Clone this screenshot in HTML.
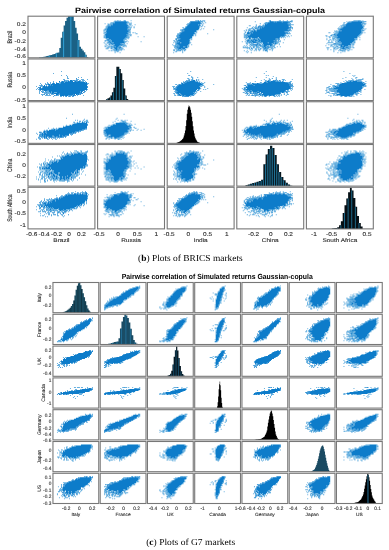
<!DOCTYPE html>
<html><head><meta charset="utf-8"><style>
html,body{margin:0;padding:0;background:#fff;}
svg{display:block;}
text{font-family:"Liberation Sans",Arial,sans-serif;text-rendering:geometricPrecision;}
text.t{stroke:#333;stroke-width:0.1px;}
text.serif{font-family:"Liberation Serif","Times New Roman",serif;}
</style></head><body>
<svg width="389" height="550" viewBox="0 0 389 550">
<defs><filter id="sb" x="-5%" y="-5%" width="110%" height="110%"><feGaussianBlur stdDeviation="0.35"/></filter></defs>
<rect width="389" height="550" fill="#fff"/>
<path d="M39.04 57.8V57.32H40.48V57.16H41.93V57H43.38V56.73H44.82V56.43H46.27V56.11H47.72V55.73H49.16V55.34H50.61V54.93H52.05V54.47H53.5V54.01H54.95V53.38H56.39V52.78H57.84V52.56H59.29V47.99H60.73V37.86H62.18V31.73H63.62V25.46H65.07V21.11H66.52V17.83H67.96V16.24H69.41V16.2H70.86V16.2H72.3V16.2H73.75V20.9H75.19V27.74H76.64V33.41H78.09V40.04H79.53V46.79H80.98V48.64H82.43V50.4H83.87V52.25H85.32V54.66H86.76V57.03H88.21V57.8Z" fill="#1b6185"/>
<path d="M41.93 57.8V57.16M49.16 57.8V55.73M56.39 57.8V53.38M63.62 57.8V31.73M70.86 57.8V16.2M78.09 57.8V40.04M85.32 57.8V54.66" stroke="#33a8e0" stroke-width="0.9" fill="none"/>
<rect x="28" y="16.2" width="66.9" height="41.6" fill="none" stroke="#777777" stroke-width="1.1"/>
<g transform="translate(97.6,16.2)" fill="#0a7cca" filter="url(#sb)"><path d="M17 4h1v1h-1zM19 4h1v1h-1zM33 4h1v1h-1zM16 5h1v1h-1zM29 5h2v1h-2zM14 6h1v1h-1zM16 6h1v1h-1zM30 6h2v1h-2zM33 6h1v1h-1zM7 7h1v1h-1zM10 7h1v1h-1zM12 7h3v1h-3zM31 7h2v1h-2zM12 8h1v1h-1zM31 8h3v1h-3zM37 8h1v1h-1zM9 9h1v1h-1zM12 9h1v1h-1zM32 9h1v1h-1zM34 9h1v1h-1zM8 10h1v1h-1zM33 10h1v1h-1zM36 10h1v1h-1zM8 11h1v1h-1zM31 11h2v1h-2zM7 12h1v1h-1zM6 13h1v1h-1zM32 14h1v1h-1zM6 15h1v1h-1zM31 15h1v1h-1zM6 16h1v1h-1zM31 16h1v1h-1zM37 16h1v1h-1zM32 17h1v1h-1zM38 17h2v1h-2zM31 18h2v1h-2zM6 19h1v1h-1zM32 19h2v1h-2zM6 20h2v1h-2zM30 20h2v1h-2zM40 20h1v1h-1zM46 20h1v1h-1zM6 21h2v1h-2zM30 21h2v1h-2zM10 22h1v1h-1zM28 22h1v1h-1zM12 23h1v1h-1zM27 23h1v1h-1zM9 24h1v1h-1zM13 24h1v1h-1zM29 24h1v1h-1zM7 25h1v1h-1zM10 25h1v1h-1zM30 25h1v1h-1zM43 25h1v1h-1zM6 26h1v1h-1zM9 26h1v1h-1zM27 26h1v1h-1zM7 27h1v1h-1zM9 27h1v1h-1zM12 27h1v1h-1zM29 27h1v1h-1zM16 28h1v1h-1zM26 28h2v1h-2zM7 29h1v1h-1zM11 29h1v1h-1zM15 29h1v1h-1zM22 29h1v1h-1zM24 29h1v1h-1zM26 29h3v1h-3zM7 30h2v1h-2zM10 30h1v1h-1zM12 30h1v1h-1zM25 30h2v1h-2zM28 30h1v1h-1zM9 31h3v1h-3zM14 31h2v1h-2zM24 31h1v1h-1zM8 32h1v1h-1zM10 32h1v1h-1zM16 32h1v1h-1zM20 32h1v1h-1zM22 32h4v1h-4zM15 33h3v1h-3zM22 33h1v1h-1zM24 33h1v1h-1zM26 33h1v1h-1zM11 34h1v1h-1zM13 34h2v1h-2zM17 34h1v1h-1zM19 34h1v1h-1zM21 34h1v1h-1zM23 34h1v1h-1zM17 35h1v1h-1zM19 35h2v1h-2zM17 36h1v1h-1zM22 36h1v1h-1z" fill-opacity="0.6"/><path d="M20 4h1v1h-1zM22 4h1v1h-1zM26 4h1v1h-1zM13 6h1v1h-1zM29 7h1v1h-1zM33 7h1v1h-1zM10 8h2v1h-2zM14 8h1v1h-1zM10 9h1v1h-1zM9 10h1v1h-1zM30 10h1v1h-1zM9 11h1v1h-1zM33 11h1v1h-1zM36 11h1v1h-1zM8 12h1v1h-1zM30 12h1v1h-1zM7 13h2v1h-2zM30 13h2v1h-2zM8 14h1v1h-1zM32 15h1v1h-1zM8 16h1v1h-1zM30 16h1v1h-1zM32 16h1v1h-1zM35 16h1v1h-1zM6 17h1v1h-1zM29 18h2v1h-2zM33 18h1v1h-1zM7 19h1v1h-1zM30 19h1v1h-1zM29 20h1v1h-1zM28 21h2v1h-2zM8 22h2v1h-2zM27 22h1v1h-1zM30 22h1v1h-1zM26 23h1v1h-1zM28 23h1v1h-1zM7 24h2v1h-2zM11 24h1v1h-1zM26 24h1v1h-1zM13 25h1v1h-1zM27 25h1v1h-1zM11 26h1v1h-1zM14 26h2v1h-2zM11 27h1v1h-1zM23 27h2v1h-2zM8 28h1v1h-1zM11 28h2v1h-2zM15 28h1v1h-1zM9 29h1v1h-1zM13 29h1v1h-1zM25 29h1v1h-1zM11 30h1v1h-1zM13 30h3v1h-3zM17 30h1v1h-1zM21 30h1v1h-1zM13 31h1v1h-1zM20 31h1v1h-1zM9 32h1v1h-1zM13 32h2v1h-2zM20 33h2v1h-2zM16 34h1v1h-1z" fill-opacity="0.8"/><path d="M27 4h1v1h-1zM17 5h12v1h-12zM15 6h1v1h-1zM17 6h13v1h-13zM15 7h14v1h-14zM13 8h1v1h-1zM15 8h15v1h-15zM11 9h1v1h-1zM13 9h18v1h-18zM10 10h20v1h-20zM31 10h1v1h-1zM10 11h21v1h-21zM9 12h21v1h-21zM32 12h1v1h-1zM9 13h21v1h-21zM32 13h1v1h-1zM6 14h1v1h-1zM9 14h23v1h-23zM8 15h23v1h-23zM7 16h1v1h-1zM9 16h21v1h-21zM8 17h23v1h-23zM7 18h22v1h-22zM8 19h22v1h-22zM8 20h21v1h-21zM8 21h20v1h-20zM11 22h16v1h-16zM9 23h3v1h-3zM13 23h13v1h-13zM10 24h1v1h-1zM12 24h1v1h-1zM14 24h12v1h-12zM11 25h2v1h-2zM14 25h13v1h-13zM28 25h1v1h-1zM10 26h1v1h-1zM12 26h2v1h-2zM16 26h11v1h-11zM13 27h10v1h-10zM26 27h1v1h-1zM14 28h1v1h-1zM17 28h9v1h-9zM16 29h6v1h-6zM23 29h1v1h-1zM16 30h1v1h-1zM18 30h3v1h-3zM22 30h1v1h-1zM16 31h4v1h-4zM21 31h3v1h-3zM17 32h3v1h-3zM21 32h1v1h-1zM18 33h2v1h-2zM23 33h1v1h-1zM18 34h1v1h-1zM20 34h1v1h-1z"/></g>
<rect x="97.6" y="16.2" width="66.9" height="41.6" fill="none" stroke="#777777" stroke-width="1.1"/>
<g transform="translate(167.2,16.2)" fill="#0a7cca" filter="url(#sb)"><path d="M28 4h3v1h-3zM35 4h3v1h-3zM37 5h1v1h-1zM35 6h1v1h-1zM38 6h1v1h-1zM20 7h1v1h-1zM36 7h1v1h-1zM19 8h2v1h-2zM35 8h1v1h-1zM18 10h1v1h-1zM37 10h1v1h-1zM15 11h2v1h-2zM32 11h1v1h-1zM16 12h1v1h-1zM34 12h1v1h-1zM36 12h1v1h-1zM13 13h2v1h-2zM31 13h1v1h-1zM33 13h1v1h-1zM46 13h1v1h-1zM13 14h2v1h-2zM29 14h1v1h-1zM14 15h1v1h-1zM29 15h1v1h-1zM12 16h1v1h-1zM29 16h1v1h-1zM10 17h2v1h-2zM28 17h1v1h-1zM40 17h1v1h-1zM28 18h1v1h-1zM9 19h1v1h-1zM26 19h1v1h-1zM28 19h1v1h-1zM9 20h1v1h-1zM8 22h1v1h-1zM24 22h1v1h-1zM8 23h1v1h-1zM24 23h1v1h-1zM6 24h1v1h-1zM7 25h3v1h-3zM6 26h1v1h-1zM8 26h1v1h-1zM13 26h1v1h-1zM23 26h1v1h-1zM8 27h1v1h-1zM22 27h1v1h-1zM5 28h1v1h-1zM21 28h1v1h-1zM24 28h1v1h-1zM6 29h2v1h-2zM9 29h1v1h-1zM21 29h1v1h-1zM7 30h1v1h-1zM20 30h2v1h-2zM8 31h1v1h-1zM20 31h1v1h-1zM8 32h2v1h-2zM6 33h2v1h-2zM9 33h2v1h-2zM12 33h1v1h-1zM15 33h3v1h-3zM6 34h2v1h-2zM9 34h2v1h-2zM15 34h1v1h-1zM8 35h2v1h-2zM15 35h1v1h-1zM6 36h1v1h-1zM15 36h1v1h-1z" fill-opacity="0.6"/><path d="M33 5h1v1h-1zM35 5h1v1h-1zM22 6h1v1h-1zM33 6h1v1h-1zM21 7h1v1h-1zM34 7h1v1h-1zM31 8h1v1h-1zM33 9h1v1h-1zM35 9h1v1h-1zM32 10h1v1h-1zM34 10h1v1h-1zM16 14h1v1h-1zM27 16h1v1h-1zM12 17h1v1h-1zM10 18h2v1h-2zM26 18h1v1h-1zM10 19h1v1h-1zM11 20h1v1h-1zM10 22h3v1h-3zM23 22h1v1h-1zM22 23h1v1h-1zM7 24h1v1h-1zM9 24h1v1h-1zM11 25h1v1h-1zM22 25h1v1h-1zM9 26h1v1h-1zM22 26h1v1h-1zM8 28h3v1h-3zM8 29h1v1h-1zM10 29h2v1h-2zM20 29h1v1h-1zM8 30h1v1h-1zM11 30h1v1h-1zM16 30h2v1h-2zM7 31h1v1h-1zM9 31h1v1h-1zM10 32h1v1h-1zM14 32h1v1h-1zM13 33h1v1h-1zM11 34h3v1h-3z" fill-opacity="0.8"/><path d="M31 4h1v1h-1zM33 4h1v1h-1zM23 5h10v1h-10zM34 5h1v1h-1zM23 6h10v1h-10zM22 7h12v1h-12zM21 8h10v1h-10zM32 8h1v1h-1zM20 9h13v1h-13zM19 10h13v1h-13zM18 11h14v1h-14zM17 12h15v1h-15zM15 13h16v1h-16zM15 14h1v1h-1zM17 14h12v1h-12zM15 15h14v1h-14zM13 16h14v1h-14zM13 17h15v1h-15zM12 18h14v1h-14zM11 19h15v1h-15zM10 20h1v1h-1zM12 20h13v1h-13zM10 21h15v1h-15zM9 22h1v1h-1zM13 22h10v1h-10zM9 23h1v1h-1zM11 23h11v1h-11zM10 24h13v1h-13zM10 25h1v1h-1zM12 25h10v1h-10zM10 26h3v1h-3zM14 26h8v1h-8zM9 27h13v1h-13zM11 28h10v1h-10zM12 29h8v1h-8zM9 30h2v1h-2zM12 30h4v1h-4zM18 30h2v1h-2zM10 31h10v1h-10zM11 32h3v1h-3zM15 32h3v1h-3zM11 33h1v1h-1zM14 33h1v1h-1zM18 33h1v1h-1zM17 34h1v1h-1z"/></g>
<rect x="167.2" y="16.2" width="66.9" height="41.6" fill="none" stroke="#777777" stroke-width="1.1"/>
<g transform="translate(236.8,16.2)" fill="#0a7cca" filter="url(#sb)"><path d="M32 4h1v1h-1zM42 4h1v1h-1zM46 4h1v1h-1zM54 4h2v1h-2zM18 5h1v1h-1zM32 5h1v1h-1zM55 5h1v1h-1zM28 6h1v1h-1zM27 7h1v1h-1zM52 7h1v1h-1zM19 8h1v1h-1zM26 8h1v1h-1zM54 8h3v1h-3zM12 9h2v1h-2zM22 9h2v1h-2zM25 9h1v1h-1zM16 10h1v1h-1zM18 10h2v1h-2zM54 10h1v1h-1zM10 11h1v1h-1zM17 11h2v1h-2zM20 11h1v1h-1zM22 11h1v1h-1zM54 11h1v1h-1zM12 12h2v1h-2zM15 12h1v1h-1zM22 12h1v1h-1zM9 13h1v1h-1zM11 13h1v1h-1zM13 13h1v1h-1zM51 13h1v1h-1zM7 14h1v1h-1zM11 14h1v1h-1zM13 14h1v1h-1zM16 14h1v1h-1zM53 14h2v1h-2zM8 15h1v1h-1zM13 15h1v1h-1zM49 15h2v1h-2zM52 17h2v1h-2zM7 18h2v1h-2zM12 18h1v1h-1zM7 19h1v1h-1zM49 19h1v1h-1zM54 19h1v1h-1zM7 20h2v1h-2zM10 20h1v1h-1zM50 20h1v1h-1zM52 20h1v1h-1zM7 21h2v1h-2zM46 21h1v1h-1zM48 21h1v1h-1zM15 22h2v1h-2zM18 22h1v1h-1zM22 22h1v1h-1zM8 23h1v1h-1zM10 23h1v1h-1zM13 23h1v1h-1zM15 23h1v1h-1zM20 23h1v1h-1zM40 23h1v1h-1zM47 23h1v1h-1zM9 24h1v1h-1zM43 24h1v1h-1zM5 25h1v1h-1zM8 25h1v1h-1zM20 25h1v1h-1zM40 25h4v1h-4zM9 26h3v1h-3zM15 26h1v1h-1zM21 26h2v1h-2zM25 26h1v1h-1zM37 26h1v1h-1zM40 26h2v1h-2zM46 26h1v1h-1zM9 27h1v1h-1zM12 27h1v1h-1zM15 27h2v1h-2zM24 27h1v1h-1zM35 27h1v1h-1zM40 27h1v1h-1zM42 27h1v1h-1zM10 28h1v1h-1zM14 28h1v1h-1zM21 28h1v1h-1zM37 28h2v1h-2zM42 28h1v1h-1zM7 29h1v1h-1zM9 29h1v1h-1zM12 29h1v1h-1zM15 29h3v1h-3zM20 29h2v1h-2zM25 29h1v1h-1zM30 29h1v1h-1zM36 29h1v1h-1zM6 30h1v1h-1zM8 30h1v1h-1zM10 30h1v1h-1zM21 30h1v1h-1zM23 30h2v1h-2zM29 30h1v1h-1zM32 30h1v1h-1zM34 30h4v1h-4zM40 30h1v1h-1zM43 30h1v1h-1zM6 31h3v1h-3zM10 31h2v1h-2zM17 31h1v1h-1zM19 31h3v1h-3zM25 31h1v1h-1zM33 31h2v1h-2zM37 31h2v1h-2zM10 32h1v1h-1zM18 32h2v1h-2zM21 32h1v1h-1zM24 32h1v1h-1zM26 32h1v1h-1zM31 32h1v1h-1zM34 32h3v1h-3zM13 33h1v1h-1zM15 33h1v1h-1zM18 33h1v1h-1zM21 33h3v1h-3zM26 33h1v1h-1zM28 33h1v1h-1zM30 33h1v1h-1zM32 33h2v1h-2zM7 34h1v1h-1zM10 34h1v1h-1zM14 34h1v1h-1zM17 34h1v1h-1zM19 34h1v1h-1zM22 34h1v1h-1zM26 34h1v1h-1zM30 34h1v1h-1zM35 34h1v1h-1zM9 35h1v1h-1zM11 35h1v1h-1zM30 35h1v1h-1zM10 36h1v1h-1zM14 36h1v1h-1z" fill-opacity="0.6"/><path d="M43 4h1v1h-1zM50 4h1v1h-1zM37 5h1v1h-1zM39 5h1v1h-1zM45 5h1v1h-1zM51 5h2v1h-2zM30 6h1v1h-1zM23 7h1v1h-1zM29 7h1v1h-1zM51 7h1v1h-1zM53 8h1v1h-1zM19 9h1v1h-1zM27 9h1v1h-1zM52 9h2v1h-2zM26 10h1v1h-1zM19 11h1v1h-1zM24 11h1v1h-1zM14 12h1v1h-1zM16 12h1v1h-1zM20 12h2v1h-2zM52 12h2v1h-2zM55 12h1v1h-1zM12 13h1v1h-1zM16 13h1v1h-1zM53 13h1v1h-1zM9 14h1v1h-1zM14 14h1v1h-1zM19 14h1v1h-1zM48 15h1v1h-1zM51 15h1v1h-1zM15 16h1v1h-1zM52 16h1v1h-1zM7 17h1v1h-1zM13 17h1v1h-1zM49 17h1v1h-1zM51 17h1v1h-1zM10 18h2v1h-2zM48 18h1v1h-1zM8 19h2v1h-2zM48 19h1v1h-1zM51 19h1v1h-1zM9 20h1v1h-1zM44 20h1v1h-1zM46 20h2v1h-2zM9 21h1v1h-1zM11 21h1v1h-1zM14 21h1v1h-1zM44 21h1v1h-1zM9 22h1v1h-1zM19 22h2v1h-2zM39 22h2v1h-2zM42 22h1v1h-1zM12 23h1v1h-1zM23 23h1v1h-1zM39 23h1v1h-1zM41 23h2v1h-2zM13 24h1v1h-1zM17 24h1v1h-1zM21 24h1v1h-1zM37 24h1v1h-1zM39 24h1v1h-1zM41 24h1v1h-1zM11 25h4v1h-4zM19 25h1v1h-1zM23 25h1v1h-1zM39 25h1v1h-1zM12 26h2v1h-2zM24 26h1v1h-1zM31 26h1v1h-1zM39 26h1v1h-1zM10 27h1v1h-1zM14 27h1v1h-1zM21 27h2v1h-2zM37 27h1v1h-1zM15 28h1v1h-1zM25 28h2v1h-2zM14 29h1v1h-1zM18 29h1v1h-1zM22 29h1v1h-1zM24 29h1v1h-1zM26 29h1v1h-1zM31 29h1v1h-1zM35 29h1v1h-1zM37 29h1v1h-1zM13 30h1v1h-1zM16 30h2v1h-2zM19 30h2v1h-2zM25 30h2v1h-2zM33 30h1v1h-1zM9 31h1v1h-1zM12 31h1v1h-1zM14 31h1v1h-1zM16 31h1v1h-1zM22 31h1v1h-1zM27 31h1v1h-1zM30 31h1v1h-1zM32 31h1v1h-1zM35 31h1v1h-1zM12 32h1v1h-1zM14 32h2v1h-2zM29 32h1v1h-1zM19 33h1v1h-1zM27 33h1v1h-1zM35 33h1v1h-1z" fill-opacity="0.8"/><path d="M33 4h1v1h-1zM33 5h4v1h-4zM38 5h1v1h-1zM40 5h5v1h-5zM46 5h5v1h-5zM53 5h2v1h-2zM29 6h1v1h-1zM31 6h22v1h-22zM28 7h1v1h-1zM30 7h21v1h-21zM53 7h1v1h-1zM28 8h25v1h-25zM26 9h1v1h-1zM28 9h24v1h-24zM21 10h5v1h-5zM27 10h25v1h-25zM53 10h1v1h-1zM15 11h1v1h-1zM21 11h1v1h-1zM23 11h1v1h-1zM25 11h29v1h-29zM55 11h1v1h-1zM18 12h2v1h-2zM23 12h29v1h-29zM17 13h1v1h-1zM20 13h31v1h-31zM52 13h1v1h-1zM12 14h1v1h-1zM15 14h1v1h-1zM17 14h2v1h-2zM20 14h33v1h-33zM11 15h1v1h-1zM14 15h34v1h-34zM8 16h1v1h-1zM10 16h5v1h-5zM16 16h35v1h-35zM10 17h3v1h-3zM14 17h35v1h-35zM50 17h1v1h-1zM9 18h1v1h-1zM13 18h35v1h-35zM10 19h38v1h-38zM11 20h33v1h-33zM45 20h1v1h-1zM10 21h1v1h-1zM12 21h2v1h-2zM15 21h6v1h-6zM22 21h21v1h-21zM12 22h2v1h-2zM17 22h1v1h-1zM21 22h1v1h-1zM23 22h16v1h-16zM41 22h1v1h-1zM11 23h1v1h-1zM14 23h1v1h-1zM16 23h4v1h-4zM21 23h2v1h-2zM24 23h15v1h-15zM10 24h3v1h-3zM14 24h3v1h-3zM18 24h3v1h-3zM22 24h15v1h-15zM38 24h1v1h-1zM10 25h1v1h-1zM15 25h4v1h-4zM21 25h2v1h-2zM24 25h15v1h-15zM14 26h1v1h-1zM16 26h5v1h-5zM23 26h1v1h-1zM26 26h5v1h-5zM32 26h5v1h-5zM38 26h1v1h-1zM20 27h1v1h-1zM26 27h9v1h-9zM36 27h1v1h-1zM38 27h2v1h-2zM13 28h1v1h-1zM16 28h5v1h-5zM22 28h2v1h-2zM27 28h9v1h-9zM19 29h1v1h-1zM23 29h1v1h-1zM27 29h3v1h-3zM33 29h2v1h-2zM27 30h2v1h-2zM30 30h2v1h-2zM26 31h1v1h-1zM28 31h2v1h-2zM31 31h1v1h-1zM23 32h1v1h-1zM27 32h2v1h-2zM30 32h1v1h-1zM29 33h1v1h-1zM28 34h2v1h-2z"/></g>
<rect x="236.8" y="16.2" width="66.9" height="41.6" fill="none" stroke="#777777" stroke-width="1.1"/>
<g transform="translate(306.4,16.2)" fill="#0a7cca" filter="url(#sb)"><path d="M47 4h5v1h-5zM54 4h1v1h-1zM56 4h1v1h-1zM40 5h1v1h-1zM42 5h3v1h-3zM37 6h2v1h-2zM56 6h2v1h-2zM37 7h1v1h-1zM55 7h1v1h-1zM57 7h1v1h-1zM59 7h1v1h-1zM36 8h2v1h-2zM56 8h1v1h-1zM34 9h3v1h-3zM56 9h2v1h-2zM33 10h1v1h-1zM32 11h1v1h-1zM34 11h1v1h-1zM31 12h1v1h-1zM33 12h1v1h-1zM56 12h1v1h-1zM59 12h1v1h-1zM56 13h1v1h-1zM58 13h1v1h-1zM28 14h1v1h-1zM32 14h1v1h-1zM28 15h2v1h-2zM31 15h1v1h-1zM22 16h2v1h-2zM27 16h1v1h-1zM29 16h2v1h-2zM56 16h1v1h-1zM58 16h1v1h-1zM30 17h1v1h-1zM55 17h1v1h-1zM25 18h2v1h-2zM54 18h1v1h-1zM19 19h2v1h-2zM27 19h1v1h-1zM53 19h1v1h-1zM20 20h1v1h-1zM22 20h2v1h-2zM26 20h1v1h-1zM28 20h1v1h-1zM30 20h1v1h-1zM52 20h1v1h-1zM29 21h1v1h-1zM53 21h1v1h-1zM20 22h1v1h-1zM28 22h1v1h-1zM48 22h3v1h-3zM20 23h1v1h-1zM23 23h2v1h-2zM26 23h2v1h-2zM49 23h2v1h-2zM53 23h1v1h-1zM25 24h1v1h-1zM27 24h1v1h-1zM29 24h2v1h-2zM48 24h1v1h-1zM22 25h1v1h-1zM47 25h2v1h-2zM21 26h6v1h-6zM29 26h1v1h-1zM31 26h2v1h-2zM20 27h1v1h-1zM30 27h1v1h-1zM32 27h1v1h-1zM34 27h1v1h-1zM44 27h4v1h-4zM24 28h6v1h-6zM31 28h1v1h-1zM47 28h1v1h-1zM19 29h1v1h-1zM24 29h2v1h-2zM28 29h1v1h-1zM32 29h1v1h-1zM44 29h1v1h-1zM46 29h1v1h-1zM24 30h1v1h-1zM27 30h1v1h-1zM29 30h1v1h-1zM39 30h1v1h-1zM41 30h1v1h-1zM43 30h2v1h-2zM46 30h1v1h-1zM20 31h3v1h-3zM27 31h3v1h-3zM31 31h2v1h-2zM38 31h1v1h-1zM43 31h1v1h-1zM46 31h2v1h-2zM21 32h1v1h-1zM31 32h1v1h-1zM40 32h1v1h-1zM43 32h1v1h-1zM21 33h1v1h-1zM24 33h1v1h-1zM27 33h1v1h-1zM29 33h1v1h-1zM36 33h3v1h-3zM41 33h1v1h-1zM45 33h1v1h-1zM27 34h1v1h-1zM37 34h1v1h-1zM41 34h2v1h-2zM27 35h1v1h-1zM36 35h1v1h-1zM38 35h1v1h-1zM31 36h1v1h-1zM34 36h1v1h-1z" fill-opacity="0.6"/><path d="M53 4h1v1h-1zM56 5h1v1h-1zM58 5h2v1h-2zM38 8h1v1h-1zM58 8h1v1h-1zM38 9h1v1h-1zM57 10h1v1h-1zM35 11h1v1h-1zM32 12h1v1h-1zM57 12h1v1h-1zM32 13h1v1h-1zM55 13h1v1h-1zM30 14h1v1h-1zM34 14h1v1h-1zM55 14h3v1h-3zM30 15h1v1h-1zM55 15h1v1h-1zM31 16h1v1h-1zM55 16h1v1h-1zM29 17h1v1h-1zM54 17h1v1h-1zM29 18h1v1h-1zM53 18h1v1h-1zM28 19h2v1h-2zM52 19h1v1h-1zM27 20h1v1h-1zM51 20h1v1h-1zM26 21h1v1h-1zM26 22h1v1h-1zM30 22h3v1h-3zM31 23h1v1h-1zM31 24h1v1h-1zM25 25h1v1h-1zM33 25h1v1h-1zM30 26h1v1h-1zM34 26h1v1h-1zM47 26h2v1h-2zM33 27h1v1h-1zM22 28h1v1h-1zM30 28h1v1h-1zM30 29h1v1h-1zM33 29h1v1h-1zM36 29h1v1h-1zM43 29h1v1h-1zM26 30h1v1h-1zM30 30h2v1h-2zM33 31h3v1h-3zM42 31h1v1h-1zM44 31h1v1h-1zM27 32h2v1h-2zM30 32h1v1h-1zM34 32h1v1h-1zM39 32h1v1h-1zM41 32h2v1h-2zM34 33h1v1h-1zM43 33h1v1h-1zM32 34h1v1h-1zM35 34h2v1h-2zM38 34h1v1h-1z" fill-opacity="0.8"/><path d="M52 4h1v1h-1zM45 5h11v1h-11zM57 5h1v1h-1zM41 6h15v1h-15zM40 7h15v1h-15zM56 7h1v1h-1zM58 7h1v1h-1zM39 8h17v1h-17zM37 9h1v1h-1zM39 9h17v1h-17zM35 10h1v1h-1zM37 10h20v1h-20zM36 11h21v1h-21zM34 12h22v1h-22zM33 13h22v1h-22zM33 14h1v1h-1zM35 14h20v1h-20zM32 15h23v1h-23zM32 16h23v1h-23zM28 17h1v1h-1zM31 17h23v1h-23zM27 18h2v1h-2zM30 18h23v1h-23zM24 19h2v1h-2zM30 19h22v1h-22zM29 20h1v1h-1zM31 20h20v1h-20zM23 21h1v1h-1zM28 21h1v1h-1zM30 21h21v1h-21zM27 22h1v1h-1zM33 22h15v1h-15zM29 23h1v1h-1zM32 23h17v1h-17zM22 24h1v1h-1zM32 24h16v1h-16zM29 25h1v1h-1zM31 25h2v1h-2zM34 25h13v1h-13zM33 26h1v1h-1zM35 26h11v1h-11zM27 27h3v1h-3zM31 27h1v1h-1zM35 27h9v1h-9zM32 28h13v1h-13zM46 28h1v1h-1zM34 29h2v1h-2zM37 29h5v1h-5zM34 30h5v1h-5zM40 30h1v1h-1zM42 30h1v1h-1zM36 31h2v1h-2zM39 31h3v1h-3zM35 32h4v1h-4zM33 33h1v1h-1zM39 33h1v1h-1zM34 34h1v1h-1z"/></g>
<rect x="306.4" y="16.2" width="66.9" height="41.6" fill="none" stroke="#777777" stroke-width="1.1"/>
<g transform="translate(28,58.97)" fill="#0a7cca" filter="url(#sb)"><path d="M33 12h1v1h-1zM25 14h1v1h-1zM33 16h1v1h-1zM38 16h1v1h-1zM39 17h1v1h-1zM39 18h1v1h-1zM50 18h1v1h-1zM53 18h1v1h-1zM39 19h2v1h-2zM35 20h2v1h-2zM48 20h3v1h-3zM53 20h3v1h-3zM59 20h1v1h-1zM37 21h4v1h-4zM44 21h1v1h-1zM47 21h1v1h-1zM49 21h1v1h-1zM51 21h2v1h-2zM54 21h3v1h-3zM25 22h1v1h-1zM33 22h1v1h-1zM37 22h1v1h-1zM39 22h1v1h-1zM46 22h1v1h-1zM53 22h3v1h-3zM57 22h1v1h-1zM19 23h1v1h-1zM22 23h1v1h-1zM25 23h1v1h-1zM28 23h1v1h-1zM31 23h2v1h-2zM36 23h1v1h-1zM57 23h1v1h-1zM12 24h1v1h-1zM17 24h1v1h-1zM19 24h2v1h-2zM22 24h1v1h-1zM31 24h1v1h-1zM59 24h2v1h-2zM13 25h1v1h-1zM17 25h1v1h-1zM19 25h1v1h-1zM22 25h1v1h-1zM59 25h1v1h-1zM11 26h2v1h-2zM14 26h1v1h-1zM18 26h1v1h-1zM20 26h1v1h-1zM8 27h1v1h-1zM12 27h3v1h-3zM19 27h1v1h-1zM14 28h1v1h-1zM9 29h1v1h-1zM8 30h1v1h-1zM10 30h1v1h-1zM59 30h1v1h-1zM11 31h1v1h-1zM14 31h2v1h-2zM58 31h1v1h-1zM11 32h1v1h-1zM14 32h2v1h-2zM18 32h3v1h-3zM52 32h1v1h-1zM57 32h1v1h-1zM11 33h1v1h-1zM15 33h3v1h-3zM19 33h3v1h-3zM23 33h1v1h-1zM26 33h3v1h-3zM56 33h1v1h-1zM11 34h1v1h-1zM16 34h7v1h-7zM13 35h3v1h-3zM19 35h1v1h-1zM21 35h1v1h-1zM23 35h3v1h-3zM31 35h1v1h-1zM51 35h1v1h-1zM14 36h1v1h-1zM17 36h6v1h-6zM27 36h1v1h-1zM29 36h2v1h-2zM40 36h1v1h-1zM44 36h1v1h-1zM49 36h1v1h-1zM55 36h1v1h-1zM25 37h1v1h-1zM32 37h2v1h-2zM35 37h1v1h-1zM37 37h1v1h-1zM40 37h1v1h-1zM42 37h1v1h-1zM45 37h1v1h-1z" fill-opacity="0.6"/><path d="M48 19h1v1h-1zM36 21h1v1h-1zM45 21h2v1h-2zM48 21h1v1h-1zM35 22h2v1h-2zM38 22h1v1h-1zM41 22h1v1h-1zM48 22h2v1h-2zM52 22h1v1h-1zM24 24h1v1h-1zM26 24h1v1h-1zM32 24h1v1h-1zM18 25h1v1h-1zM13 26h1v1h-1zM22 26h1v1h-1zM24 26h1v1h-1zM17 27h1v1h-1zM59 27h1v1h-1zM10 28h2v1h-2zM59 28h1v1h-1zM11 29h1v1h-1zM13 29h1v1h-1zM11 30h1v1h-1zM12 31h1v1h-1zM19 31h2v1h-2zM56 31h1v1h-1zM13 32h1v1h-1zM17 32h1v1h-1zM23 32h1v1h-1zM54 32h1v1h-1zM56 32h1v1h-1zM14 33h1v1h-1zM18 33h1v1h-1zM52 33h1v1h-1zM55 33h1v1h-1zM23 34h1v1h-1zM25 34h1v1h-1zM31 34h1v1h-1zM51 34h4v1h-4zM16 35h1v1h-1zM18 35h1v1h-1zM30 35h1v1h-1zM45 35h1v1h-1zM49 35h1v1h-1zM52 35h1v1h-1zM26 36h1v1h-1zM28 36h1v1h-1zM36 36h1v1h-1zM41 36h3v1h-3zM46 36h2v1h-2zM38 37h1v1h-1zM41 37h1v1h-1zM44 37h1v1h-1z" fill-opacity="0.8"/><path d="M42 21h2v1h-2zM31 22h1v1h-1zM34 22h1v1h-1zM40 22h1v1h-1zM42 22h3v1h-3zM47 22h1v1h-1zM50 22h2v1h-2zM33 23h3v1h-3zM37 23h20v1h-20zM58 23h1v1h-1zM25 24h1v1h-1zM28 24h3v1h-3zM33 24h26v1h-26zM20 25h2v1h-2zM23 25h36v1h-36zM16 26h1v1h-1zM21 26h1v1h-1zM23 26h1v1h-1zM25 26h34v1h-34zM15 27h2v1h-2zM18 27h1v1h-1zM20 27h39v1h-39zM12 28h1v1h-1zM15 28h44v1h-44zM12 29h1v1h-1zM14 29h45v1h-45zM12 30h47v1h-47zM16 31h3v1h-3zM21 31h35v1h-35zM21 32h2v1h-2zM24 32h28v1h-28zM53 32h1v1h-1zM22 33h1v1h-1zM24 33h2v1h-2zM29 33h23v1h-23zM53 33h1v1h-1zM24 34h1v1h-1zM26 34h5v1h-5zM32 34h19v1h-19zM28 35h2v1h-2zM32 35h13v1h-13zM46 35h1v1h-1zM48 35h1v1h-1zM50 35h1v1h-1zM32 36h4v1h-4zM37 36h3v1h-3zM45 36h1v1h-1z"/></g>
<rect x="28" y="58.97" width="66.9" height="41.6" fill="none" stroke="#777777" stroke-width="1.1"/>
<path d="M105.96 100.57V99.21H107.45V98.35H108.93V97.47H110.42V95.38H111.9V92.32H113.38V87.68H114.87V76.11H116.35V66.87H117.84V66.87H119.32V68.91H120.81V73.36H122.29V79.96H123.77V88.44H125.26V95.61H126.74V99.05H128.23V100.07H129.71V100.57Z" fill="#071820"/>
<path d="M107.45 100.57V99.21M110.42 100.57V97.47M113.38 100.57V92.32M116.35 100.57V76.11M119.32 100.57V68.91M122.29 100.57V79.96M125.26 100.57V95.61M128.23 100.57V100.07" stroke="#2585b0" stroke-width="0.8" fill="none"/>
<rect x="97.6" y="58.97" width="66.9" height="41.6" fill="none" stroke="#777777" stroke-width="1.1"/>
<g transform="translate(167.2,58.97)" fill="#0a7cca" filter="url(#sb)"><path d="M23 12h1v1h-1zM20 14h1v1h-1zM21 16h2v1h-2zM24 17h1v1h-1zM24 18h2v1h-2zM30 18h1v1h-1zM20 19h2v1h-2zM21 20h2v1h-2zM24 20h1v1h-1zM31 20h1v1h-1zM35 20h1v1h-1zM20 21h1v1h-1zM31 21h1v1h-1zM16 22h1v1h-1zM29 22h1v1h-1zM32 22h1v1h-1zM14 23h1v1h-1zM34 23h1v1h-1zM37 23h1v1h-1zM16 24h1v1h-1zM34 24h1v1h-1zM36 24h1v1h-1zM8 25h2v1h-2zM11 25h1v1h-1zM46 25h1v1h-1zM34 26h1v1h-1zM36 26h1v1h-1zM5 27h3v1h-3zM33 27h2v1h-2zM37 27h1v1h-1zM8 28h1v1h-1zM37 28h1v1h-1zM6 29h1v1h-1zM33 29h1v1h-1zM40 29h1v1h-1zM6 30h2v1h-2zM32 30h1v1h-1zM36 30h1v1h-1zM38 30h1v1h-1zM7 32h2v1h-2zM29 32h1v1h-1zM33 32h1v1h-1zM29 33h1v1h-1zM6 34h2v1h-2zM12 34h1v1h-1zM27 34h1v1h-1zM7 35h1v1h-1zM10 35h1v1h-1zM13 35h1v1h-1zM26 35h2v1h-2zM7 36h2v1h-2zM10 36h1v1h-1zM14 36h1v1h-1zM23 36h2v1h-2zM16 37h1v1h-1zM23 37h1v1h-1z" fill-opacity="0.6"/><path d="M25 19h1v1h-1zM25 20h1v1h-1zM29 20h1v1h-1zM19 21h1v1h-1zM21 21h2v1h-2zM24 21h1v1h-1zM19 22h1v1h-1zM21 22h1v1h-1zM28 22h1v1h-1zM30 22h1v1h-1zM16 23h1v1h-1zM18 23h1v1h-1zM31 23h2v1h-2zM35 24h1v1h-1zM13 25h1v1h-1zM35 25h1v1h-1zM10 26h1v1h-1zM33 26h1v1h-1zM35 26h1v1h-1zM9 27h1v1h-1zM32 27h1v1h-1zM6 28h1v1h-1zM8 29h1v1h-1zM8 31h1v1h-1zM31 31h1v1h-1zM9 32h1v1h-1zM28 32h1v1h-1zM8 33h1v1h-1zM26 33h2v1h-2zM9 34h1v1h-1zM28 34h1v1h-1zM11 36h1v1h-1zM17 36h1v1h-1zM25 36h2v1h-2zM15 37h1v1h-1zM17 37h5v1h-5z" fill-opacity="0.8"/><path d="M25 21h3v1h-3zM29 21h1v1h-1zM18 22h1v1h-1zM20 22h1v1h-1zM22 22h6v1h-6zM17 23h1v1h-1zM19 23h12v1h-12zM14 24h2v1h-2zM17 24h17v1h-17zM12 25h1v1h-1zM14 25h21v1h-21zM11 26h22v1h-22zM10 27h22v1h-22zM9 28h24v1h-24zM7 29h1v1h-1zM9 29h24v1h-24zM8 30h22v1h-22zM31 30h1v1h-1zM9 31h20v1h-20zM30 31h1v1h-1zM10 32h18v1h-18zM9 33h17v1h-17zM10 34h2v1h-2zM13 34h14v1h-14zM11 35h2v1h-2zM14 35h12v1h-12zM12 36h2v1h-2zM15 36h2v1h-2zM18 36h5v1h-5z"/></g>
<rect x="167.2" y="58.97" width="66.9" height="41.6" fill="none" stroke="#777777" stroke-width="1.1"/>
<g transform="translate(236.8,58.97)" fill="#0a7cca" filter="url(#sb)"><path d="M29 12h1v1h-1zM27 14h1v1h-1zM29 16h1v1h-1zM31 16h1v1h-1zM36 17h1v1h-1zM19 18h1v1h-1zM29 18h1v1h-1zM39 18h1v1h-1zM32 19h1v1h-1zM39 19h1v1h-1zM27 20h1v1h-1zM32 20h2v1h-2zM45 20h3v1h-3zM55 20h1v1h-1zM24 21h1v1h-1zM28 21h2v1h-2zM33 21h1v1h-1zM39 21h1v1h-1zM43 21h1v1h-1zM48 21h1v1h-1zM18 22h1v1h-1zM29 22h1v1h-1zM42 22h1v1h-1zM46 22h1v1h-1zM53 22h2v1h-2zM9 23h1v1h-1zM13 23h1v1h-1zM23 23h2v1h-2zM51 23h1v1h-1zM10 24h4v1h-4zM17 24h3v1h-3zM23 24h2v1h-2zM55 24h1v1h-1zM55 25h1v1h-1zM7 26h1v1h-1zM55 27h2v1h-2zM7 28h2v1h-2zM55 28h1v1h-1zM5 29h1v1h-1zM55 29h1v1h-1zM6 30h1v1h-1zM53 30h1v1h-1zM55 30h1v1h-1zM7 31h2v1h-2zM50 31h2v1h-2zM54 31h1v1h-1zM9 32h1v1h-1zM15 32h1v1h-1zM50 32h3v1h-3zM6 33h2v1h-2zM10 33h1v1h-1zM12 33h1v1h-1zM14 33h1v1h-1zM44 33h1v1h-1zM47 33h1v1h-1zM8 34h2v1h-2zM11 34h1v1h-1zM15 34h1v1h-1zM47 34h1v1h-1zM50 34h1v1h-1zM12 35h1v1h-1zM15 35h1v1h-1zM17 35h2v1h-2zM20 35h2v1h-2zM24 35h1v1h-1zM39 35h3v1h-3zM44 35h1v1h-1zM50 35h2v1h-2zM9 36h1v1h-1zM11 36h2v1h-2zM14 36h1v1h-1zM17 36h1v1h-1zM20 36h2v1h-2zM24 36h1v1h-1zM26 36h1v1h-1zM31 36h1v1h-1zM41 36h2v1h-2zM44 36h1v1h-1zM49 36h1v1h-1zM18 37h1v1h-1zM22 37h1v1h-1zM25 37h1v1h-1zM27 37h1v1h-1zM29 37h1v1h-1zM32 37h1v1h-1zM38 37h1v1h-1zM40 37h1v1h-1zM42 37h1v1h-1z" fill-opacity="0.6"/><path d="M35 19h1v1h-1zM39 20h1v1h-1zM31 21h2v1h-2zM37 21h1v1h-1zM40 21h1v1h-1zM46 21h1v1h-1zM28 22h1v1h-1zM33 22h1v1h-1zM39 22h1v1h-1zM41 22h1v1h-1zM30 23h1v1h-1zM49 23h2v1h-2zM52 23h2v1h-2zM22 24h1v1h-1zM25 24h1v1h-1zM52 24h1v1h-1zM10 25h4v1h-4zM15 25h1v1h-1zM53 25h2v1h-2zM10 26h1v1h-1zM17 26h1v1h-1zM53 26h2v1h-2zM10 27h1v1h-1zM54 27h1v1h-1zM8 29h1v1h-1zM54 29h1v1h-1zM7 30h2v1h-2zM9 31h1v1h-1zM11 31h1v1h-1zM14 31h1v1h-1zM8 32h1v1h-1zM10 32h3v1h-3zM21 32h1v1h-1zM48 32h2v1h-2zM17 33h1v1h-1zM19 33h1v1h-1zM49 33h2v1h-2zM14 34h1v1h-1zM16 34h2v1h-2zM19 34h2v1h-2zM22 34h2v1h-2zM10 35h1v1h-1zM19 35h1v1h-1zM42 35h1v1h-1zM47 35h1v1h-1zM15 36h2v1h-2zM18 36h2v1h-2zM35 36h1v1h-1zM39 36h1v1h-1zM37 37h1v1h-1z" fill-opacity="0.8"/><path d="M36 21h1v1h-1zM38 21h1v1h-1zM42 21h1v1h-1zM30 22h3v1h-3zM34 22h5v1h-5zM40 22h1v1h-1zM43 22h1v1h-1zM45 22h1v1h-1zM27 23h3v1h-3zM31 23h18v1h-18zM15 24h2v1h-2zM20 24h2v1h-2zM26 24h26v1h-26zM53 24h1v1h-1zM14 25h1v1h-1zM16 25h37v1h-37zM8 26h1v1h-1zM11 26h6v1h-6zM18 26h35v1h-35zM55 26h1v1h-1zM9 27h1v1h-1zM11 27h43v1h-43zM9 28h45v1h-45zM7 29h1v1h-1zM10 29h44v1h-44zM9 30h43v1h-43zM10 31h1v1h-1zM12 31h2v1h-2zM15 31h34v1h-34zM13 32h2v1h-2zM16 32h5v1h-5zM22 32h26v1h-26zM9 33h1v1h-1zM13 33h1v1h-1zM16 33h1v1h-1zM18 33h1v1h-1zM20 33h3v1h-3zM24 33h20v1h-20zM45 33h2v1h-2zM10 34h1v1h-1zM13 34h1v1h-1zM18 34h1v1h-1zM24 34h1v1h-1zM26 34h18v1h-18zM22 35h2v1h-2zM25 35h14v1h-14zM23 36h1v1h-1zM25 36h1v1h-1zM27 36h4v1h-4zM32 36h3v1h-3zM36 36h2v1h-2zM28 37h1v1h-1z"/></g>
<rect x="236.8" y="58.97" width="66.9" height="41.6" fill="none" stroke="#777777" stroke-width="1.1"/>
<g transform="translate(306.4,58.97)" fill="#0a7cca" filter="url(#sb)"><path d="M37 12h1v1h-1zM43 14h1v1h-1zM46 16h1v1h-1zM48 16h1v1h-1zM47 17h1v1h-1zM39 18h1v1h-1zM49 18h2v1h-2zM36 19h1v1h-1zM45 19h1v1h-1zM49 19h1v1h-1zM56 19h1v1h-1zM50 20h1v1h-1zM53 20h4v1h-4zM39 21h1v1h-1zM43 21h2v1h-2zM46 21h2v1h-2zM53 21h1v1h-1zM37 22h1v1h-1zM41 22h1v1h-1zM55 22h1v1h-1zM59 22h1v1h-1zM34 23h1v1h-1zM38 23h2v1h-2zM29 24h4v1h-4zM57 24h1v1h-1zM59 24h1v1h-1zM24 25h1v1h-1zM32 25h1v1h-1zM26 26h3v1h-3zM30 26h2v1h-2zM58 26h2v1h-2zM22 27h1v1h-1zM26 27h1v1h-1zM56 27h1v1h-1zM58 27h2v1h-2zM20 28h1v1h-1zM22 28h1v1h-1zM25 28h1v1h-1zM28 28h1v1h-1zM20 29h1v1h-1zM22 29h2v1h-2zM26 29h1v1h-1zM20 30h1v1h-1zM22 30h2v1h-2zM25 30h2v1h-2zM58 30h1v1h-1zM19 31h2v1h-2zM24 31h4v1h-4zM29 31h1v1h-1zM53 31h1v1h-1zM20 32h1v1h-1zM22 32h1v1h-1zM24 32h1v1h-1zM54 32h1v1h-1zM20 33h1v1h-1zM28 33h2v1h-2zM50 33h2v1h-2zM54 33h1v1h-1zM19 34h1v1h-1zM23 34h1v1h-1zM25 34h5v1h-5zM32 34h1v1h-1zM48 34h1v1h-1zM50 34h3v1h-3zM28 35h1v1h-1zM47 35h1v1h-1zM54 35h1v1h-1zM22 36h1v1h-1zM24 36h1v1h-1zM30 36h1v1h-1zM46 36h1v1h-1zM50 36h1v1h-1zM24 37h1v1h-1zM34 37h2v1h-2zM42 37h4v1h-4zM47 37h1v1h-1z" fill-opacity="0.6"/><path d="M46 20h1v1h-1zM52 20h1v1h-1zM42 21h1v1h-1zM49 21h1v1h-1zM51 21h1v1h-1zM54 21h1v1h-1zM42 22h1v1h-1zM45 22h1v1h-1zM51 22h1v1h-1zM53 22h1v1h-1zM56 23h2v1h-2zM34 24h1v1h-1zM23 27h1v1h-1zM27 27h1v1h-1zM30 27h2v1h-2zM57 27h1v1h-1zM21 28h1v1h-1zM56 28h1v1h-1zM24 29h1v1h-1zM24 30h1v1h-1zM28 30h1v1h-1zM30 30h1v1h-1zM23 31h1v1h-1zM25 32h1v1h-1zM27 32h1v1h-1zM29 32h1v1h-1zM52 32h2v1h-2zM21 33h1v1h-1zM30 33h2v1h-2zM30 34h1v1h-1zM27 35h1v1h-1zM49 35h1v1h-1zM27 36h1v1h-1zM29 36h1v1h-1zM33 36h1v1h-1zM44 36h2v1h-2zM38 37h3v1h-3z" fill-opacity="0.8"/><path d="M45 21h1v1h-1zM50 21h1v1h-1zM52 21h1v1h-1zM40 22h1v1h-1zM43 22h2v1h-2zM46 22h5v1h-5zM52 22h1v1h-1zM54 22h1v1h-1zM40 23h16v1h-16zM35 24h22v1h-22zM58 24h1v1h-1zM31 25h1v1h-1zM33 25h26v1h-26zM32 26h26v1h-26zM28 27h2v1h-2zM32 27h24v1h-24zM27 28h1v1h-1zM29 28h27v1h-27zM25 29h1v1h-1zM27 29h29v1h-29zM27 30h1v1h-1zM29 30h1v1h-1zM31 30h24v1h-24zM28 31h1v1h-1zM30 31h23v1h-23zM54 31h1v1h-1zM26 32h1v1h-1zM28 32h1v1h-1zM30 32h22v1h-22zM22 33h1v1h-1zM32 33h18v1h-18zM33 34h15v1h-15zM49 34h1v1h-1zM30 35h17v1h-17zM50 35h1v1h-1zM31 36h1v1h-1zM34 36h10v1h-10z"/></g>
<rect x="306.4" y="58.97" width="66.9" height="41.6" fill="none" stroke="#777777" stroke-width="1.1"/>
<g transform="translate(28,101.74)" fill="#0a7cca" filter="url(#sb)"><path d="M44 12h1v1h-1zM38 16h1v1h-1zM56 17h1v1h-1zM47 18h1v1h-1zM49 18h1v1h-1zM55 18h1v1h-1zM58 18h2v1h-2zM51 19h1v1h-1zM54 19h1v1h-1zM56 19h3v1h-3zM45 20h2v1h-2zM51 20h1v1h-1zM55 20h1v1h-1zM59 20h2v1h-2zM46 21h2v1h-2zM44 22h1v1h-1zM38 23h1v1h-1zM41 23h1v1h-1zM43 23h1v1h-1zM35 24h1v1h-1zM37 24h1v1h-1zM20 26h1v1h-1zM25 26h1v1h-1zM28 26h1v1h-1zM30 26h1v1h-1zM23 27h1v1h-1zM27 27h1v1h-1zM57 27h2v1h-2zM16 28h1v1h-1zM55 28h1v1h-1zM15 29h1v1h-1zM51 29h1v1h-1zM13 30h1v1h-1zM48 30h1v1h-1zM50 30h1v1h-1zM8 31h1v1h-1zM12 31h2v1h-2zM15 31h1v1h-1zM46 31h1v1h-1zM9 32h1v1h-1zM11 32h1v1h-1zM43 32h1v1h-1zM31 33h1v1h-1zM43 33h1v1h-1zM25 34h1v1h-1zM38 34h1v1h-1zM11 35h1v1h-1zM14 35h2v1h-2zM28 35h1v1h-1zM31 35h1v1h-1zM10 36h3v1h-3zM14 36h1v1h-1zM17 36h1v1h-1zM25 36h3v1h-3zM29 36h1v1h-1zM31 36h1v1h-1zM8 37h1v1h-1zM11 37h2v1h-2zM19 37h2v1h-2zM24 37h1v1h-1zM27 37h2v1h-2z" fill-opacity="0.6"/><path d="M52 19h1v1h-1zM59 19h1v1h-1zM49 20h1v1h-1zM56 20h1v1h-1zM48 21h1v1h-1zM59 22h1v1h-1zM59 23h1v1h-1zM24 27h2v1h-2zM28 27h2v1h-2zM18 28h2v1h-2zM27 28h1v1h-1zM54 28h1v1h-1zM52 29h1v1h-1zM17 30h2v1h-2zM47 30h1v1h-1zM18 31h1v1h-1zM44 31h1v1h-1zM47 31h1v1h-1zM12 32h1v1h-1zM42 32h1v1h-1zM11 33h3v1h-3zM15 33h1v1h-1zM11 34h1v1h-1zM17 34h1v1h-1zM24 34h1v1h-1zM34 34h1v1h-1zM37 34h1v1h-1zM10 35h1v1h-1zM13 35h1v1h-1zM17 35h1v1h-1zM20 35h1v1h-1zM26 35h1v1h-1zM29 35h1v1h-1zM34 35h2v1h-2zM37 35h1v1h-1zM19 36h1v1h-1zM21 36h1v1h-1zM23 36h1v1h-1z" fill-opacity="0.8"/><path d="M54 20h1v1h-1zM58 20h1v1h-1zM49 21h10v1h-10zM45 22h14v1h-14zM42 23h1v1h-1zM44 23h15v1h-15zM38 24h21v1h-21zM35 25h24v1h-24zM31 26h28v1h-28zM26 27h1v1h-1zM30 27h27v1h-27zM21 28h6v1h-6zM28 28h26v1h-26zM16 29h35v1h-35zM11 30h2v1h-2zM15 30h2v1h-2zM19 30h28v1h-28zM14 31h1v1h-1zM16 31h2v1h-2zM19 31h25v1h-25zM45 31h1v1h-1zM13 32h28v1h-28zM44 32h1v1h-1zM14 33h1v1h-1zM16 33h15v1h-15zM32 33h9v1h-9zM12 34h5v1h-5zM18 34h6v1h-6zM26 34h8v1h-8zM35 34h2v1h-2zM16 35h1v1h-1zM18 35h1v1h-1zM21 35h5v1h-5zM27 35h1v1h-1zM30 35h1v1h-1zM32 35h2v1h-2zM16 36h1v1h-1zM18 36h1v1h-1z"/></g>
<rect x="28" y="101.74" width="66.9" height="41.6" fill="none" stroke="#777777" stroke-width="1.1"/>
<g transform="translate(97.6,101.74)" fill="#0a7cca" filter="url(#sb)"><path d="M26 12h1v1h-1zM19 16h1v1h-1zM18 17h1v1h-1zM20 18h1v1h-1zM23 18h2v1h-2zM27 18h1v1h-1zM29 18h1v1h-1zM17 19h1v1h-1zM24 19h1v1h-1zM26 19h1v1h-1zM33 19h1v1h-1zM15 20h1v1h-1zM23 20h2v1h-2zM28 20h1v1h-1zM30 21h1v1h-1zM32 21h1v1h-1zM15 22h1v1h-1zM33 22h1v1h-1zM37 22h1v1h-1zM13 23h2v1h-2zM34 23h1v1h-1zM10 24h1v1h-1zM12 24h1v1h-1zM7 25h2v1h-2zM6 26h1v1h-1zM33 26h1v1h-1zM37 26h2v1h-2zM40 27h1v1h-1zM46 27h1v1h-1zM33 28h1v1h-1zM39 28h1v1h-1zM43 28h1v1h-1zM30 30h1v1h-1zM6 31h1v1h-1zM27 31h2v1h-2zM31 31h1v1h-1zM6 32h2v1h-2zM27 32h2v1h-2zM7 34h1v1h-1zM10 34h1v1h-1zM25 34h1v1h-1zM9 35h2v1h-2zM26 35h1v1h-1zM8 36h2v1h-2zM11 36h1v1h-1zM20 36h3v1h-3zM25 36h1v1h-1zM8 37h1v1h-1zM11 37h1v1h-1zM17 37h1v1h-1zM23 37h1v1h-1z" fill-opacity="0.6"/><path d="M27 19h1v1h-1zM22 20h1v1h-1zM26 20h1v1h-1zM28 21h2v1h-2zM29 22h1v1h-1zM31 22h1v1h-1zM11 23h1v1h-1zM32 23h2v1h-2zM9 25h1v1h-1zM31 25h1v1h-1zM9 26h1v1h-1zM32 26h1v1h-1zM7 27h1v1h-1zM33 27h1v1h-1zM30 28h1v1h-1zM35 28h1v1h-1zM6 29h1v1h-1zM32 29h1v1h-1zM7 30h1v1h-1zM29 31h1v1h-1zM8 32h1v1h-1zM8 33h1v1h-1zM12 33h1v1h-1zM26 33h1v1h-1zM8 34h1v1h-1zM24 34h1v1h-1zM12 35h1v1h-1zM22 35h3v1h-3zM13 36h2v1h-2zM16 36h1v1h-1zM19 36h1v1h-1zM20 37h2v1h-2z" fill-opacity="0.8"/><path d="M25 19h1v1h-1zM25 20h1v1h-1zM27 20h1v1h-1zM18 21h10v1h-10zM16 22h1v1h-1zM18 22h11v1h-11zM15 23h15v1h-15zM31 23h1v1h-1zM13 24h20v1h-20zM10 25h21v1h-21zM32 25h2v1h-2zM36 25h1v1h-1zM8 26h1v1h-1zM10 26h22v1h-22zM8 27h24v1h-24zM6 28h24v1h-24zM32 28h1v1h-1zM7 29h24v1h-24zM6 30h1v1h-1zM8 30h22v1h-22zM7 31h20v1h-20zM9 32h18v1h-18zM7 33h1v1h-1zM9 33h2v1h-2zM13 33h13v1h-13zM9 34h1v1h-1zM11 34h13v1h-13zM11 35h1v1h-1zM13 35h2v1h-2zM16 35h6v1h-6zM17 36h2v1h-2z"/></g>
<rect x="97.6" y="101.74" width="66.9" height="41.6" fill="none" stroke="#777777" stroke-width="1.1"/>
<path d="M176.57 143.34V142.81H177.17V142.53H177.77V142.24H178.37V141.95H178.97V141.67H179.57V141.38H180.17V141.07H180.77V140.55H181.37V139.95H181.97V139.35H182.57V138.74H183.17V137.55H183.77V135.4H184.37V133.22H184.97V130.62H185.57V125.96H186.17V120.33H186.77V113.81H187.37V109.82H187.97V107.28H188.57V105.48H189.17V106.34H189.77V107.55H190.37V109.72H190.98V112.79H191.58V116.77H192.18V121.26H192.78V126.23H193.38V130.41H193.98V133.46H194.58V136.45H195.18V138.32H195.78V139.46H196.38V140.61H196.98V141.5H197.58V141.89H198.18V142.26H198.78V142.62H199.38V142.82H199.98V143.34Z" fill="#000000"/>
<rect x="167.2" y="101.74" width="66.9" height="41.6" fill="none" stroke="#777777" stroke-width="1.1"/>
<g transform="translate(236.8,101.74)" fill="#0a7cca" filter="url(#sb)"><path d="M42 12h1v1h-1zM35 16h1v1h-1zM34 17h1v1h-1zM27 18h1v1h-1zM33 18h1v1h-1zM44 18h1v1h-1zM47 18h1v1h-1zM50 18h1v1h-1zM29 19h1v1h-1zM33 19h2v1h-2zM36 19h1v1h-1zM39 19h1v1h-1zM46 19h1v1h-1zM55 19h1v1h-1zM40 20h2v1h-2zM43 20h2v1h-2zM47 20h2v1h-2zM53 20h1v1h-1zM30 21h1v1h-1zM36 21h1v1h-1zM45 21h2v1h-2zM48 21h1v1h-1zM53 21h1v1h-1zM26 22h2v1h-2zM48 22h1v1h-1zM51 22h1v1h-1zM19 23h1v1h-1zM25 23h1v1h-1zM29 23h1v1h-1zM52 23h1v1h-1zM13 24h2v1h-2zM16 24h1v1h-1zM21 24h1v1h-1zM53 24h1v1h-1zM55 24h1v1h-1zM9 25h2v1h-2zM19 25h1v1h-1zM10 26h1v1h-1zM54 26h2v1h-2zM7 27h1v1h-1zM9 27h1v1h-1zM54 27h1v1h-1zM56 27h1v1h-1zM5 28h1v1h-1zM8 28h1v1h-1zM51 29h1v1h-1zM54 29h1v1h-1zM6 30h2v1h-2zM48 30h1v1h-1zM51 30h2v1h-2zM45 31h1v1h-1zM47 31h2v1h-2zM7 32h3v1h-3zM40 32h1v1h-1zM43 32h1v1h-1zM45 32h3v1h-3zM51 32h1v1h-1zM7 33h1v1h-1zM9 33h1v1h-1zM11 33h2v1h-2zM15 33h1v1h-1zM21 33h1v1h-1zM41 33h1v1h-1zM44 33h1v1h-1zM50 33h1v1h-1zM6 34h1v1h-1zM10 34h2v1h-2zM15 34h1v1h-1zM21 34h1v1h-1zM23 34h1v1h-1zM25 34h1v1h-1zM38 34h2v1h-2zM43 34h2v1h-2zM9 35h1v1h-1zM17 35h2v1h-2zM20 35h1v1h-1zM23 35h1v1h-1zM31 35h1v1h-1zM11 36h2v1h-2zM14 36h1v1h-1zM16 36h1v1h-1zM18 36h3v1h-3zM23 36h1v1h-1zM27 36h1v1h-1zM29 36h2v1h-2zM34 36h3v1h-3zM17 37h1v1h-1zM19 37h1v1h-1zM24 37h1v1h-1zM30 37h1v1h-1zM32 37h2v1h-2z" fill-opacity="0.6"/><path d="M43 19h1v1h-1zM33 20h1v1h-1zM36 20h2v1h-2zM46 20h1v1h-1zM29 21h1v1h-1zM31 21h2v1h-2zM42 21h1v1h-1zM49 21h1v1h-1zM51 21h1v1h-1zM28 22h2v1h-2zM33 22h2v1h-2zM39 22h1v1h-1zM49 22h1v1h-1zM52 22h1v1h-1zM28 23h1v1h-1zM54 23h1v1h-1zM17 24h2v1h-2zM51 24h1v1h-1zM12 25h1v1h-1zM15 25h3v1h-3zM54 25h1v1h-1zM8 26h1v1h-1zM11 26h1v1h-1zM16 26h1v1h-1zM53 27h1v1h-1zM52 28h1v1h-1zM9 29h1v1h-1zM49 29h2v1h-2zM52 29h1v1h-1zM46 30h1v1h-1zM8 31h1v1h-1zM10 32h1v1h-1zM13 32h1v1h-1zM23 32h1v1h-1zM44 32h1v1h-1zM13 33h1v1h-1zM17 33h1v1h-1zM40 33h1v1h-1zM14 34h1v1h-1zM16 34h2v1h-2zM19 34h1v1h-1zM22 34h1v1h-1zM24 34h1v1h-1zM40 34h1v1h-1zM13 35h1v1h-1zM16 35h1v1h-1zM22 35h1v1h-1zM24 35h1v1h-1zM33 35h1v1h-1zM36 35h3v1h-3zM40 35h1v1h-1zM26 36h1v1h-1zM32 36h1v1h-1zM10 37h1v1h-1z" fill-opacity="0.8"/><path d="M42 20h1v1h-1zM35 21h1v1h-1zM37 21h5v1h-5zM43 21h2v1h-2zM50 21h1v1h-1zM30 22h3v1h-3zM35 22h4v1h-4zM40 22h8v1h-8zM50 22h1v1h-1zM54 22h1v1h-1zM30 23h22v1h-22zM53 23h1v1h-1zM19 24h1v1h-1zM23 24h28v1h-28zM52 24h1v1h-1zM13 25h2v1h-2zM18 25h1v1h-1zM20 25h34v1h-34zM55 25h1v1h-1zM12 26h4v1h-4zM17 26h37v1h-37zM10 27h43v1h-43zM55 27h1v1h-1zM7 28h1v1h-1zM9 28h43v1h-43zM53 28h1v1h-1zM7 29h2v1h-2zM10 29h39v1h-39zM8 30h38v1h-38zM47 30h1v1h-1zM49 30h1v1h-1zM9 31h2v1h-2zM12 31h33v1h-33zM46 31h1v1h-1zM11 32h2v1h-2zM14 32h9v1h-9zM24 32h16v1h-16zM41 32h2v1h-2zM14 33h1v1h-1zM16 33h1v1h-1zM18 33h3v1h-3zM22 33h18v1h-18zM20 34h1v1h-1zM26 34h12v1h-12zM15 35h1v1h-1zM26 35h5v1h-5zM32 35h1v1h-1zM34 35h2v1h-2zM28 36h1v1h-1z"/></g>
<rect x="236.8" y="101.74" width="66.9" height="41.6" fill="none" stroke="#777777" stroke-width="1.1"/>
<g transform="translate(306.4,101.74)" fill="#0a7cca" filter="url(#sb)"><path d="M51 12h1v1h-1zM41 16h1v1h-1zM47 17h1v1h-1zM46 18h1v1h-1zM50 18h1v1h-1zM52 18h1v1h-1zM55 18h2v1h-2zM48 19h1v1h-1zM46 20h2v1h-2zM52 20h2v1h-2zM56 20h1v1h-1zM43 21h1v1h-1zM46 21h1v1h-1zM58 21h1v1h-1zM41 22h3v1h-3zM57 22h1v1h-1zM58 23h1v1h-1zM37 24h1v1h-1zM59 24h1v1h-1zM35 25h1v1h-1zM58 25h2v1h-2zM23 27h1v1h-1zM26 27h4v1h-4zM31 27h1v1h-1zM56 27h1v1h-1zM58 27h1v1h-1zM23 28h1v1h-1zM25 28h3v1h-3zM29 28h1v1h-1zM55 28h2v1h-2zM23 29h1v1h-1zM26 29h2v1h-2zM19 30h3v1h-3zM26 30h1v1h-1zM50 30h1v1h-1zM52 30h1v1h-1zM23 31h1v1h-1zM25 31h1v1h-1zM51 31h1v1h-1zM20 32h6v1h-6zM28 32h1v1h-1zM46 33h3v1h-3zM19 34h2v1h-2zM25 34h1v1h-1zM45 34h1v1h-1zM47 34h1v1h-1zM20 35h1v1h-1zM22 35h1v1h-1zM24 35h3v1h-3zM28 35h1v1h-1zM31 35h1v1h-1zM42 35h1v1h-1zM21 36h1v1h-1zM25 36h1v1h-1zM27 36h1v1h-1zM30 36h1v1h-1zM33 36h3v1h-3zM37 36h1v1h-1zM39 36h2v1h-2zM21 37h1v1h-1zM26 37h1v1h-1zM28 37h1v1h-1zM31 37h1v1h-1zM35 37h1v1h-1zM37 37h1v1h-1zM40 37h2v1h-2z" fill-opacity="0.6"/><path d="M53 19h1v1h-1zM56 19h1v1h-1zM48 20h1v1h-1zM51 20h1v1h-1zM58 20h1v1h-1zM44 21h1v1h-1zM49 21h1v1h-1zM54 21h1v1h-1zM40 22h1v1h-1zM44 22h1v1h-1zM39 23h2v1h-2zM59 23h1v1h-1zM38 24h1v1h-1zM32 26h1v1h-1zM34 26h1v1h-1zM56 26h2v1h-2zM55 27h1v1h-1zM28 28h1v1h-1zM31 28h1v1h-1zM22 29h1v1h-1zM24 29h2v1h-2zM53 29h2v1h-2zM30 30h1v1h-1zM51 30h1v1h-1zM22 31h1v1h-1zM26 31h1v1h-1zM29 31h1v1h-1zM49 31h1v1h-1zM48 32h1v1h-1zM20 33h1v1h-1zM22 33h1v1h-1zM27 33h2v1h-2zM22 34h2v1h-2zM28 34h3v1h-3zM43 34h1v1h-1zM30 35h1v1h-1zM32 35h1v1h-1zM41 35h1v1h-1zM44 35h1v1h-1zM24 36h1v1h-1z" fill-opacity="0.8"/><path d="M50 19h1v1h-1zM50 20h1v1h-1zM54 20h1v1h-1zM47 21h2v1h-2zM50 21h4v1h-4zM55 21h1v1h-1zM45 22h11v1h-11zM41 23h17v1h-17zM39 24h20v1h-20zM36 25h22v1h-22zM33 26h1v1h-1zM35 26h21v1h-21zM32 27h23v1h-23zM30 28h1v1h-1zM32 28h23v1h-23zM28 29h25v1h-25zM24 30h2v1h-2zM27 30h3v1h-3zM31 30h19v1h-19zM27 31h2v1h-2zM30 31h17v1h-17zM48 31h1v1h-1zM26 32h2v1h-2zM29 32h19v1h-19zM29 33h17v1h-17zM31 34h12v1h-12zM44 34h1v1h-1zM27 35h1v1h-1zM29 35h1v1h-1zM34 35h7v1h-7zM36 36h1v1h-1zM38 36h1v1h-1z"/></g>
<rect x="306.4" y="101.74" width="66.9" height="41.6" fill="none" stroke="#777777" stroke-width="1.1"/>
<g transform="translate(28,144.51)" fill="#0a7cca" filter="url(#sb)"><path d="M46 6h2v1h-2zM52 6h2v1h-2zM59 6h1v1h-1zM35 7h1v1h-1zM42 7h1v1h-1zM50 7h1v1h-1zM53 7h1v1h-1zM57 7h1v1h-1zM59 7h1v1h-1zM34 8h1v1h-1zM48 8h1v1h-1zM38 9h1v1h-1zM40 9h3v1h-3zM55 9h1v1h-1zM58 9h1v1h-1zM33 10h1v1h-1zM37 10h1v1h-1zM41 10h1v1h-1zM29 11h1v1h-1zM31 11h1v1h-1zM36 11h1v1h-1zM24 12h1v1h-1zM32 12h1v1h-1zM59 12h1v1h-1zM17 14h1v1h-1zM26 14h2v1h-2zM20 15h1v1h-1zM60 15h1v1h-1zM17 16h1v1h-1zM25 16h1v1h-1zM27 16h1v1h-1zM29 16h2v1h-2zM16 17h1v1h-1zM21 17h1v1h-1zM17 18h2v1h-2zM21 18h3v1h-3zM58 18h1v1h-1zM11 19h1v1h-1zM16 19h1v1h-1zM12 20h2v1h-2zM15 20h2v1h-2zM17 21h1v1h-1zM19 21h2v1h-2zM58 21h2v1h-2zM9 22h1v1h-1zM11 22h2v1h-2zM16 22h1v1h-1zM55 22h1v1h-1zM57 22h1v1h-1zM13 23h1v1h-1zM22 23h1v1h-1zM53 24h2v1h-2zM11 25h3v1h-3zM16 25h2v1h-2zM19 25h2v1h-2zM53 25h1v1h-1zM14 26h2v1h-2zM17 26h1v1h-1zM19 26h2v1h-2zM23 26h3v1h-3zM55 26h1v1h-1zM10 27h1v1h-1zM12 27h1v1h-1zM14 27h1v1h-1zM16 27h2v1h-2zM21 27h1v1h-1zM24 27h1v1h-1zM46 27h1v1h-1zM48 27h1v1h-1zM54 27h1v1h-1zM12 28h1v1h-1zM15 28h4v1h-4zM25 28h1v1h-1zM30 28h2v1h-2zM50 28h1v1h-1zM11 29h1v1h-1zM14 29h1v1h-1zM17 29h1v1h-1zM19 29h1v1h-1zM30 29h1v1h-1zM45 29h1v1h-1zM48 29h2v1h-2zM53 29h1v1h-1zM11 30h2v1h-2zM14 30h1v1h-1zM16 30h1v1h-1zM20 30h1v1h-1zM24 30h1v1h-1zM44 30h1v1h-1zM48 30h3v1h-3zM57 30h1v1h-1zM13 31h2v1h-2zM17 31h2v1h-2zM22 31h1v1h-1zM29 31h1v1h-1zM43 31h1v1h-1zM45 31h3v1h-3zM49 31h1v1h-1zM8 32h1v1h-1zM11 32h1v1h-1zM16 32h1v1h-1zM19 32h1v1h-1zM25 32h1v1h-1zM27 32h1v1h-1zM30 32h1v1h-1zM34 32h1v1h-1zM42 32h1v1h-1zM44 32h2v1h-2zM47 32h1v1h-1zM13 33h2v1h-2zM21 33h3v1h-3zM41 33h1v1h-1zM45 33h3v1h-3zM8 34h1v1h-1zM10 34h1v1h-1zM13 34h2v1h-2zM16 34h1v1h-1zM21 34h1v1h-1zM23 34h2v1h-2zM26 34h1v1h-1zM31 34h1v1h-1zM45 34h1v1h-1zM10 35h1v1h-1zM12 35h1v1h-1zM19 35h1v1h-1zM23 35h1v1h-1zM25 35h1v1h-1zM29 35h3v1h-3zM34 35h2v1h-2zM40 35h1v1h-1zM45 35h1v1h-1zM49 35h1v1h-1zM17 36h1v1h-1zM19 36h1v1h-1zM25 36h1v1h-1zM28 36h1v1h-1zM31 36h3v1h-3zM41 36h1v1h-1zM44 36h1v1h-1zM12 37h1v1h-1zM16 37h2v1h-2zM26 37h1v1h-1zM39 37h1v1h-1z" fill-opacity="0.6"/><path d="M48 6h1v1h-1zM39 8h1v1h-1zM45 8h3v1h-3zM49 8h1v1h-1zM52 8h7v1h-7zM36 9h1v1h-1zM39 9h1v1h-1zM43 9h1v1h-1zM54 9h1v1h-1zM38 10h1v1h-1zM42 10h1v1h-1zM34 11h2v1h-2zM33 12h2v1h-2zM32 13h1v1h-1zM34 13h1v1h-1zM59 14h1v1h-1zM23 15h1v1h-1zM28 15h3v1h-3zM22 16h1v1h-1zM24 16h1v1h-1zM26 16h1v1h-1zM25 17h1v1h-1zM29 17h1v1h-1zM15 18h1v1h-1zM13 19h1v1h-1zM15 19h1v1h-1zM17 19h1v1h-1zM19 19h1v1h-1zM22 19h1v1h-1zM58 20h2v1h-2zM13 21h1v1h-1zM18 21h1v1h-1zM57 21h1v1h-1zM14 22h1v1h-1zM17 22h1v1h-1zM19 22h1v1h-1zM15 23h1v1h-1zM17 23h1v1h-1zM12 24h1v1h-1zM17 24h1v1h-1zM18 25h1v1h-1zM21 25h1v1h-1zM48 25h1v1h-1zM18 26h1v1h-1zM21 26h1v1h-1zM47 26h1v1h-1zM13 27h1v1h-1zM18 27h2v1h-2zM22 27h1v1h-1zM51 27h1v1h-1zM19 28h1v1h-1zM24 28h1v1h-1zM43 28h1v1h-1zM12 29h1v1h-1zM16 29h1v1h-1zM18 29h1v1h-1zM22 29h1v1h-1zM24 29h1v1h-1zM26 29h1v1h-1zM44 29h1v1h-1zM51 29h1v1h-1zM18 30h1v1h-1zM23 30h1v1h-1zM28 30h1v1h-1zM45 30h2v1h-2zM16 31h1v1h-1zM24 31h1v1h-1zM39 31h1v1h-1zM14 32h2v1h-2zM21 32h4v1h-4zM37 32h1v1h-1zM46 32h1v1h-1zM16 33h1v1h-1zM18 33h1v1h-1zM20 33h1v1h-1zM24 33h1v1h-1zM26 33h2v1h-2zM29 33h1v1h-1zM34 33h1v1h-1zM44 33h1v1h-1zM51 33h1v1h-1zM17 34h1v1h-1zM34 34h1v1h-1zM37 34h1v1h-1zM39 34h1v1h-1zM41 34h3v1h-3zM16 35h1v1h-1zM27 35h1v1h-1zM33 35h1v1h-1zM38 35h1v1h-1zM43 35h1v1h-1zM16 36h1v1h-1zM34 36h3v1h-3zM39 36h2v1h-2z" fill-opacity="0.8"/><path d="M49 7h1v1h-1zM58 7h1v1h-1zM43 8h1v1h-1zM50 8h2v1h-2zM44 9h1v1h-1zM46 9h8v1h-8zM56 9h2v1h-2zM39 10h2v1h-2zM43 10h16v1h-16zM37 11h22v1h-22zM35 12h24v1h-24zM33 13h1v1h-1zM35 13h24v1h-24zM33 14h26v1h-26zM26 15h1v1h-1zM31 15h28v1h-28zM28 16h1v1h-1zM31 16h28v1h-28zM22 17h3v1h-3zM26 17h3v1h-3zM30 17h29v1h-29zM19 18h1v1h-1zM24 18h34v1h-34zM20 19h2v1h-2zM23 19h36v1h-36zM18 20h40v1h-40zM16 21h1v1h-1zM21 21h36v1h-36zM15 22h1v1h-1zM18 22h1v1h-1zM20 22h35v1h-35zM56 22h1v1h-1zM11 23h2v1h-2zM14 23h1v1h-1zM16 23h1v1h-1zM18 23h4v1h-4zM23 23h34v1h-34zM14 24h3v1h-3zM18 24h34v1h-34zM22 25h1v1h-1zM24 25h24v1h-24zM49 25h3v1h-3zM26 26h21v1h-21zM48 26h2v1h-2zM20 27h1v1h-1zM23 27h1v1h-1zM25 27h21v1h-21zM47 27h1v1h-1zM49 27h2v1h-2zM21 28h3v1h-3zM26 28h4v1h-4zM32 28h11v1h-11zM44 28h2v1h-2zM47 28h3v1h-3zM20 29h2v1h-2zM23 29h1v1h-1zM25 29h1v1h-1zM27 29h3v1h-3zM31 29h13v1h-13zM46 29h2v1h-2zM19 30h1v1h-1zM21 30h1v1h-1zM25 30h2v1h-2zM29 30h15v1h-15zM20 31h1v1h-1zM23 31h1v1h-1zM25 31h4v1h-4zM31 31h8v1h-8zM40 31h3v1h-3zM44 31h1v1h-1zM48 31h1v1h-1zM20 32h1v1h-1zM26 32h1v1h-1zM28 32h2v1h-2zM32 32h2v1h-2zM35 32h2v1h-2zM38 32h4v1h-4zM43 32h1v1h-1zM25 33h1v1h-1zM28 33h1v1h-1zM30 33h4v1h-4zM35 33h6v1h-6zM43 33h1v1h-1zM25 34h1v1h-1zM27 34h3v1h-3zM32 34h2v1h-2zM35 34h2v1h-2zM38 34h1v1h-1zM40 34h1v1h-1zM22 35h1v1h-1zM26 35h1v1h-1zM32 35h1v1h-1zM36 35h2v1h-2zM39 35h1v1h-1z"/></g>
<rect x="28" y="144.51" width="66.9" height="41.6" fill="none" stroke="#777777" stroke-width="1.1"/>
<g transform="translate(97.6,144.51)" fill="#0a7cca" filter="url(#sb)"><path d="M17 6h1v1h-1zM20 6h5v1h-5zM33 6h1v1h-1zM17 7h1v1h-1zM24 7h1v1h-1zM30 7h1v1h-1zM14 8h1v1h-1zM20 8h1v1h-1zM24 8h1v1h-1zM31 8h1v1h-1zM9 9h2v1h-2zM14 9h1v1h-1zM16 9h1v1h-1zM29 9h1v1h-1zM8 10h1v1h-1zM10 10h1v1h-1zM12 10h1v1h-1zM14 10h2v1h-2zM17 10h1v1h-1zM29 10h1v1h-1zM12 11h2v1h-2zM32 11h1v1h-1zM34 11h1v1h-1zM11 12h2v1h-2zM29 12h1v1h-1zM31 12h1v1h-1zM33 12h1v1h-1zM9 13h1v1h-1zM33 13h1v1h-1zM6 14h2v1h-2zM9 14h2v1h-2zM31 14h2v1h-2zM9 15h2v1h-2zM6 16h1v1h-1zM31 16h2v1h-2zM36 16h1v1h-1zM6 17h3v1h-3zM33 17h1v1h-1zM35 17h1v1h-1zM6 18h1v1h-1zM38 18h1v1h-1zM7 19h1v1h-1zM32 19h2v1h-2zM7 20h1v1h-1zM30 20h1v1h-1zM33 20h1v1h-1zM6 21h1v1h-1zM31 21h1v1h-1zM33 21h1v1h-1zM35 21h1v1h-1zM39 21h1v1h-1zM7 22h1v1h-1zM33 22h1v1h-1zM46 22h1v1h-1zM37 23h1v1h-1zM40 23h1v1h-1zM33 24h1v1h-1zM43 24h1v1h-1zM6 25h1v1h-1zM11 25h1v1h-1zM28 25h1v1h-1zM32 26h1v1h-1zM6 27h2v1h-2zM10 27h1v1h-1zM26 27h1v1h-1zM7 28h2v1h-2zM6 29h1v1h-1zM8 29h2v1h-2zM12 29h1v1h-1zM27 29h2v1h-2zM37 29h1v1h-1zM8 30h3v1h-3zM27 30h1v1h-1zM30 30h1v1h-1zM12 31h1v1h-1zM9 32h2v1h-2zM12 32h2v1h-2zM8 33h3v1h-3zM12 33h1v1h-1zM22 33h1v1h-1zM25 33h1v1h-1zM28 33h2v1h-2zM8 34h1v1h-1zM11 34h1v1h-1zM14 34h1v1h-1zM8 35h2v1h-2zM11 35h1v1h-1zM22 35h1v1h-1zM26 35h1v1h-1zM28 35h1v1h-1zM11 36h1v1h-1zM13 36h4v1h-4zM23 36h1v1h-1zM12 37h1v1h-1zM16 37h4v1h-4z" fill-opacity="0.6"/><path d="M19 7h1v1h-1zM22 7h2v1h-2zM25 7h1v1h-1zM22 8h1v1h-1zM27 8h1v1h-1zM27 9h1v1h-1zM13 10h1v1h-1zM15 11h1v1h-1zM9 12h1v1h-1zM32 12h1v1h-1zM12 14h1v1h-1zM30 14h1v1h-1zM8 15h1v1h-1zM31 15h1v1h-1zM9 16h2v1h-2zM33 16h1v1h-1zM9 17h1v1h-1zM32 17h1v1h-1zM31 18h2v1h-2zM31 19h1v1h-1zM36 19h1v1h-1zM32 21h1v1h-1zM7 23h1v1h-1zM29 23h1v1h-1zM32 23h1v1h-1zM7 24h1v1h-1zM27 25h1v1h-1zM8 26h2v1h-2zM11 26h2v1h-2zM27 26h2v1h-2zM8 27h1v1h-1zM12 27h1v1h-1zM27 27h1v1h-1zM9 28h1v1h-1zM26 28h1v1h-1zM7 29h1v1h-1zM13 29h1v1h-1zM11 30h1v1h-1zM26 30h1v1h-1zM7 31h2v1h-2zM10 31h1v1h-1zM13 31h1v1h-1zM7 32h1v1h-1zM11 32h1v1h-1zM24 32h1v1h-1zM10 34h1v1h-1zM15 34h1v1h-1zM22 34h1v1h-1zM27 34h1v1h-1zM10 35h1v1h-1zM14 35h1v1h-1zM21 35h1v1h-1zM19 36h2v1h-2z" fill-opacity="0.8"/><path d="M26 7h1v1h-1zM18 8h2v1h-2zM21 8h1v1h-1zM23 8h1v1h-1zM25 8h2v1h-2zM29 8h1v1h-1zM18 9h9v1h-9zM28 9h1v1h-1zM18 10h11v1h-11zM14 11h1v1h-1zM16 11h14v1h-14zM13 12h16v1h-16zM13 13h18v1h-18zM11 14h1v1h-1zM13 14h17v1h-17zM11 15h19v1h-19zM32 15h1v1h-1zM11 16h20v1h-20zM10 17h22v1h-22zM7 18h24v1h-24zM8 19h23v1h-23zM8 20h22v1h-22zM31 20h1v1h-1zM8 21h23v1h-23zM8 22h24v1h-24zM6 23h1v1h-1zM8 23h21v1h-21zM30 23h1v1h-1zM8 24h22v1h-22zM8 25h3v1h-3zM12 25h15v1h-15zM10 26h1v1h-1zM13 26h14v1h-14zM9 27h1v1h-1zM11 27h1v1h-1zM13 27h13v1h-13zM12 28h14v1h-14zM27 28h1v1h-1zM10 29h2v1h-2zM14 29h13v1h-13zM12 30h14v1h-14zM15 31h13v1h-13zM14 32h1v1h-1zM16 32h8v1h-8zM25 32h2v1h-2zM11 33h1v1h-1zM13 33h9v1h-9zM23 33h2v1h-2zM26 33h1v1h-1zM13 34h1v1h-1zM16 34h6v1h-6zM23 34h3v1h-3zM13 35h1v1h-1zM16 35h5v1h-5zM23 35h1v1h-1zM17 36h2v1h-2zM24 36h1v1h-1z"/></g>
<rect x="97.6" y="144.51" width="66.9" height="41.6" fill="none" stroke="#777777" stroke-width="1.1"/>
<g transform="translate(167.2,144.51)" fill="#0a7cca" filter="url(#sb)"><path d="M26 6h1v1h-1zM35 6h1v1h-1zM19 7h1v1h-1zM22 7h1v1h-1zM24 7h1v1h-1zM27 7h2v1h-2zM30 7h2v1h-2zM17 8h3v1h-3zM22 8h1v1h-1zM27 8h1v1h-1zM30 8h2v1h-2zM33 8h1v1h-1zM14 9h1v1h-1zM18 9h2v1h-2zM13 10h1v1h-1zM17 10h1v1h-1zM19 10h2v1h-2zM37 10h1v1h-1zM16 11h1v1h-1zM18 11h1v1h-1zM32 11h2v1h-2zM14 12h1v1h-1zM17 12h1v1h-1zM32 12h1v1h-1zM35 12h2v1h-2zM10 13h1v1h-1zM13 13h2v1h-2zM31 13h1v1h-1zM33 13h1v1h-1zM36 13h1v1h-1zM11 14h1v1h-1zM13 14h1v1h-1zM30 14h1v1h-1zM34 14h2v1h-2zM46 15h1v1h-1zM11 16h1v1h-1zM34 16h1v1h-1zM9 17h3v1h-3zM34 17h2v1h-2zM8 18h1v1h-1zM34 18h1v1h-1zM7 19h1v1h-1zM32 19h1v1h-1zM34 19h1v1h-1zM40 19h1v1h-1zM6 20h1v1h-1zM8 20h1v1h-1zM30 20h1v1h-1zM33 20h2v1h-2zM36 20h3v1h-3zM8 21h1v1h-1zM10 21h1v1h-1zM32 21h1v1h-1zM5 22h1v1h-1zM8 22h1v1h-1zM32 22h1v1h-1zM32 23h1v1h-1zM35 23h1v1h-1zM29 24h1v1h-1zM37 24h1v1h-1zM30 25h1v1h-1zM6 26h1v1h-1zM27 26h2v1h-2zM7 27h1v1h-1zM9 27h1v1h-1zM12 27h1v1h-1zM27 27h1v1h-1zM7 28h1v1h-1zM11 28h1v1h-1zM13 28h1v1h-1zM26 28h2v1h-2zM6 29h1v1h-1zM8 29h2v1h-2zM12 29h1v1h-1zM25 29h2v1h-2zM28 29h2v1h-2zM6 30h2v1h-2zM11 30h1v1h-1zM26 30h1v1h-1zM8 31h1v1h-1zM13 31h1v1h-1zM26 31h1v1h-1zM7 32h1v1h-1zM26 32h2v1h-2zM12 33h2v1h-2zM27 33h1v1h-1zM12 34h1v1h-1zM16 34h1v1h-1zM25 34h2v1h-2zM9 35h1v1h-1zM12 35h1v1h-1zM23 35h1v1h-1zM25 35h2v1h-2zM14 36h1v1h-1zM16 36h1v1h-1zM21 36h2v1h-2zM10 37h1v1h-1zM13 37h1v1h-1zM17 37h1v1h-1z" fill-opacity="0.6"/><path d="M22 6h1v1h-1zM25 7h1v1h-1zM29 7h1v1h-1zM20 8h1v1h-1zM29 8h1v1h-1zM29 9h2v1h-2zM32 9h1v1h-1zM17 11h1v1h-1zM30 11h1v1h-1zM16 12h1v1h-1zM15 13h2v1h-2zM14 14h2v1h-2zM33 14h1v1h-1zM33 15h2v1h-2zM13 16h1v1h-1zM9 18h1v1h-1zM32 18h2v1h-2zM9 19h1v1h-1zM35 19h1v1h-1zM9 20h1v1h-1zM31 20h1v1h-1zM7 21h1v1h-1zM9 22h1v1h-1zM7 23h2v1h-2zM10 24h1v1h-1zM27 24h1v1h-1zM31 24h1v1h-1zM9 25h1v1h-1zM28 25h1v1h-1zM14 26h1v1h-1zM10 27h1v1h-1zM10 28h1v1h-1zM10 29h1v1h-1zM10 30h1v1h-1zM9 31h3v1h-3zM10 32h2v1h-2zM9 33h1v1h-1zM6 34h1v1h-1zM8 34h1v1h-1zM11 34h1v1h-1zM17 34h1v1h-1zM14 35h1v1h-1zM22 35h1v1h-1zM15 36h1v1h-1zM17 36h1v1h-1zM20 36h1v1h-1zM23 36h1v1h-1zM20 37h1v1h-1z" fill-opacity="0.8"/><path d="M23 6h1v1h-1zM26 7h1v1h-1zM21 8h1v1h-1zM23 8h4v1h-4zM28 8h1v1h-1zM20 9h9v1h-9zM18 10h1v1h-1zM21 10h12v1h-12zM19 11h11v1h-11zM15 12h1v1h-1zM18 12h14v1h-14zM33 12h1v1h-1zM17 13h14v1h-14zM32 13h1v1h-1zM16 14h14v1h-14zM31 14h2v1h-2zM14 15h19v1h-19zM10 16h1v1h-1zM12 16h1v1h-1zM14 16h19v1h-19zM12 17h21v1h-21zM10 18h22v1h-22zM10 19h22v1h-22zM10 20h20v1h-20zM9 21h1v1h-1zM11 21h21v1h-21zM10 22h22v1h-22zM9 23h20v1h-20zM30 23h1v1h-1zM8 24h2v1h-2zM11 24h16v1h-16zM28 24h1v1h-1zM10 25h18v1h-18zM10 26h1v1h-1zM12 26h2v1h-2zM15 26h12v1h-12zM11 27h1v1h-1zM13 27h14v1h-14zM12 28h1v1h-1zM14 28h12v1h-12zM13 29h12v1h-12zM27 29h1v1h-1zM12 30h14v1h-14zM27 30h1v1h-1zM12 31h1v1h-1zM14 31h12v1h-12zM12 32h14v1h-14zM14 33h12v1h-12zM14 34h2v1h-2zM18 34h6v1h-6zM16 35h6v1h-6zM18 36h2v1h-2z"/></g>
<rect x="167.2" y="144.51" width="66.9" height="41.6" fill="none" stroke="#777777" stroke-width="1.1"/>
<path d="M245.5 186.11V185.15H247.73V184.46H249.96V183.77H252.19V183.08H254.42V182.39H256.65V181.71H258.88V181.09H261.11V179.66H263.34V164.18H265.57V154.51H267.8V149.11H270.03V145.76H272.26V147.92H274.49V155.02H276.72V164.21H278.95V172.02H281.18V177.02H283.41V180.18H285.64V182.83H287.87V184.58H290.1V185.64H292.33V186.11Z" fill="#081820"/>
<path d="M247.73 186.11V185.15M249.96 186.11V184.46M252.19 186.11V183.77M254.42 186.11V183.08M256.65 186.11V182.39M258.88 186.11V181.71M261.11 186.11V181.09M263.34 186.11V179.66M265.57 186.11V164.18M267.8 186.11V154.51M270.03 186.11V149.11M272.26 186.11V147.92M274.49 186.11V155.02M276.72 186.11V164.21M278.95 186.11V172.02M281.18 186.11V177.02M283.41 186.11V180.18M285.64 186.11V182.83M287.87 186.11V184.58M290.1 186.11V185.64" stroke="#1f6f93" stroke-width="1.1" fill="none"/>
<rect x="236.8" y="144.51" width="66.9" height="41.6" fill="none" stroke="#777777" stroke-width="1.1"/>
<g transform="translate(306.4,144.51)" fill="#0a7cca" filter="url(#sb)"><path d="M41 6h1v1h-1zM44 6h1v1h-1zM47 6h3v1h-3zM53 6h1v1h-1zM56 6h1v1h-1zM38 7h1v1h-1zM44 7h1v1h-1zM53 7h1v1h-1zM57 7h1v1h-1zM35 8h1v1h-1zM39 8h3v1h-3zM44 8h1v1h-1zM47 8h2v1h-2zM53 8h1v1h-1zM56 8h1v1h-1zM59 8h1v1h-1zM38 9h1v1h-1zM42 9h1v1h-1zM55 9h2v1h-2zM40 10h1v1h-1zM56 10h3v1h-3zM32 11h2v1h-2zM34 12h1v1h-1zM57 12h1v1h-1zM59 12h1v1h-1zM31 13h1v1h-1zM34 13h1v1h-1zM56 13h1v1h-1zM34 14h1v1h-1zM58 14h2v1h-2zM30 15h2v1h-2zM57 16h2v1h-2zM23 17h1v1h-1zM29 17h2v1h-2zM59 17h1v1h-1zM27 18h3v1h-3zM31 18h1v1h-1zM33 18h1v1h-1zM20 19h1v1h-1zM26 19h2v1h-2zM30 19h1v1h-1zM58 19h1v1h-1zM19 20h2v1h-2zM26 20h1v1h-1zM29 20h1v1h-1zM24 21h1v1h-1zM56 21h1v1h-1zM58 21h1v1h-1zM21 22h1v1h-1zM24 22h1v1h-1zM26 22h2v1h-2zM55 22h1v1h-1zM19 23h1v1h-1zM24 23h2v1h-2zM27 23h1v1h-1zM55 23h1v1h-1zM20 24h3v1h-3zM24 24h1v1h-1zM28 24h1v1h-1zM25 25h3v1h-3zM29 25h1v1h-1zM51 25h1v1h-1zM23 26h2v1h-2zM27 26h2v1h-2zM32 26h1v1h-1zM34 26h1v1h-1zM51 26h4v1h-4zM20 27h1v1h-1zM51 27h1v1h-1zM53 27h1v1h-1zM28 28h2v1h-2zM21 29h1v1h-1zM24 29h1v1h-1zM26 29h2v1h-2zM50 29h2v1h-2zM22 30h1v1h-1zM24 30h1v1h-1zM26 30h5v1h-5zM49 30h1v1h-1zM51 30h1v1h-1zM22 31h1v1h-1zM27 31h3v1h-3zM48 31h1v1h-1zM50 31h1v1h-1zM52 31h2v1h-2zM27 32h3v1h-3zM45 32h1v1h-1zM48 32h1v1h-1zM51 32h2v1h-2zM22 33h1v1h-1zM25 33h1v1h-1zM27 33h1v1h-1zM32 33h2v1h-2zM47 33h1v1h-1zM50 33h1v1h-1zM21 34h2v1h-2zM27 34h1v1h-1zM33 34h1v1h-1zM35 34h1v1h-1zM23 35h1v1h-1zM32 35h1v1h-1zM34 35h1v1h-1zM41 35h1v1h-1zM46 35h1v1h-1zM26 36h1v1h-1zM31 36h2v1h-2zM34 36h1v1h-1zM43 36h4v1h-4zM29 37h1v1h-1zM33 37h2v1h-2zM38 37h1v1h-1zM42 37h1v1h-1z" fill-opacity="0.6"/><path d="M40 7h1v1h-1zM50 7h1v1h-1zM55 7h1v1h-1zM46 8h1v1h-1zM39 9h1v1h-1zM43 9h1v1h-1zM57 9h1v1h-1zM37 10h1v1h-1zM39 10h1v1h-1zM54 10h2v1h-2zM39 11h1v1h-1zM56 11h1v1h-1zM36 12h1v1h-1zM33 14h1v1h-1zM57 14h1v1h-1zM32 15h2v1h-2zM55 15h1v1h-1zM58 15h1v1h-1zM27 17h1v1h-1zM56 17h2v1h-2zM30 18h1v1h-1zM58 18h1v1h-1zM22 19h1v1h-1zM28 19h1v1h-1zM56 19h1v1h-1zM28 20h1v1h-1zM30 20h1v1h-1zM56 20h1v1h-1zM26 21h1v1h-1zM28 21h2v1h-2zM30 22h1v1h-1zM23 23h1v1h-1zM28 23h2v1h-2zM54 24h2v1h-2zM33 25h1v1h-1zM31 26h1v1h-1zM26 27h2v1h-2zM29 27h1v1h-1zM31 27h1v1h-1zM20 28h1v1h-1zM24 28h1v1h-1zM32 28h1v1h-1zM34 28h1v1h-1zM49 28h1v1h-1zM51 28h1v1h-1zM28 29h1v1h-1zM25 30h1v1h-1zM31 30h1v1h-1zM47 30h2v1h-2zM50 30h1v1h-1zM23 31h1v1h-1zM30 31h1v1h-1zM33 31h1v1h-1zM49 31h1v1h-1zM47 32h1v1h-1zM31 34h1v1h-1zM43 34h1v1h-1zM49 34h1v1h-1zM31 35h1v1h-1zM35 35h1v1h-1zM47 35h1v1h-1zM33 36h1v1h-1zM36 36h2v1h-2zM41 36h2v1h-2z" fill-opacity="0.8"/><path d="M49 7h1v1h-1zM49 8h4v1h-4zM54 8h1v1h-1zM44 9h11v1h-11zM41 10h13v1h-13zM37 11h2v1h-2zM40 11h16v1h-16zM57 11h1v1h-1zM35 12h1v1h-1zM37 12h20v1h-20zM36 13h20v1h-20zM36 14h21v1h-21zM34 15h21v1h-21zM56 15h1v1h-1zM32 16h24v1h-24zM32 17h24v1h-24zM32 18h1v1h-1zM34 18h22v1h-22zM25 19h1v1h-1zM29 19h1v1h-1zM31 19h25v1h-25zM31 20h25v1h-25zM25 21h1v1h-1zM30 21h26v1h-26zM28 22h2v1h-2zM31 22h24v1h-24zM30 23h25v1h-25zM27 24h1v1h-1zM29 24h24v1h-24zM22 25h1v1h-1zM31 25h2v1h-2zM34 25h17v1h-17zM33 26h1v1h-1zM35 26h16v1h-16zM30 27h1v1h-1zM32 27h19v1h-19zM27 28h1v1h-1zM31 28h1v1h-1zM33 28h1v1h-1zM35 28h14v1h-14zM50 28h1v1h-1zM30 29h1v1h-1zM32 29h18v1h-18zM32 30h15v1h-15zM32 31h1v1h-1zM34 31h14v1h-14zM33 32h12v1h-12zM46 32h1v1h-1zM49 32h1v1h-1zM34 33h13v1h-13zM48 33h1v1h-1zM34 34h1v1h-1zM36 34h7v1h-7zM44 34h3v1h-3zM36 35h5v1h-5zM42 35h1v1h-1zM44 35h1v1h-1zM40 36h1v1h-1z"/></g>
<rect x="306.4" y="144.51" width="66.9" height="41.6" fill="none" stroke="#777777" stroke-width="1.1"/>
<g transform="translate(28,187.28)" fill="#0a7cca" filter="url(#sb)"><path d="M47 4h1v1h-1zM54 4h1v1h-1zM40 5h1v1h-1zM43 5h3v1h-3zM50 5h1v1h-1zM52 5h3v1h-3zM56 5h1v1h-1zM39 6h3v1h-3zM43 6h1v1h-1zM48 6h1v1h-1zM51 6h1v1h-1zM55 6h2v1h-2zM59 6h1v1h-1zM37 7h1v1h-1zM39 7h1v1h-1zM60 7h1v1h-1zM28 8h1v1h-1zM33 8h2v1h-2zM36 8h1v1h-1zM32 9h1v1h-1zM34 9h1v1h-1zM28 10h2v1h-2zM32 10h1v1h-1zM59 10h1v1h-1zM16 11h1v1h-1zM21 11h1v1h-1zM26 11h1v1h-1zM30 11h1v1h-1zM16 12h1v1h-1zM18 12h3v1h-3zM22 12h2v1h-2zM13 13h1v1h-1zM19 13h1v1h-1zM22 13h1v1h-1zM27 13h1v1h-1zM12 14h2v1h-2zM17 14h2v1h-2zM58 14h1v1h-1zM12 15h1v1h-1zM15 15h1v1h-1zM19 15h1v1h-1zM58 15h1v1h-1zM14 16h1v1h-1zM18 16h1v1h-1zM56 16h1v1h-1zM58 16h1v1h-1zM9 17h3v1h-3zM14 17h1v1h-1zM52 17h1v1h-1zM56 17h1v1h-1zM10 18h1v1h-1zM12 18h1v1h-1zM15 18h1v1h-1zM51 18h1v1h-1zM53 18h1v1h-1zM8 19h1v1h-1zM15 19h1v1h-1zM19 19h1v1h-1zM48 19h1v1h-1zM51 19h1v1h-1zM11 20h1v1h-1zM17 20h1v1h-1zM48 20h2v1h-2zM52 20h1v1h-1zM12 21h1v1h-1zM15 21h2v1h-2zM18 21h2v1h-2zM21 21h1v1h-1zM25 21h1v1h-1zM44 21h2v1h-2zM47 21h2v1h-2zM8 22h1v1h-1zM13 22h3v1h-3zM20 22h2v1h-2zM23 22h2v1h-2zM26 22h3v1h-3zM30 22h1v1h-1zM38 22h3v1h-3zM42 22h1v1h-1zM12 23h1v1h-1zM16 23h1v1h-1zM18 23h3v1h-3zM24 23h1v1h-1zM26 23h3v1h-3zM31 23h1v1h-1zM39 23h1v1h-1zM44 23h1v1h-1zM10 24h3v1h-3zM14 24h1v1h-1zM16 24h1v1h-1zM20 24h1v1h-1zM23 24h1v1h-1zM26 24h1v1h-1zM29 24h1v1h-1zM33 24h2v1h-2zM38 24h1v1h-1zM40 24h1v1h-1zM17 25h1v1h-1zM19 25h3v1h-3zM26 25h1v1h-1zM29 25h1v1h-1zM31 25h2v1h-2zM36 25h2v1h-2zM12 26h1v1h-1zM18 26h1v1h-1zM20 26h2v1h-2zM25 26h1v1h-1zM29 26h1v1h-1zM16 27h1v1h-1zM20 27h2v1h-2zM23 27h1v1h-1zM25 27h1v1h-1zM29 27h1v1h-1zM34 27h1v1h-1zM12 28h1v1h-1zM14 28h2v1h-2zM29 28h2v1h-2zM34 28h1v1h-1zM36 28h1v1h-1zM17 29h1v1h-1zM19 29h1v1h-1zM35 29h1v1h-1z" fill-opacity="0.6"/><path d="M57 4h1v1h-1zM49 5h1v1h-1zM55 5h1v1h-1zM57 5h1v1h-1zM44 6h1v1h-1zM50 6h1v1h-1zM57 6h1v1h-1zM59 8h1v1h-1zM33 9h1v1h-1zM59 9h1v1h-1zM23 11h1v1h-1zM27 11h1v1h-1zM59 11h1v1h-1zM21 12h1v1h-1zM24 12h1v1h-1zM16 13h1v1h-1zM20 13h1v1h-1zM23 13h1v1h-1zM57 13h1v1h-1zM15 14h1v1h-1zM23 14h1v1h-1zM11 15h1v1h-1zM18 15h1v1h-1zM21 15h1v1h-1zM56 15h1v1h-1zM12 16h1v1h-1zM54 16h2v1h-2zM12 17h2v1h-2zM15 17h2v1h-2zM11 18h1v1h-1zM49 18h1v1h-1zM52 18h1v1h-1zM55 18h1v1h-1zM11 19h1v1h-1zM14 19h1v1h-1zM16 20h1v1h-1zM18 20h1v1h-1zM20 20h1v1h-1zM22 20h1v1h-1zM24 20h1v1h-1zM46 20h1v1h-1zM11 21h1v1h-1zM23 21h2v1h-2zM30 21h1v1h-1zM42 21h2v1h-2zM46 21h1v1h-1zM19 22h1v1h-1zM25 22h1v1h-1zM35 22h1v1h-1zM41 22h1v1h-1zM43 22h1v1h-1zM14 23h1v1h-1zM21 23h3v1h-3zM25 23h1v1h-1zM29 23h1v1h-1zM33 23h5v1h-5zM41 23h1v1h-1zM15 24h1v1h-1zM17 24h1v1h-1zM22 24h1v1h-1zM30 24h2v1h-2zM37 24h1v1h-1zM24 25h2v1h-2zM30 25h1v1h-1zM34 25h1v1h-1zM32 26h1v1h-1zM26 27h2v1h-2zM33 27h1v1h-1zM40 27h1v1h-1zM23 28h1v1h-1z" fill-opacity="0.8"/><path d="M58 5h1v1h-1zM46 6h2v1h-2zM49 6h1v1h-1zM52 6h1v1h-1zM54 6h1v1h-1zM58 6h1v1h-1zM38 7h1v1h-1zM40 7h19v1h-19zM37 8h22v1h-22zM35 9h24v1h-24zM31 10h1v1h-1zM33 10h26v1h-26zM28 11h2v1h-2zM31 11h28v1h-28zM25 12h34v1h-34zM24 13h3v1h-3zM28 13h29v1h-29zM58 13h1v1h-1zM20 14h3v1h-3zM24 14h33v1h-33zM14 15h1v1h-1zM16 15h2v1h-2zM20 15h1v1h-1zM22 15h34v1h-34zM15 16h3v1h-3zM19 16h35v1h-35zM17 17h35v1h-35zM53 17h1v1h-1zM13 18h2v1h-2zM16 18h33v1h-33zM50 18h1v1h-1zM13 19h1v1h-1zM16 19h1v1h-1zM18 19h1v1h-1zM20 19h28v1h-28zM49 19h1v1h-1zM12 20h1v1h-1zM15 20h1v1h-1zM19 20h1v1h-1zM21 20h1v1h-1zM23 20h1v1h-1zM25 20h21v1h-21zM20 21h1v1h-1zM22 21h1v1h-1zM26 21h4v1h-4zM31 21h11v1h-11zM18 22h1v1h-1zM22 22h1v1h-1zM31 22h4v1h-4zM36 22h2v1h-2zM32 23h1v1h-1zM38 23h1v1h-1zM36 24h1v1h-1zM35 25h1v1h-1zM35 26h1v1h-1z"/></g>
<rect x="28" y="187.28" width="66.9" height="41.6" fill="none" stroke="#777777" stroke-width="1.1"/>
<g transform="translate(97.6,187.28)" fill="#0a7cca" filter="url(#sb)"><path d="M23 4h2v1h-2zM27 4h1v1h-1zM30 4h1v1h-1zM17 5h1v1h-1zM26 5h1v1h-1zM28 5h2v1h-2zM19 6h1v1h-1zM29 6h1v1h-1zM33 6h1v1h-1zM35 6h1v1h-1zM9 7h1v1h-1zM13 7h1v1h-1zM15 7h1v1h-1zM31 7h1v1h-1zM12 8h1v1h-1zM31 8h1v1h-1zM34 8h1v1h-1zM9 9h1v1h-1zM11 9h1v1h-1zM13 9h1v1h-1zM7 10h1v1h-1zM12 10h1v1h-1zM37 10h1v1h-1zM10 11h1v1h-1zM40 11h1v1h-1zM6 12h1v1h-1zM8 12h1v1h-1zM38 12h2v1h-2zM6 13h2v1h-2zM35 13h1v1h-1zM6 14h1v1h-1zM31 14h1v1h-1zM43 14h1v1h-1zM6 15h1v1h-1zM31 15h1v1h-1zM30 16h2v1h-2zM30 17h1v1h-1zM32 17h1v1h-1zM37 17h1v1h-1zM36 18h1v1h-1zM46 18h1v1h-1zM6 19h1v1h-1zM6 20h2v1h-2zM28 20h1v1h-1zM8 21h1v1h-1zM11 21h1v1h-1zM27 21h1v1h-1zM10 22h1v1h-1zM13 22h1v1h-1zM23 22h2v1h-2zM26 22h1v1h-1zM28 22h1v1h-1zM7 23h3v1h-3zM26 23h1v1h-1zM9 24h3v1h-3zM13 24h1v1h-1zM16 24h1v1h-1zM21 24h1v1h-1zM10 25h2v1h-2zM15 25h2v1h-2zM21 25h1v1h-1zM24 25h1v1h-1zM6 26h1v1h-1zM8 26h1v1h-1zM14 26h2v1h-2zM17 26h1v1h-1zM25 26h1v1h-1zM7 27h1v1h-1zM11 27h1v1h-1zM13 27h4v1h-4zM18 27h3v1h-3zM22 27h1v1h-1zM15 28h2v1h-2zM18 28h4v1h-4zM11 29h1v1h-1zM16 29h1v1h-1zM21 29h1v1h-1z" fill-opacity="0.6"/><path d="M23 5h1v1h-1zM21 6h1v1h-1zM28 6h1v1h-1zM20 7h1v1h-1zM32 7h2v1h-2zM33 8h1v1h-1zM14 9h1v1h-1zM31 9h1v1h-1zM33 9h1v1h-1zM9 10h2v1h-2zM31 10h3v1h-3zM36 10h1v1h-1zM12 11h1v1h-1zM9 12h1v1h-1zM33 12h1v1h-1zM8 13h1v1h-1zM30 14h1v1h-1zM32 14h1v1h-1zM30 15h1v1h-1zM32 15h1v1h-1zM6 17h1v1h-1zM8 19h1v1h-1zM28 19h1v1h-1zM26 20h1v1h-1zM25 21h2v1h-2zM11 22h2v1h-2zM22 22h1v1h-1zM10 23h1v1h-1zM12 23h1v1h-1zM15 23h2v1h-2zM20 23h2v1h-2zM23 23h1v1h-1zM8 24h1v1h-1zM20 24h1v1h-1zM24 24h1v1h-1zM17 25h2v1h-2zM20 25h1v1h-1zM18 26h1v1h-1zM23 27h1v1h-1z" fill-opacity="0.8"/><path d="M24 5h2v1h-2zM27 5h1v1h-1zM20 6h1v1h-1zM22 6h6v1h-6zM16 7h4v1h-4zM21 7h10v1h-10zM14 8h1v1h-1zM16 8h15v1h-15zM32 8h1v1h-1zM15 9h16v1h-16zM32 9h1v1h-1zM11 10h1v1h-1zM13 10h18v1h-18zM11 11h1v1h-1zM13 11h19v1h-19zM10 12h22v1h-22zM9 13h24v1h-24zM7 14h23v1h-23zM8 15h22v1h-22zM6 16h24v1h-24zM7 17h22v1h-22zM7 18h21v1h-21zM7 19h1v1h-1zM9 19h19v1h-19zM8 20h18v1h-18zM9 21h2v1h-2zM12 21h13v1h-13zM8 22h2v1h-2zM14 22h8v1h-8zM14 23h1v1h-1zM17 23h3v1h-3zM22 23h1v1h-1zM14 24h1v1h-1zM17 24h2v1h-2zM22 24h1v1h-1zM14 25h1v1h-1zM19 25h1v1h-1zM19 26h1v1h-1zM12 27h1v1h-1zM13 28h1v1h-1z"/></g>
<rect x="97.6" y="187.28" width="66.9" height="41.6" fill="none" stroke="#777777" stroke-width="1.1"/>
<g transform="translate(167.2,187.28)" fill="#0a7cca" filter="url(#sb)"><path d="M26 4h2v1h-2zM22 5h1v1h-1zM24 5h1v1h-1zM26 5h1v1h-1zM30 5h1v1h-1zM32 5h3v1h-3zM21 6h2v1h-2zM35 6h2v1h-2zM34 7h1v1h-1zM37 7h1v1h-1zM34 8h3v1h-3zM16 9h2v1h-2zM34 9h2v1h-2zM37 9h1v1h-1zM46 9h1v1h-1zM15 10h1v1h-1zM34 10h1v1h-1zM37 10h1v1h-1zM11 11h3v1h-3zM35 11h1v1h-1zM12 12h1v1h-1zM31 12h1v1h-1zM34 12h1v1h-1zM36 12h1v1h-1zM38 12h1v1h-1zM11 13h2v1h-2zM10 14h2v1h-2zM31 14h2v1h-2zM6 15h1v1h-1zM29 15h3v1h-3zM40 15h1v1h-1zM6 16h1v1h-1zM8 16h1v1h-1zM30 16h1v1h-1zM6 19h2v1h-2zM7 20h1v1h-1zM9 20h1v1h-1zM8 21h1v1h-1zM24 21h1v1h-1zM6 22h1v1h-1zM8 22h1v1h-1zM6 23h1v1h-1zM11 23h1v1h-1zM21 23h2v1h-2zM8 24h1v1h-1zM15 24h1v1h-1zM19 24h4v1h-4zM5 25h1v1h-1zM7 25h1v1h-1zM9 25h2v1h-2zM12 25h1v1h-1zM15 25h1v1h-1zM22 25h1v1h-1zM7 26h3v1h-3zM11 26h1v1h-1zM14 26h1v1h-1zM17 26h1v1h-1zM9 27h1v1h-1zM13 27h2v1h-2zM16 27h1v1h-1zM18 27h1v1h-1zM23 27h1v1h-1zM6 28h1v1h-1zM8 28h2v1h-2zM11 28h3v1h-3zM15 28h1v1h-1zM17 28h2v1h-2zM10 29h1v1h-1zM12 29h1v1h-1zM17 29h1v1h-1z" fill-opacity="0.6"/><path d="M29 4h1v1h-1zM25 5h1v1h-1zM28 5h2v1h-2zM23 6h1v1h-1zM28 6h1v1h-1zM30 6h1v1h-1zM34 6h1v1h-1zM19 7h1v1h-1zM18 8h2v1h-2zM18 9h1v1h-1zM33 10h1v1h-1zM30 14h1v1h-1zM10 15h1v1h-1zM28 16h2v1h-2zM7 17h1v1h-1zM27 17h2v1h-2zM8 18h1v1h-1zM8 19h2v1h-2zM25 19h1v1h-1zM24 20h1v1h-1zM9 21h1v1h-1zM11 21h1v1h-1zM23 21h1v1h-1zM12 22h1v1h-1zM14 23h1v1h-1zM16 23h1v1h-1zM20 23h1v1h-1zM12 24h1v1h-1zM19 25h1v1h-1zM21 25h1v1h-1zM20 26h1v1h-1zM11 27h2v1h-2zM19 27h1v1h-1z" fill-opacity="0.8"/><path d="M27 5h1v1h-1zM24 6h4v1h-4zM29 6h1v1h-1zM21 7h13v1h-13zM20 8h13v1h-13zM19 9h15v1h-15zM17 10h16v1h-16zM35 10h1v1h-1zM14 11h20v1h-20zM14 12h17v1h-17zM32 12h1v1h-1zM10 13h1v1h-1zM13 13h19v1h-19zM12 14h18v1h-18zM9 15h1v1h-1zM11 15h18v1h-18zM9 16h19v1h-19zM8 17h19v1h-19zM7 18h1v1h-1zM9 18h18v1h-18zM10 19h15v1h-15zM10 20h14v1h-14zM10 21h1v1h-1zM12 21h11v1h-11zM10 22h2v1h-2zM13 22h9v1h-9zM9 23h2v1h-2zM12 23h2v1h-2zM15 23h1v1h-1zM17 23h3v1h-3zM9 24h1v1h-1zM14 24h1v1h-1zM16 24h3v1h-3zM14 25h1v1h-1zM16 25h2v1h-2zM18 26h1v1h-1zM15 27h1v1h-1z"/></g>
<rect x="167.2" y="187.28" width="66.9" height="41.6" fill="none" stroke="#777777" stroke-width="1.1"/>
<g transform="translate(236.8,187.28)" fill="#0a7cca" filter="url(#sb)"><path d="M39 4h1v1h-1zM43 4h1v1h-1zM46 4h1v1h-1zM53 4h1v1h-1zM32 5h1v1h-1zM38 5h2v1h-2zM41 5h1v1h-1zM43 5h1v1h-1zM46 5h2v1h-2zM32 6h1v1h-1zM35 6h2v1h-2zM44 6h2v1h-2zM53 6h1v1h-1zM24 7h1v1h-1zM50 7h1v1h-1zM16 8h1v1h-1zM22 8h1v1h-1zM27 8h1v1h-1zM52 8h4v1h-4zM13 9h1v1h-1zM15 9h2v1h-2zM20 9h3v1h-3zM10 10h2v1h-2zM13 10h1v1h-1zM15 10h1v1h-1zM17 10h2v1h-2zM9 11h1v1h-1zM13 11h1v1h-1zM20 11h1v1h-1zM54 11h1v1h-1zM8 12h2v1h-2zM52 12h1v1h-1zM55 12h1v1h-1zM15 13h1v1h-1zM13 14h1v1h-1zM52 14h2v1h-2zM7 15h1v1h-1zM9 15h1v1h-1zM52 15h1v1h-1zM52 16h2v1h-2zM56 16h1v1h-1zM6 17h1v1h-1zM51 17h2v1h-2zM54 17h1v1h-1zM7 18h1v1h-1zM49 18h2v1h-2zM8 19h2v1h-2zM12 19h1v1h-1zM47 19h1v1h-1zM52 19h1v1h-1zM5 20h1v1h-1zM8 20h2v1h-2zM14 20h1v1h-1zM42 20h1v1h-1zM45 20h3v1h-3zM8 21h5v1h-5zM42 21h1v1h-1zM45 21h1v1h-1zM48 21h1v1h-1zM7 22h1v1h-1zM17 22h2v1h-2zM20 22h1v1h-1zM26 22h1v1h-1zM39 22h1v1h-1zM41 22h1v1h-1zM6 23h1v1h-1zM15 23h2v1h-2zM19 23h1v1h-1zM22 23h4v1h-4zM33 23h1v1h-1zM37 23h2v1h-2zM11 24h2v1h-2zM14 24h1v1h-1zM16 24h2v1h-2zM19 24h1v1h-1zM22 24h2v1h-2zM25 24h2v1h-2zM34 24h2v1h-2zM37 24h1v1h-1zM8 25h1v1h-1zM13 25h1v1h-1zM18 25h2v1h-2zM25 25h2v1h-2zM28 25h1v1h-1zM30 25h1v1h-1zM16 26h1v1h-1zM20 26h2v1h-2zM23 26h2v1h-2zM28 26h3v1h-3zM32 26h1v1h-1zM13 27h1v1h-1zM15 27h3v1h-3zM26 27h4v1h-4zM39 27h1v1h-1zM12 28h1v1h-1zM19 28h1v1h-1zM31 28h1v1h-1zM34 28h2v1h-2zM22 29h1v1h-1zM28 29h1v1h-1zM33 29h1v1h-1z" fill-opacity="0.6"/><path d="M40 5h1v1h-1zM42 5h1v1h-1zM48 5h2v1h-2zM33 6h1v1h-1zM40 6h2v1h-2zM50 6h2v1h-2zM55 6h1v1h-1zM54 7h1v1h-1zM24 8h1v1h-1zM29 8h1v1h-1zM51 8h1v1h-1zM18 9h1v1h-1zM24 9h1v1h-1zM26 9h1v1h-1zM16 10h1v1h-1zM19 10h1v1h-1zM21 10h1v1h-1zM55 10h1v1h-1zM15 11h2v1h-2zM25 11h1v1h-1zM53 11h1v1h-1zM55 11h1v1h-1zM11 12h4v1h-4zM53 12h1v1h-1zM7 13h1v1h-1zM10 13h1v1h-1zM52 13h1v1h-1zM55 13h1v1h-1zM7 14h1v1h-1zM9 14h1v1h-1zM12 14h1v1h-1zM49 16h1v1h-1zM54 16h1v1h-1zM50 17h1v1h-1zM8 18h1v1h-1zM46 18h1v1h-1zM11 19h1v1h-1zM20 19h1v1h-1zM41 19h1v1h-1zM46 19h1v1h-1zM11 20h1v1h-1zM13 20h1v1h-1zM16 20h1v1h-1zM21 20h2v1h-2zM38 20h1v1h-1zM43 20h1v1h-1zM17 21h1v1h-1zM24 21h1v1h-1zM39 21h1v1h-1zM10 22h1v1h-1zM16 22h1v1h-1zM23 22h1v1h-1zM32 22h3v1h-3zM36 22h2v1h-2zM14 23h1v1h-1zM17 23h1v1h-1zM21 23h1v1h-1zM29 23h1v1h-1zM20 24h1v1h-1zM28 24h1v1h-1zM30 24h2v1h-2zM38 24h1v1h-1zM17 25h1v1h-1zM22 25h1v1h-1zM34 25h1v1h-1zM18 26h1v1h-1zM10 27h1v1h-1zM25 27h1v1h-1zM35 27h1v1h-1zM21 28h1v1h-1zM27 28h1v1h-1z" fill-opacity="0.8"/><path d="M36 5h1v1h-1zM34 6h1v1h-1zM38 6h2v1h-2zM42 6h2v1h-2zM46 6h2v1h-2zM27 7h23v1h-23zM51 7h3v1h-3zM28 8h1v1h-1zM30 8h21v1h-21zM27 9h27v1h-27zM20 10h1v1h-1zM22 10h33v1h-33zM12 11h1v1h-1zM14 11h1v1h-1zM17 11h3v1h-3zM21 11h4v1h-4zM26 11h27v1h-27zM10 12h1v1h-1zM15 12h37v1h-37zM11 13h4v1h-4zM16 13h36v1h-36zM10 14h2v1h-2zM14 14h37v1h-37zM8 15h1v1h-1zM10 15h41v1h-41zM8 16h41v1h-41zM50 16h1v1h-1zM9 17h40v1h-40zM9 18h37v1h-37zM47 18h2v1h-2zM10 19h1v1h-1zM13 19h7v1h-7zM21 19h20v1h-20zM42 19h1v1h-1zM7 20h1v1h-1zM12 20h1v1h-1zM15 20h1v1h-1zM17 20h4v1h-4zM23 20h15v1h-15zM39 20h3v1h-3zM15 21h2v1h-2zM18 21h1v1h-1zM20 21h4v1h-4zM25 21h14v1h-14zM40 21h2v1h-2zM19 22h1v1h-1zM22 22h1v1h-1zM27 22h5v1h-5zM35 22h1v1h-1zM27 23h2v1h-2zM30 23h3v1h-3zM35 23h1v1h-1zM21 24h1v1h-1zM27 24h1v1h-1zM32 25h1v1h-1zM35 25h1v1h-1z"/></g>
<rect x="236.8" y="187.28" width="66.9" height="41.6" fill="none" stroke="#777777" stroke-width="1.1"/>
<path d="M331.82 228.88V228.47H333.63V228.27H335.44V227.98H337.25V227.23H339.06V225.33H340.87V221.36H342.68V212.94H344.49V205.23H346.3V198.41H348.11V192.35H349.92V187.7H351.73V190.43H353.54V197.97H355.36V206.84H357.17V215.93H358.98V223H360.79V226.57H362.6V228.88Z" fill="#050f14"/>
<path d="M333.63 228.88V228.47M337.25 228.88V227.98M340.87 228.88V225.33M344.49 228.88V212.94M348.11 228.88V198.41M351.73 228.88V190.43M355.36 228.88V206.84M358.98 228.88V223" stroke="#1f6f93" stroke-width="0.9" fill="none"/>
<rect x="306.4" y="187.28" width="66.9" height="41.6" fill="none" stroke="#777777" stroke-width="1.1"/>
<path d="M62.57 312.7V312.24H63.75V311.75H64.93V311.24H66.12V310.72H67.3V309.86H68.48V308.79H69.67V307.68H70.85V306.02H72.03V304.1H73.22V300.54H74.4V295.5H75.58V289.68H76.77V285.71H77.95V283.19H79.13V282.8H80.32V285.3H81.5V289.06H82.68V293.26H83.86V297.2H85.05V301.28H86.23V305.27H87.41V308.46H88.6V310.43H89.78V311.87H90.96V312.7Z" fill="#1a4a5e"/>
<path d="M63.75 312.7V312.24M67.3 312.7V310.72M70.85 312.7V307.68M74.4 312.7V300.54M77.95 312.7V285.71M81.5 312.7V289.06M85.05 312.7V301.28M88.6 312.7V310.43" stroke="#0d2a36" stroke-width="0.6" fill="none"/>
<rect x="52.95" y="282.5" width="45.8" height="30.2" fill="none" stroke="#777777" stroke-width="1.1"/>
<g transform="translate(100.2,282.5)" fill="#0a7cca" filter="url(#sb)"><path d="M39 3h1v1h-1zM35 4h1v1h-1zM38 4h2v1h-2zM29 6h1v1h-1zM38 7h1v1h-1zM25 8h1v1h-1zM37 8h1v1h-1zM22 10h1v1h-1zM34 10h1v1h-1zM20 12h1v1h-1zM32 12h2v1h-2zM13 14h1v1h-1zM15 14h1v1h-1zM29 14h2v1h-2zM11 15h1v1h-1zM13 15h1v1h-1zM15 15h1v1h-1zM27 15h2v1h-2zM9 16h1v1h-1zM11 16h2v1h-2zM9 17h2v1h-2zM25 17h1v1h-1zM7 18h1v1h-1zM9 18h1v1h-1zM7 19h2v1h-2zM23 19h1v1h-1zM7 20h1v1h-1zM5 21h1v1h-1zM4 22h1v1h-1zM17 22h1v1h-1zM19 22h1v1h-1zM4 23h1v1h-1zM16 23h2v1h-2zM10 24h1v1h-1zM12 24h1v1h-1zM6 25h2v1h-2zM5 26h1v1h-1zM4 27h1v1h-1z" fill-opacity="0.6"/><path d="M32 5h1v1h-1zM38 6h1v1h-1zM37 7h1v1h-1zM36 8h1v1h-1zM23 9h1v1h-1zM35 9h1v1h-1zM31 12h1v1h-1zM30 13h1v1h-1zM16 14h1v1h-1zM14 15h1v1h-1zM11 17h1v1h-1zM24 17h1v1h-1zM6 20h1v1h-1zM6 21h1v1h-1zM16 22h1v1h-1zM12 23h2v1h-2zM4 24h1v1h-1zM8 24h2v1h-2zM4 25h1v1h-1z" fill-opacity="0.8"/><path d="M36 4h2v1h-2zM33 5h7v1h-7zM30 6h8v1h-8zM28 7h9v1h-9zM26 8h10v1h-10zM25 9h10v1h-10zM23 10h11v1h-11zM21 11h13v1h-13zM21 12h10v1h-10zM19 13h11v1h-11zM17 14h12v1h-12zM16 15h11v1h-11zM13 16h14v1h-14zM12 17h12v1h-12zM10 18h13v1h-13zM9 19h14v1h-14zM8 20h14v1h-14zM7 21h14v1h-14zM5 22h11v1h-11zM5 23h7v1h-7zM5 24h3v1h-3zM5 25h1v1h-1zM4 26h1v1h-1z"/></g>
<rect x="100.2" y="282.5" width="45.8" height="30.2" fill="none" stroke="#777777" stroke-width="1.1"/>
<g transform="translate(147.45,282.5)" fill="#0a7cca" filter="url(#sb)"><path d="M39 3h1v1h-1zM34 4h1v1h-1zM38 4h1v1h-1zM28 6h1v1h-1zM38 7h1v1h-1zM27 8h1v1h-1zM26 9h1v1h-1zM33 13h1v1h-1zM20 14h1v1h-1zM22 14h1v1h-1zM32 15h1v1h-1zM19 16h1v1h-1zM32 16h1v1h-1zM19 17h1v1h-1zM19 18h1v1h-1zM16 19h1v1h-1zM18 19h1v1h-1zM16 20h1v1h-1zM18 20h1v1h-1zM28 20h2v1h-2zM15 21h2v1h-2zM27 21h2v1h-2zM16 22h1v1h-1zM16 23h2v1h-2zM28 23h1v1h-1zM17 24h2v1h-2zM23 24h1v1h-1zM12 25h1v1h-1zM14 25h1v1h-1zM16 25h3v1h-3zM20 25h2v1h-2zM13 26h1v1h-1zM18 26h1v1h-1zM19 27h1v1h-1z" fill-opacity="0.6"/><path d="M35 4h1v1h-1zM37 4h1v1h-1zM30 6h1v1h-1zM38 6h1v1h-1zM35 10h1v1h-1zM24 12h1v1h-1zM34 13h1v1h-1zM20 16h1v1h-1zM31 16h1v1h-1zM30 17h1v1h-1zM20 18h1v1h-1zM29 18h1v1h-1zM18 23h1v1h-1zM24 23h2v1h-2zM12 24h1v1h-1zM16 26h1v1h-1z" fill-opacity="0.8"/><path d="M36 4h1v1h-1zM33 5h6v1h-6zM31 6h7v1h-7zM29 7h9v1h-9zM28 8h10v1h-10zM27 9h10v1h-10zM26 10h9v1h-9zM25 11h10v1h-10zM25 12h10v1h-10zM23 13h10v1h-10zM23 14h10v1h-10zM21 15h11v1h-11zM21 16h10v1h-10zM20 17h10v1h-10zM21 18h8v1h-8zM19 19h10v1h-10zM19 20h9v1h-9zM18 21h9v1h-9zM15 22h1v1h-1zM18 22h9v1h-9zM19 23h5v1h-5zM19 24h4v1h-4z"/></g>
<rect x="147.45" y="282.5" width="45.8" height="30.2" fill="none" stroke="#777777" stroke-width="1.1"/>
<g transform="translate(194.7,282.5)" fill="#0a7cca" filter="url(#sb)"><path d="M30 3h1v1h-1zM27 4h1v1h-1zM26 5h1v1h-1zM29 7h2v1h-2zM29 8h1v1h-1zM18 10h1v1h-1zM31 10h1v1h-1zM21 11h2v1h-2zM28 11h1v1h-1zM31 11h1v1h-1zM20 12h3v1h-3zM30 12h1v1h-1zM27 13h1v1h-1zM17 14h1v1h-1zM27 14h1v1h-1zM15 15h1v1h-1zM28 15h1v1h-1zM31 15h1v1h-1zM16 16h1v1h-1zM18 16h1v1h-1zM30 16h1v1h-1zM18 18h1v1h-1zM26 18h1v1h-1zM29 18h1v1h-1zM25 19h1v1h-1zM25 20h2v1h-2zM20 22h1v1h-1zM22 25h2v1h-2zM20 26h1v1h-1zM22 26h1v1h-1zM20 27h1v1h-1z" fill-opacity="0.6"/><path d="M29 4h1v1h-1zM24 8h1v1h-1zM23 9h1v1h-1zM20 11h1v1h-1zM31 13h1v1h-1zM21 16h1v1h-1zM26 16h1v1h-1zM26 17h1v1h-1zM24 22h1v1h-1zM20 24h1v1h-1zM21 26h1v1h-1z" fill-opacity="0.8"/><path d="M28 4h1v1h-1zM27 5h3v1h-3zM25 6h5v1h-5zM25 7h4v1h-4zM25 8h4v1h-4zM24 9h5v1h-5zM23 10h5v1h-5zM23 11h5v1h-5zM23 12h5v1h-5zM22 13h5v1h-5zM22 14h5v1h-5zM22 15h5v1h-5zM22 16h4v1h-4zM21 17h5v1h-5zM21 18h5v1h-5zM21 19h4v1h-4zM21 20h4v1h-4zM21 21h4v1h-4zM21 22h3v1h-3zM21 23h3v1h-3zM21 24h3v1h-3zM21 25h1v1h-1z"/></g>
<rect x="194.7" y="282.5" width="45.8" height="30.2" fill="none" stroke="#777777" stroke-width="1.1"/>
<g transform="translate(241.95,282.5)" fill="#0a7cca" filter="url(#sb)"><path d="M38 3h1v1h-1zM33 4h1v1h-1zM37 4h1v1h-1zM38 6h1v1h-1zM27 7h1v1h-1zM38 7h1v1h-1zM27 8h1v1h-1zM38 8h1v1h-1zM23 10h1v1h-1zM36 10h1v1h-1zM22 11h1v1h-1zM36 11h1v1h-1zM21 12h2v1h-2zM35 12h1v1h-1zM19 13h2v1h-2zM34 13h1v1h-1zM16 14h1v1h-1zM18 14h2v1h-2zM33 14h1v1h-1zM15 15h2v1h-2zM15 16h1v1h-1zM30 17h1v1h-1zM14 18h1v1h-1zM13 19h1v1h-1zM30 19h1v1h-1zM12 20h3v1h-3zM29 20h1v1h-1zM27 21h2v1h-2zM12 22h1v1h-1zM14 22h1v1h-1zM28 22h1v1h-1zM12 23h1v1h-1zM18 23h1v1h-1zM22 23h1v1h-1zM12 24h1v1h-1zM24 24h1v1h-1zM20 25h1v1h-1zM11 26h2v1h-2zM15 26h2v1h-2zM14 27h1v1h-1z" fill-opacity="0.6"/><path d="M32 5h1v1h-1zM29 6h1v1h-1zM36 9h1v1h-1zM24 10h2v1h-2zM23 11h1v1h-1zM35 11h1v1h-1zM16 16h1v1h-1zM31 16h1v1h-1zM15 18h1v1h-1zM14 19h1v1h-1zM26 21h1v1h-1zM26 22h1v1h-1zM23 23h3v1h-3zM13 24h1v1h-1zM15 24h3v1h-3zM19 24h1v1h-1zM12 25h3v1h-3z" fill-opacity="0.8"/><path d="M35 4h2v1h-2zM33 5h6v1h-6zM30 6h8v1h-8zM29 7h9v1h-9zM28 8h10v1h-10zM26 9h10v1h-10zM26 10h10v1h-10zM24 11h11v1h-11zM23 12h12v1h-12zM21 13h13v1h-13zM20 14h13v1h-13zM17 15h15v1h-15zM17 16h14v1h-14zM16 17h14v1h-14zM17 18h13v1h-13zM15 19h14v1h-14zM15 20h13v1h-13zM13 21h13v1h-13zM13 22h1v1h-1zM15 22h10v1h-10zM13 23h5v1h-5zM19 23h3v1h-3zM14 24h1v1h-1zM20 24h1v1h-1z"/></g>
<rect x="241.95" y="282.5" width="45.8" height="30.2" fill="none" stroke="#777777" stroke-width="1.1"/>
<g transform="translate(289.2,282.5)" fill="#0a7cca" filter="url(#sb)"><path d="M39 3h1v1h-1zM33 4h1v1h-1zM35 4h2v1h-2zM40 4h1v1h-1zM29 5h1v1h-1zM31 5h1v1h-1zM33 5h1v1h-1zM28 6h1v1h-1zM25 8h1v1h-1zM27 8h1v1h-1zM23 9h1v1h-1zM25 9h1v1h-1zM23 10h3v1h-3zM18 12h1v1h-1zM20 13h3v1h-3zM39 13h1v1h-1zM21 14h1v1h-1zM17 15h1v1h-1zM19 15h1v1h-1zM16 16h1v1h-1zM16 17h1v1h-1zM20 17h1v1h-1zM38 17h1v1h-1zM19 18h2v1h-2zM18 19h1v1h-1zM36 19h1v1h-1zM18 20h1v1h-1zM20 20h2v1h-2zM38 20h1v1h-1zM33 21h2v1h-2zM36 21h2v1h-2zM18 22h3v1h-3zM33 22h1v1h-1zM35 22h1v1h-1zM17 23h1v1h-1zM21 23h1v1h-1zM24 23h1v1h-1zM32 23h1v1h-1zM19 24h1v1h-1zM25 24h1v1h-1zM29 24h1v1h-1zM32 24h2v1h-2zM21 25h2v1h-2zM24 25h2v1h-2zM27 25h1v1h-1zM29 25h1v1h-1zM31 25h1v1h-1zM21 26h1v1h-1zM32 26h1v1h-1zM28 27h1v1h-1z" fill-opacity="0.6"/><path d="M39 4h1v1h-1zM40 5h1v1h-1zM29 6h1v1h-1zM24 11h1v1h-1zM19 16h1v1h-1zM21 16h1v1h-1zM38 16h1v1h-1zM35 19h1v1h-1zM22 20h1v1h-1zM21 21h1v1h-1zM28 22h1v1h-1zM28 23h1v1h-1zM20 24h1v1h-1zM28 24h1v1h-1zM30 24h1v1h-1zM22 26h1v1h-1z" fill-opacity="0.8"/><path d="M37 4h1v1h-1zM34 5h6v1h-6zM30 6h11v1h-11zM29 7h12v1h-12zM28 8h13v1h-13zM26 9h15v1h-15zM26 10h15v1h-15zM23 11h1v1h-1zM25 11h16v1h-16zM23 12h17v1h-17zM23 13h16v1h-16zM20 14h1v1h-1zM22 14h18v1h-18zM20 15h19v1h-19zM20 16h1v1h-1zM22 16h16v1h-16zM17 17h1v1h-1zM21 17h17v1h-17zM21 18h16v1h-16zM20 19h15v1h-15zM23 20h12v1h-12zM18 21h1v1h-1zM20 21h1v1h-1zM23 21h10v1h-10zM22 22h6v1h-6zM29 22h4v1h-4zM22 23h2v1h-2zM25 23h3v1h-3zM29 23h3v1h-3zM24 24h1v1h-1zM27 24h1v1h-1z"/></g>
<rect x="289.2" y="282.5" width="45.8" height="30.2" fill="none" stroke="#777777" stroke-width="1.1"/>
<g transform="translate(336.45,282.5)" fill="#0a7cca" filter="url(#sb)"><path d="M41 3h1v1h-1zM33 4h1v1h-1zM35 4h1v1h-1zM41 4h1v1h-1zM32 5h1v1h-1zM40 5h2v1h-2zM27 6h1v1h-1zM29 6h2v1h-2zM40 6h1v1h-1zM40 7h1v1h-1zM40 8h2v1h-2zM22 9h1v1h-1zM40 9h1v1h-1zM23 10h1v1h-1zM17 11h1v1h-1zM19 11h2v1h-2zM23 11h1v1h-1zM39 11h1v1h-1zM14 12h1v1h-1zM16 13h2v1h-2zM15 14h1v1h-1zM17 14h1v1h-1zM10 15h1v1h-1zM14 15h3v1h-3zM36 15h1v1h-1zM10 16h3v1h-3zM36 16h1v1h-1zM13 17h1v1h-1zM36 17h1v1h-1zM11 18h3v1h-3zM15 18h1v1h-1zM34 18h1v1h-1zM7 19h1v1h-1zM33 19h1v1h-1zM8 20h1v1h-1zM10 20h1v1h-1zM12 20h2v1h-2zM11 21h1v1h-1zM7 22h1v1h-1zM10 22h2v1h-2zM13 22h1v1h-1zM16 22h2v1h-2zM26 22h1v1h-1zM31 22h1v1h-1zM10 23h2v1h-2zM13 23h1v1h-1zM20 23h1v1h-1zM11 24h1v1h-1zM17 24h1v1h-1zM25 24h4v1h-4zM7 25h1v1h-1zM19 25h4v1h-4zM15 26h1v1h-1zM25 26h1v1h-1zM12 27h1v1h-1z" fill-opacity="0.6"/><path d="M39 4h1v1h-1zM28 7h2v1h-2zM25 9h1v1h-1zM24 10h1v1h-1zM39 10h1v1h-1zM21 11h1v1h-1zM16 12h1v1h-1zM20 12h1v1h-1zM18 13h1v1h-1zM20 13h1v1h-1zM38 13h1v1h-1zM13 14h2v1h-2zM16 14h1v1h-1zM13 16h2v1h-2zM12 17h1v1h-1zM14 17h1v1h-1zM16 17h2v1h-2zM34 17h1v1h-1zM14 18h1v1h-1zM18 18h1v1h-1zM33 18h1v1h-1zM10 19h1v1h-1zM12 19h3v1h-3zM16 19h1v1h-1zM14 20h1v1h-1zM17 20h1v1h-1zM8 21h1v1h-1zM10 21h1v1h-1zM12 21h1v1h-1zM14 21h1v1h-1zM17 21h1v1h-1zM19 21h1v1h-1zM29 22h2v1h-2zM15 23h5v1h-5zM28 23h1v1h-1zM13 24h1v1h-1zM16 24h1v1h-1zM19 24h1v1h-1zM21 24h1v1h-1zM23 24h1v1h-1zM18 25h1v1h-1zM17 26h1v1h-1z" fill-opacity="0.8"/><path d="M38 4h1v1h-1zM33 5h7v1h-7zM31 6h9v1h-9zM30 7h10v1h-10zM27 8h13v1h-13zM26 9h14v1h-14zM25 10h14v1h-14zM24 11h15v1h-15zM21 12h18v1h-18zM21 13h17v1h-17zM19 14h19v1h-19zM18 15h18v1h-18zM15 16h20v1h-20zM11 17h1v1h-1zM15 17h1v1h-1zM18 17h16v1h-16zM16 18h2v1h-2zM19 18h14v1h-14zM15 19h1v1h-1zM17 19h16v1h-16zM15 20h2v1h-2zM18 20h14v1h-14zM13 21h1v1h-1zM15 21h2v1h-2zM18 21h1v1h-1zM20 21h11v1h-11zM12 22h1v1h-1zM14 22h2v1h-2zM18 22h8v1h-8zM27 22h2v1h-2zM21 23h5v1h-5zM27 23h1v1h-1zM20 24h1v1h-1z"/></g>
<rect x="336.45" y="282.5" width="45.8" height="30.2" fill="none" stroke="#777777" stroke-width="1.1"/>
<g transform="translate(52.95,314.3)" fill="#0a7cca" filter="url(#sb)"><path d="M39 3h1v1h-1zM31 6h1v1h-1zM39 6h1v1h-1zM28 7h1v1h-1zM23 10h1v1h-1zM22 11h1v1h-1zM33 12h1v1h-1zM19 13h2v1h-2zM33 13h1v1h-1zM16 14h1v1h-1zM31 14h1v1h-1zM29 15h1v1h-1zM11 17h1v1h-1zM10 18h1v1h-1zM10 19h1v1h-1zM24 19h1v1h-1zM10 20h1v1h-1zM23 21h1v1h-1zM20 22h1v1h-1zM22 22h1v1h-1zM8 23h1v1h-1zM19 23h2v1h-2zM17 24h1v1h-1zM19 24h1v1h-1zM7 25h1v1h-1zM15 25h1v1h-1zM18 25h1v1h-1zM7 26h1v1h-1zM13 26h2v1h-2zM5 27h2v1h-2zM8 27h1v1h-1z" fill-opacity="0.6"/><path d="M39 4h1v1h-1zM33 5h1v1h-1zM38 6h1v1h-1zM27 8h1v1h-1zM24 10h1v1h-1zM22 12h1v1h-1zM18 14h1v1h-1zM15 15h1v1h-1zM12 17h1v1h-1zM25 17h1v1h-1zM23 19h1v1h-1zM22 20h1v1h-1zM21 21h1v1h-1zM9 22h1v1h-1zM9 24h1v1h-1zM14 25h1v1h-1zM5 26h1v1h-1zM4 27h1v1h-1zM7 27h1v1h-1zM10 27h1v1h-1z" fill-opacity="0.8"/><path d="M36 4h2v1h-2zM35 5h4v1h-4zM32 6h6v1h-6zM30 7h8v1h-8zM28 8h9v1h-9zM27 9h10v1h-10zM25 10h11v1h-11zM23 11h12v1h-12zM21 12h1v1h-1zM23 12h10v1h-10zM21 13h11v1h-11zM19 14h12v1h-12zM16 15h13v1h-13zM13 16h15v1h-15zM13 17h12v1h-12zM12 18h12v1h-12zM11 19h12v1h-12zM11 20h11v1h-11zM10 21h11v1h-11zM10 22h10v1h-10zM10 23h8v1h-8zM8 24h1v1h-1zM10 24h6v1h-6zM8 25h6v1h-6zM6 26h1v1h-1zM9 26h3v1h-3z"/></g>
<rect x="52.95" y="314.3" width="45.8" height="30.2" fill="none" stroke="#777777" stroke-width="1.1"/>
<path d="M106.61 344.5V343.98H108.1V343.72H109.58V343.45H111.06V343.1H112.54V342.59H114.03V342.09H115.51V341.73H116.99V341.4H118.48V338.36H119.96V328.62H121.44V321.5H122.93V316.97H124.41V314.6H125.89V315.5H127.37V318.1H128.86V322.5H130.34V328.73H131.82V335.18H133.31V339.9H134.79V342.52H136.27V343.82H137.76V344.5Z" fill="#1a4d66"/>
<path d="M108.1 344.5V343.98M112.54 344.5V343.1M116.99 344.5V341.73M121.44 344.5V328.62M125.89 344.5V315.5M130.34 344.5V328.73M134.79 344.5V342.52" stroke="#2a8fc4" stroke-width="0.5" fill="none"/>
<rect x="100.2" y="314.3" width="45.8" height="30.2" fill="none" stroke="#777777" stroke-width="1.1"/>
<g transform="translate(147.45,314.3)" fill="#0a7cca" filter="url(#sb)"><path d="M39 3h1v1h-1zM33 4h1v1h-1zM35 4h1v1h-1zM31 6h1v1h-1zM38 6h1v1h-1zM37 8h1v1h-1zM27 9h1v1h-1zM26 10h1v1h-1zM23 14h1v1h-1zM21 15h1v1h-1zM20 16h1v1h-1zM19 17h1v1h-1zM30 17h1v1h-1zM19 18h1v1h-1zM19 21h1v1h-1zM28 21h1v1h-1zM18 22h1v1h-1zM16 23h1v1h-1zM15 24h2v1h-2zM16 25h2v1h-2zM22 25h1v1h-1zM12 26h1v1h-1zM14 26h1v1h-1zM18 26h1v1h-1zM20 26h1v1h-1zM13 27h1v1h-1zM15 27h1v1h-1zM19 27h2v1h-2zM22 27h1v1h-1z" fill-opacity="0.6"/><path d="M36 4h2v1h-2zM37 5h1v1h-1zM38 7h1v1h-1zM28 9h1v1h-1zM36 9h1v1h-1zM25 12h1v1h-1zM34 12h1v1h-1zM24 13h1v1h-1zM33 13h1v1h-1zM20 15h1v1h-1zM19 16h1v1h-1zM29 18h1v1h-1zM19 19h1v1h-1zM26 22h1v1h-1zM19 23h1v1h-1zM26 23h1v1h-1zM25 24h1v1h-1zM24 25h2v1h-2zM15 26h1v1h-1zM17 26h1v1h-1zM19 26h1v1h-1zM12 27h1v1h-1zM16 27h1v1h-1z" fill-opacity="0.8"/><path d="M38 4h1v1h-1zM34 5h3v1h-3zM38 5h1v1h-1zM32 6h6v1h-6zM31 7h7v1h-7zM29 8h8v1h-8zM29 9h7v1h-7zM27 10h9v1h-9zM26 11h9v1h-9zM26 12h8v1h-8zM25 13h8v1h-8zM24 14h9v1h-9zM22 15h9v1h-9zM21 16h10v1h-10zM20 17h9v1h-9zM21 18h8v1h-8zM20 19h9v1h-9zM19 20h9v1h-9zM20 21h8v1h-8zM19 22h7v1h-7zM20 23h6v1h-6zM18 24h7v1h-7zM18 25h4v1h-4zM23 25h1v1h-1zM16 26h1v1h-1zM21 26h2v1h-2z"/></g>
<rect x="147.45" y="314.3" width="45.8" height="30.2" fill="none" stroke="#777777" stroke-width="1.1"/>
<g transform="translate(194.7,314.3)" fill="#0a7cca" filter="url(#sb)"><path d="M30 3h1v1h-1zM27 4h1v1h-1zM29 8h2v1h-2zM20 10h4v1h-4zM18 11h1v1h-1zM31 11h1v1h-1zM28 12h1v1h-1zM20 13h1v1h-1zM17 14h1v1h-1zM20 14h2v1h-2zM27 14h1v1h-1zM30 14h2v1h-2zM15 15h1v1h-1zM30 15h1v1h-1zM16 16h1v1h-1zM28 16h2v1h-2zM25 20h1v1h-1zM26 21h1v1h-1zM24 23h1v1h-1zM26 23h1v1h-1zM20 25h1v1h-1zM23 26h1v1h-1zM22 27h1v1h-1z" fill-opacity="0.6"/><path d="M29 5h1v1h-1zM24 8h1v1h-1zM27 13h1v1h-1zM18 16h1v1h-1zM21 16h1v1h-1zM26 16h1v1h-1zM21 17h1v1h-1zM21 19h1v1h-1zM25 19h1v1h-1z" fill-opacity="0.8"/><path d="M28 4h2v1h-2zM27 5h2v1h-2zM26 6h4v1h-4zM25 7h5v1h-5zM25 8h4v1h-4zM24 9h5v1h-5zM24 10h5v1h-5zM23 11h5v1h-5zM23 12h5v1h-5zM22 13h5v1h-5zM31 13h1v1h-1zM22 14h5v1h-5zM22 15h5v1h-5zM22 16h4v1h-4zM22 17h4v1h-4zM21 18h5v1h-5zM22 19h3v1h-3zM21 20h4v1h-4zM21 21h4v1h-4zM21 22h4v1h-4zM21 23h3v1h-3zM21 24h3v1h-3zM21 25h3v1h-3zM21 26h2v1h-2zM20 27h2v1h-2z"/></g>
<rect x="194.7" y="314.3" width="45.8" height="30.2" fill="none" stroke="#777777" stroke-width="1.1"/>
<g transform="translate(241.95,314.3)" fill="#0a7cca" filter="url(#sb)"><path d="M38 3h1v1h-1zM34 5h1v1h-1zM38 5h1v1h-1zM30 7h1v1h-1zM38 7h1v1h-1zM36 9h1v1h-1zM34 11h1v1h-1zM23 13h1v1h-1zM21 14h1v1h-1zM20 15h1v1h-1zM18 16h1v1h-1zM28 17h2v1h-2zM15 19h1v1h-1zM27 19h1v1h-1zM15 20h1v1h-1zM14 22h2v1h-2zM12 23h1v1h-1zM14 23h1v1h-1zM21 24h4v1h-4zM19 25h1v1h-1zM12 26h1v1h-1zM18 26h1v1h-1zM11 27h1v1h-1zM13 27h1v1h-1z" fill-opacity="0.6"/><path d="M35 4h3v1h-3zM37 5h1v1h-1zM25 12h1v1h-1zM22 14h1v1h-1zM31 14h1v1h-1zM30 15h1v1h-1zM17 16h1v1h-1zM19 16h1v1h-1zM29 16h1v1h-1zM17 17h1v1h-1zM17 18h1v1h-1zM17 20h1v1h-1zM26 20h1v1h-1zM15 21h2v1h-2zM24 22h1v1h-1zM24 23h1v1h-1zM21 25h1v1h-1zM16 26h1v1h-1zM14 27h1v1h-1z" fill-opacity="0.8"/><path d="M38 4h1v1h-1zM35 5h2v1h-2zM33 6h5v1h-5zM32 7h6v1h-6zM30 8h7v1h-7zM29 9h7v1h-7zM28 10h7v1h-7zM27 11h7v1h-7zM26 12h8v1h-8zM24 13h8v1h-8zM23 14h8v1h-8zM21 15h9v1h-9zM20 16h9v1h-9zM16 17h1v1h-1zM18 17h10v1h-10zM18 18h10v1h-10zM17 19h10v1h-10zM16 20h1v1h-1zM18 20h8v1h-8zM17 21h9v1h-9zM16 22h8v1h-8zM15 23h9v1h-9zM13 24h8v1h-8zM13 25h5v1h-5zM20 25h1v1h-1zM13 26h3v1h-3zM12 27h1v1h-1z"/></g>
<rect x="241.95" y="314.3" width="45.8" height="30.2" fill="none" stroke="#777777" stroke-width="1.1"/>
<g transform="translate(289.2,314.3)" fill="#0a7cca" filter="url(#sb)"><path d="M39 3h1v1h-1zM34 4h1v1h-1zM36 4h1v1h-1zM34 5h1v1h-1zM28 6h2v1h-2zM29 7h1v1h-1zM24 9h3v1h-3zM23 10h1v1h-1zM22 12h1v1h-1zM40 12h1v1h-1zM21 13h1v1h-1zM18 14h1v1h-1zM39 15h1v1h-1zM16 17h2v1h-2zM19 17h1v1h-1zM20 18h1v1h-1zM38 18h1v1h-1zM19 19h1v1h-1zM36 19h1v1h-1zM18 20h1v1h-1zM21 20h2v1h-2zM35 20h2v1h-2zM18 21h4v1h-4zM35 21h1v1h-1zM17 22h2v1h-2zM20 22h1v1h-1zM34 22h1v1h-1zM17 23h2v1h-2zM32 23h2v1h-2zM37 23h1v1h-1zM16 24h1v1h-1zM18 24h1v1h-1zM37 24h1v1h-1zM18 25h2v1h-2zM20 26h1v1h-1zM22 26h2v1h-2zM26 26h1v1h-1zM28 26h1v1h-1zM32 26h1v1h-1zM35 26h1v1h-1zM24 27h4v1h-4zM32 27h1v1h-1z" fill-opacity="0.6"/><path d="M37 4h4v1h-4zM40 5h1v1h-1zM31 6h1v1h-1zM40 6h1v1h-1zM30 7h1v1h-1zM28 8h1v1h-1zM21 14h1v1h-1zM39 14h1v1h-1zM21 15h2v1h-2zM17 16h1v1h-1zM19 16h1v1h-1zM21 18h1v1h-1zM35 19h1v1h-1zM22 22h1v1h-1zM20 23h2v1h-2zM24 23h1v1h-1zM24 24h1v1h-1zM33 24h1v1h-1zM20 25h1v1h-1zM22 25h3v1h-3zM21 26h1v1h-1zM24 26h1v1h-1zM31 26h1v1h-1zM22 27h1v1h-1zM28 27h1v1h-1z" fill-opacity="0.8"/><path d="M35 5h5v1h-5zM32 6h8v1h-8zM31 7h10v1h-10zM29 8h12v1h-12zM27 9h14v1h-14zM25 10h16v1h-16zM23 11h1v1h-1zM25 11h16v1h-16zM23 12h17v1h-17zM23 13h17v1h-17zM22 14h17v1h-17zM20 15h1v1h-1zM23 15h16v1h-16zM20 16h19v1h-19zM20 17h18v1h-18zM22 18h14v1h-14zM21 19h14v1h-14zM20 20h1v1h-1zM23 20h12v1h-12zM23 21h12v1h-12zM23 22h11v1h-11zM25 23h7v1h-7zM34 23h1v1h-1zM22 24h2v1h-2zM25 24h8v1h-8zM25 25h7v1h-7zM25 26h1v1h-1zM30 26h1v1h-1z"/></g>
<rect x="289.2" y="314.3" width="45.8" height="30.2" fill="none" stroke="#777777" stroke-width="1.1"/>
<g transform="translate(336.45,314.3)" fill="#0a7cca" filter="url(#sb)"><path d="M41 3h1v1h-1zM33 4h1v1h-1zM36 4h1v1h-1zM40 4h2v1h-2zM35 5h1v1h-1zM40 5h1v1h-1zM31 6h1v1h-1zM41 6h1v1h-1zM30 7h1v1h-1zM40 7h1v1h-1zM28 8h1v1h-1zM41 8h1v1h-1zM25 9h2v1h-2zM20 11h1v1h-1zM22 11h1v1h-1zM39 11h1v1h-1zM14 13h1v1h-1zM17 13h1v1h-1zM38 13h2v1h-2zM17 14h1v1h-1zM38 14h1v1h-1zM11 16h1v1h-1zM10 17h1v1h-1zM12 17h1v1h-1zM17 17h1v1h-1zM34 17h1v1h-1zM13 18h2v1h-2zM17 18h1v1h-1zM10 19h1v1h-1zM13 19h1v1h-1zM7 20h1v1h-1zM10 20h2v1h-2zM14 20h1v1h-1zM16 20h2v1h-2zM13 21h2v1h-2zM31 21h2v1h-2zM7 22h1v1h-1zM10 22h3v1h-3zM14 22h1v1h-1zM8 23h1v1h-1zM13 23h1v1h-1zM15 23h2v1h-2zM21 23h1v1h-1zM30 23h2v1h-2zM10 24h2v1h-2zM13 24h1v1h-1zM17 24h1v1h-1zM20 24h2v1h-2zM29 24h1v1h-1zM10 25h1v1h-1zM13 25h2v1h-2zM25 25h1v1h-1zM7 26h1v1h-1zM10 26h1v1h-1zM13 26h1v1h-1zM16 26h1v1h-1zM18 26h1v1h-1zM20 26h2v1h-2zM25 26h1v1h-1zM28 26h1v1h-1zM12 27h1v1h-1zM17 27h2v1h-2zM20 27h2v1h-2z" fill-opacity="0.6"/><path d="M38 4h1v1h-1zM33 5h2v1h-2zM40 9h1v1h-1zM24 10h1v1h-1zM16 12h1v1h-1zM22 12h1v1h-1zM16 13h1v1h-1zM19 13h1v1h-1zM37 14h1v1h-1zM14 15h1v1h-1zM17 15h1v1h-1zM14 16h1v1h-1zM13 17h1v1h-1zM15 17h1v1h-1zM18 17h1v1h-1zM10 18h1v1h-1zM12 18h1v1h-1zM16 18h1v1h-1zM16 19h1v1h-1zM18 20h1v1h-1zM31 20h2v1h-2zM12 21h1v1h-1zM16 21h2v1h-2zM19 21h1v1h-1zM16 22h1v1h-1zM19 22h1v1h-1zM30 22h2v1h-2zM18 23h1v1h-1zM29 23h1v1h-1zM8 24h1v1h-1zM12 24h1v1h-1zM14 24h1v1h-1zM19 24h1v1h-1zM26 24h1v1h-1zM11 25h2v1h-2zM16 25h1v1h-1zM23 25h1v1h-1zM27 25h1v1h-1zM27 26h1v1h-1zM15 27h1v1h-1zM25 27h1v1h-1z" fill-opacity="0.8"/><path d="M39 4h1v1h-1zM36 5h4v1h-4zM32 6h8v1h-8zM29 7h1v1h-1zM31 7h9v1h-9zM29 8h11v1h-11zM27 9h13v1h-13zM26 10h14v1h-14zM24 11h15v1h-15zM21 12h1v1h-1zM23 12h16v1h-16zM20 13h18v1h-18zM18 14h2v1h-2zM21 14h16v1h-16zM16 15h1v1h-1zM18 15h19v1h-19zM13 16h1v1h-1zM15 16h20v1h-20zM11 17h1v1h-1zM14 17h1v1h-1zM16 17h1v1h-1zM19 17h15v1h-15zM15 18h1v1h-1zM18 18h15v1h-15zM14 19h2v1h-2zM17 19h15v1h-15zM12 20h1v1h-1zM15 20h1v1h-1zM19 20h12v1h-12zM15 21h1v1h-1zM18 21h1v1h-1zM20 21h11v1h-11zM13 22h1v1h-1zM15 22h1v1h-1zM18 22h1v1h-1zM20 22h10v1h-10zM19 23h2v1h-2zM22 23h7v1h-7zM15 24h2v1h-2zM18 24h1v1h-1zM22 24h4v1h-4zM27 24h2v1h-2zM17 25h1v1h-1zM20 25h3v1h-3zM24 25h1v1h-1zM26 25h1v1h-1zM28 25h1v1h-1zM17 26h1v1h-1zM19 26h1v1h-1zM22 26h1v1h-1z"/></g>
<rect x="336.45" y="314.3" width="45.8" height="30.2" fill="none" stroke="#777777" stroke-width="1.1"/>
<g transform="translate(52.95,346.1)" fill="#0a7cca" filter="url(#sb)"><path d="M39 4h1v1h-1zM38 5h1v1h-1zM30 6h1v1h-1zM38 7h1v1h-1zM20 8h1v1h-1zM22 8h2v1h-2zM17 10h1v1h-1zM35 10h2v1h-2zM10 11h1v1h-1zM12 11h2v1h-2zM35 11h1v1h-1zM8 14h1v1h-1zM7 15h1v1h-1zM23 15h2v1h-2zM6 16h1v1h-1zM20 16h1v1h-1zM22 16h2v1h-2zM4 17h1v1h-1zM7 17h1v1h-1zM18 17h2v1h-2zM21 17h1v1h-1zM5 18h2v1h-2zM8 18h3v1h-3zM14 18h1v1h-1zM4 19h3v1h-3zM11 19h1v1h-1zM13 19h2v1h-2zM16 19h1v1h-1zM6 20h1v1h-1zM13 20h1v1h-1zM5 21h1v1h-1zM9 21h1v1h-1z" fill-opacity="0.6"/><path d="M36 4h2v1h-2zM34 5h1v1h-1zM25 7h1v1h-1zM28 13h1v1h-1zM26 14h1v1h-1zM8 16h1v1h-1zM8 17h1v1h-1zM11 18h1v1h-1zM13 18h1v1h-1zM10 19h1v1h-1zM11 20h1v1h-1zM7 21h1v1h-1z" fill-opacity="0.8"/><path d="M32 5h2v1h-2zM35 5h3v1h-3zM39 5h1v1h-1zM31 6h8v1h-8zM26 7h12v1h-12zM24 8h14v1h-14zM21 9h16v1h-16zM18 10h17v1h-17zM14 11h20v1h-20zM11 12h1v1h-1zM13 12h19v1h-19zM10 13h18v1h-18zM10 14h16v1h-16zM8 15h15v1h-15zM9 16h11v1h-11zM21 16h1v1h-1zM9 17h8v1h-8z"/></g>
<rect x="52.95" y="346.1" width="45.8" height="30.2" fill="none" stroke="#777777" stroke-width="1.1"/>
<g transform="translate(100.2,346.1)" fill="#0a7cca" filter="url(#sb)"><path d="M34 4h1v1h-1zM36 4h1v1h-1zM38 4h1v1h-1zM30 5h1v1h-1zM39 5h1v1h-1zM38 7h1v1h-1zM35 9h1v1h-1zM19 10h1v1h-1zM33 10h1v1h-1zM14 11h2v1h-2zM30 12h1v1h-1zM8 13h1v1h-1zM26 13h2v1h-2zM6 14h1v1h-1zM4 15h1v1h-1zM22 15h1v1h-1zM4 16h1v1h-1zM21 16h2v1h-2zM4 17h1v1h-1zM9 17h1v1h-1zM15 17h3v1h-3zM19 17h1v1h-1zM9 18h1v1h-1zM5 19h1v1h-1zM8 19h1v1h-1zM10 19h1v1h-1zM6 20h1v1h-1zM8 20h1v1h-1zM5 21h1v1h-1z" fill-opacity="0.6"/><path d="M39 4h1v1h-1zM32 5h1v1h-1zM38 6h2v1h-2zM26 7h2v1h-2zM23 8h1v1h-1zM12 11h1v1h-1zM31 11h1v1h-1zM10 12h2v1h-2zM29 12h1v1h-1zM7 13h1v1h-1zM24 14h1v1h-1zM6 15h1v1h-1zM20 16h1v1h-1zM10 17h1v1h-1zM20 17h1v1h-1zM6 18h1v1h-1zM6 19h1v1h-1zM5 20h1v1h-1z" fill-opacity="0.8"/><path d="M34 5h5v1h-5zM30 6h8v1h-8zM28 7h10v1h-10zM24 8h13v1h-13zM22 9h13v1h-13zM20 10h13v1h-13zM16 11h15v1h-15zM12 12h17v1h-17zM9 13h17v1h-17zM7 14h17v1h-17zM5 15h1v1h-1zM7 15h15v1h-15zM5 16h15v1h-15zM6 17h3v1h-3zM11 17h2v1h-2zM14 17h1v1h-1zM5 18h1v1h-1zM8 18h1v1h-1zM4 19h1v1h-1zM4 21h1v1h-1z"/></g>
<rect x="100.2" y="346.1" width="45.8" height="30.2" fill="none" stroke="#777777" stroke-width="1.1"/>
<path d="M167.6 376.3V375.52H168.81V374.93H170.02V373.77H171.23V370.73H172.44V364.39H173.65V356.81H174.86V350.16H176.07V346.4H177.29V350.53H178.5V358.12H179.71V365.9H180.92V371.31H182.13V374.04H183.34V375.44H184.55V376.3Z" fill="#081a24"/>
<path d="M168.81 376.3V375.52M171.23 376.3V373.77M173.65 376.3V364.39M176.07 376.3V350.16M178.5 376.3V358.12M180.92 376.3V371.31M183.34 376.3V375.44" stroke="#2a8fc4" stroke-width="0.4" fill="none"/>
<rect x="147.45" y="346.1" width="45.8" height="30.2" fill="none" stroke="#777777" stroke-width="1.1"/>
<g transform="translate(194.7,346.1)" fill="#0a7cca" filter="url(#sb)"><path d="M27 4h1v1h-1zM29 4h2v1h-2zM30 7h1v1h-1zM23 9h1v1h-1zM18 10h1v1h-1zM20 10h3v1h-3zM15 11h3v1h-3zM21 11h1v1h-1zM28 11h1v1h-1zM30 11h2v1h-2zM28 12h1v1h-1zM30 12h1v1h-1zM29 13h1v1h-1zM20 16h1v1h-1zM26 16h1v1h-1zM20 17h1v1h-1zM23 18h1v1h-1zM22 20h1v1h-1zM20 21h1v1h-1z" fill-opacity="0.6"/><path d="M28 4h1v1h-1zM26 5h1v1h-1zM29 7h1v1h-1zM31 9h1v1h-1zM31 10h1v1h-1zM20 11h1v1h-1zM27 11h1v1h-1zM18 12h1v1h-1zM26 13h1v1h-1zM20 19h1v1h-1zM23 19h1v1h-1z" fill-opacity="0.8"/><path d="M27 5h3v1h-3zM26 6h4v1h-4zM25 7h4v1h-4zM24 8h5v1h-5zM24 9h5v1h-5zM23 10h5v1h-5zM22 11h5v1h-5zM22 12h5v1h-5zM21 13h5v1h-5zM21 14h5v1h-5zM21 15h4v1h-4zM21 16h3v1h-3zM21 17h3v1h-3zM21 18h2v1h-2zM21 19h1v1h-1zM21 20h1v1h-1zM21 21h1v1h-1z"/></g>
<rect x="194.7" y="346.1" width="45.8" height="30.2" fill="none" stroke="#777777" stroke-width="1.1"/>
<g transform="translate(241.95,346.1)" fill="#0a7cca" filter="url(#sb)"><path d="M35 4h2v1h-2zM32 5h1v1h-1zM30 6h1v1h-1zM38 6h1v1h-1zM29 7h1v1h-1zM38 7h1v1h-1zM27 8h1v1h-1zM37 8h1v1h-1zM22 10h1v1h-1zM35 10h1v1h-1zM19 11h1v1h-1zM33 11h1v1h-1zM16 12h1v1h-1zM14 13h1v1h-1zM13 14h1v1h-1zM12 15h1v1h-1zM12 16h1v1h-1zM14 17h1v1h-1zM21 17h1v1h-1zM25 17h1v1h-1zM13 18h2v1h-2zM17 18h1v1h-1zM19 18h1v1h-1zM11 19h1v1h-1zM13 19h2v1h-2zM12 20h1v1h-1zM14 20h1v1h-1z" fill-opacity="0.6"/><path d="M33 5h1v1h-1zM38 5h1v1h-1zM36 9h1v1h-1zM23 10h1v1h-1zM20 11h1v1h-1zM17 12h1v1h-1zM27 15h1v1h-1zM25 16h1v1h-1zM15 17h1v1h-1zM22 17h1v1h-1zM24 17h1v1h-1zM15 18h2v1h-2zM18 18h1v1h-1zM12 19h1v1h-1zM15 19h1v1h-1zM17 19h1v1h-1zM13 20h1v1h-1zM12 21h1v1h-1zM14 21h1v1h-1z" fill-opacity="0.8"/><path d="M38 4h1v1h-1zM34 5h4v1h-4zM31 6h7v1h-7zM30 7h8v1h-8zM28 8h9v1h-9zM26 9h10v1h-10zM24 10h11v1h-11zM21 11h12v1h-12zM18 12h14v1h-14zM15 13h15v1h-15zM14 14h15v1h-15zM13 15h14v1h-14zM13 16h12v1h-12zM26 16h1v1h-1zM13 17h1v1h-1zM16 17h5v1h-5zM23 17h1v1h-1z"/></g>
<rect x="241.95" y="346.1" width="45.8" height="30.2" fill="none" stroke="#777777" stroke-width="1.1"/>
<g transform="translate(289.2,346.1)" fill="#0a7cca" filter="url(#sb)"><path d="M36 4h1v1h-1zM39 4h1v1h-1zM28 6h3v1h-3zM25 7h1v1h-1zM25 8h2v1h-2zM23 9h1v1h-1zM20 10h1v1h-1zM16 11h1v1h-1zM18 11h2v1h-2zM17 12h1v1h-1zM16 13h4v1h-4zM39 13h1v1h-1zM17 14h4v1h-4zM17 15h1v1h-1zM22 15h1v1h-1zM17 16h2v1h-2zM20 16h1v1h-1zM35 16h1v1h-1zM37 16h1v1h-1zM18 17h3v1h-3zM28 17h1v1h-1zM34 17h1v1h-1zM20 18h1v1h-1zM25 18h1v1h-1zM29 18h2v1h-2zM32 18h1v1h-1zM21 19h3v1h-3zM26 19h1v1h-1zM29 19h1v1h-1zM20 20h1v1h-1zM22 20h2v1h-2zM25 20h1v1h-1zM22 21h1v1h-1zM28 21h1v1h-1z" fill-opacity="0.6"/><path d="M31 5h1v1h-1zM33 5h1v1h-1zM40 5h1v1h-1zM31 6h2v1h-2zM24 9h1v1h-1zM21 11h1v1h-1zM19 12h1v1h-1zM18 15h1v1h-1zM21 15h1v1h-1zM21 16h1v1h-1zM23 17h2v1h-2zM33 17h1v1h-1zM25 19h1v1h-1zM31 19h1v1h-1zM24 21h1v1h-1z" fill-opacity="0.8"/><path d="M38 4h1v1h-1zM34 5h6v1h-6zM33 6h8v1h-8zM28 7h13v1h-13zM27 8h14v1h-14zM25 9h16v1h-16zM22 10h19v1h-19zM20 11h1v1h-1zM22 11h18v1h-18zM20 12h19v1h-19zM20 13h19v1h-19zM21 14h17v1h-17zM20 15h1v1h-1zM23 15h13v1h-13zM22 16h13v1h-13zM25 17h3v1h-3zM29 17h4v1h-4zM27 18h1v1h-1z"/></g>
<rect x="289.2" y="346.1" width="45.8" height="30.2" fill="none" stroke="#777777" stroke-width="1.1"/>
<g transform="translate(336.45,346.1)" fill="#0a7cca" filter="url(#sb)"><path d="M37 4h1v1h-1zM40 5h1v1h-1zM29 6h1v1h-1zM31 6h1v1h-1zM40 6h1v1h-1zM29 7h1v1h-1zM25 8h1v1h-1zM27 8h1v1h-1zM40 8h1v1h-1zM20 10h1v1h-1zM22 10h1v1h-1zM11 12h4v1h-4zM10 13h2v1h-2zM13 13h1v1h-1zM7 14h1v1h-1zM11 14h1v1h-1zM8 15h1v1h-1zM31 15h1v1h-1zM14 16h1v1h-1zM31 16h1v1h-1zM7 17h1v1h-1zM12 17h1v1h-1zM15 17h2v1h-2zM19 17h1v1h-1zM28 17h2v1h-2zM16 18h1v1h-1zM19 18h2v1h-2zM24 18h2v1h-2zM12 19h1v1h-1zM19 19h1v1h-1zM21 19h1v1h-1zM25 19h2v1h-2zM7 20h1v1h-1zM15 20h1v1h-1zM17 20h1v1h-1zM19 20h1v1h-1zM17 21h3v1h-3zM21 21h1v1h-1z" fill-opacity="0.6"/><path d="M39 4h1v1h-1zM41 4h1v1h-1zM33 5h1v1h-1zM41 5h1v1h-1zM40 7h1v1h-1zM26 8h1v1h-1zM21 10h1v1h-1zM38 10h1v1h-1zM19 11h1v1h-1zM38 11h1v1h-1zM36 12h1v1h-1zM34 13h1v1h-1zM13 15h1v1h-1zM30 15h1v1h-1zM8 16h1v1h-1zM11 16h1v1h-1zM30 16h1v1h-1zM10 17h1v1h-1zM13 17h2v1h-2zM18 17h1v1h-1zM21 17h1v1h-1zM25 17h1v1h-1zM27 17h1v1h-1zM18 18h1v1h-1zM15 19h1v1h-1zM17 19h1v1h-1z" fill-opacity="0.8"/><path d="M36 5h4v1h-4zM32 6h8v1h-8zM30 7h10v1h-10zM28 8h12v1h-12zM24 9h16v1h-16zM23 10h15v1h-15zM16 11h1v1h-1zM18 11h1v1h-1zM20 11h18v1h-18zM15 12h21v1h-21zM12 13h1v1h-1zM14 13h20v1h-20zM12 14h21v1h-21zM10 15h2v1h-2zM14 15h16v1h-16zM10 16h1v1h-1zM12 16h2v1h-2zM15 16h15v1h-15zM17 17h1v1h-1zM20 17h1v1h-1zM22 17h3v1h-3zM22 18h1v1h-1z"/></g>
<rect x="336.45" y="346.1" width="45.8" height="30.2" fill="none" stroke="#777777" stroke-width="1.1"/>
<g transform="translate(52.95,377.9)" fill="#0a7cca" filter="url(#sb)"><path d="M21 9h2v1h-2zM24 9h3v1h-3zM28 9h2v1h-2zM34 9h1v1h-1zM39 9h1v1h-1zM17 10h1v1h-1zM32 10h1v1h-1zM34 10h2v1h-2zM38 10h2v1h-2zM22 11h2v1h-2zM27 11h2v1h-2zM14 12h1v1h-1zM18 12h2v1h-2zM38 12h1v1h-1zM12 13h1v1h-1zM15 13h1v1h-1zM36 13h1v1h-1zM7 14h1v1h-1zM6 15h2v1h-2zM26 15h4v1h-4zM8 16h1v1h-1zM12 16h1v1h-1zM14 16h2v1h-2zM19 16h1v1h-1zM26 16h3v1h-3zM17 17h1v1h-1zM30 17h1v1h-1zM21 18h1v1h-1zM24 18h1v1h-1zM20 19h1v1h-1zM22 20h1v1h-1z" fill-opacity="0.6"/><path d="M39 11h1v1h-1zM21 12h2v1h-2zM37 12h1v1h-1zM14 13h1v1h-1zM4 16h1v1h-1zM7 16h1v1h-1zM11 16h1v1h-1z" fill-opacity="0.8"/><path d="M36 10h2v1h-2zM29 11h10v1h-10zM23 12h14v1h-14zM16 13h20v1h-20zM8 14h1v1h-1zM10 14h22v1h-22zM5 15h1v1h-1zM8 15h18v1h-18zM6 16h1v1h-1zM10 16h1v1h-1zM13 16h1v1h-1z"/></g>
<rect x="52.95" y="377.9" width="45.8" height="30.2" fill="none" stroke="#777777" stroke-width="1.1"/>
<g transform="translate(100.2,377.9)" fill="#0a7cca" filter="url(#sb)"><path d="M22 9h2v1h-2zM25 9h2v1h-2zM28 9h1v1h-1zM32 9h1v1h-1zM39 9h1v1h-1zM20 10h1v1h-1zM37 10h3v1h-3zM21 11h1v1h-1zM23 11h1v1h-1zM26 11h1v1h-1zM10 12h1v1h-1zM13 12h1v1h-1zM20 12h2v1h-2zM38 12h1v1h-1zM10 13h1v1h-1zM12 13h2v1h-2zM15 13h1v1h-1zM5 14h2v1h-2zM31 14h1v1h-1zM33 14h1v1h-1zM26 15h1v1h-1zM10 16h1v1h-1zM18 16h1v1h-1zM24 16h2v1h-2zM30 16h1v1h-1zM20 17h1v1h-1zM27 17h1v1h-1zM21 18h1v1h-1zM23 18h1v1h-1zM21 19h1v1h-1zM22 20h1v1h-1z" fill-opacity="0.6"/><path d="M24 9h1v1h-1zM34 10h1v1h-1zM36 10h1v1h-1zM28 11h1v1h-1zM29 15h1v1h-1zM7 16h2v1h-2zM12 16h1v1h-1zM14 16h1v1h-1z" fill-opacity="0.8"/><path d="M35 10h1v1h-1zM29 11h11v1h-11zM22 12h16v1h-16zM14 13h1v1h-1zM16 13h19v1h-19zM7 14h24v1h-24zM4 15h22v1h-22zM4 16h2v1h-2zM9 16h1v1h-1z"/></g>
<rect x="100.2" y="377.9" width="45.8" height="30.2" fill="none" stroke="#777777" stroke-width="1.1"/>
<g transform="translate(147.45,377.9)" fill="#0a7cca" filter="url(#sb)"><path d="M26 9h3v1h-3zM34 9h1v1h-1zM39 9h1v1h-1zM25 10h1v1h-1zM37 10h2v1h-2zM28 11h1v1h-1zM20 12h1v1h-1zM26 12h1v1h-1zM35 13h1v1h-1zM12 15h2v1h-2zM17 15h1v1h-1zM29 15h2v1h-2zM14 16h1v1h-1zM16 16h1v1h-1zM21 16h1v1h-1zM25 16h1v1h-1zM28 16h1v1h-1zM26 17h1v1h-1zM30 17h1v1h-1zM26 18h1v1h-1zM28 18h1v1h-1zM27 19h1v1h-1zM28 20h1v1h-1z" fill-opacity="0.6"/><path d="M29 9h2v1h-2zM34 10h1v1h-1zM27 11h1v1h-1zM25 12h1v1h-1zM16 14h1v1h-1zM15 15h1v1h-1zM12 16h1v1h-1zM15 16h1v1h-1zM17 16h1v1h-1zM22 16h2v1h-2zM29 16h1v1h-1z" fill-opacity="0.8"/><path d="M36 10h1v1h-1zM30 11h9v1h-9zM27 12h11v1h-11zM23 13h12v1h-12zM18 14h15v1h-15zM16 15h1v1h-1zM18 15h11v1h-11zM19 16h2v1h-2z"/></g>
<rect x="147.45" y="377.9" width="45.8" height="30.2" fill="none" stroke="#777777" stroke-width="1.1"/>
<path d="M217.14 408.1V406.13H217.64V402.21H218.14V396.5H218.64V389.23H219.14V384.36H219.64V381.52H220.14V385.19H220.64V390.37H221.14V397.82H221.64V402.93H222.14V406.7H222.64V408.1Z" fill="#000000"/>
<rect x="194.7" y="377.9" width="45.8" height="30.2" fill="none" stroke="#777777" stroke-width="1.1"/>
<g transform="translate(241.95,377.9)" fill="#0a7cca" filter="url(#sb)"><path d="M26 9h1v1h-1zM28 9h1v1h-1zM31 9h1v1h-1zM35 9h1v1h-1zM38 9h1v1h-1zM22 10h1v1h-1zM33 10h1v1h-1zM37 10h1v1h-1zM26 11h2v1h-2zM15 12h1v1h-1zM22 12h1v1h-1zM38 12h1v1h-1zM19 13h1v1h-1zM35 13h1v1h-1zM13 14h1v1h-1zM35 14h1v1h-1zM28 15h1v1h-1zM30 15h1v1h-1zM11 16h1v1h-1zM15 16h1v1h-1zM29 16h3v1h-3zM26 17h1v1h-1zM29 17h1v1h-1zM24 18h1v1h-1zM28 18h1v1h-1zM28 19h1v1h-1zM25 20h1v1h-1z" fill-opacity="0.6"/><path d="M27 9h1v1h-1zM29 9h1v1h-1zM29 11h1v1h-1zM38 11h1v1h-1zM26 12h1v1h-1zM20 13h1v1h-1zM14 14h1v1h-1zM29 15h1v1h-1zM13 16h1v1h-1zM17 16h1v1h-1zM19 16h1v1h-1z" fill-opacity="0.8"/><path d="M35 10h2v1h-2zM38 10h1v1h-1zM30 11h8v1h-8zM27 12h11v1h-11zM21 13h14v1h-14zM15 14h18v1h-18zM12 15h16v1h-16zM12 16h1v1h-1zM14 16h1v1h-1zM16 16h1v1h-1zM22 16h1v1h-1z"/></g>
<rect x="241.95" y="377.9" width="45.8" height="30.2" fill="none" stroke="#777777" stroke-width="1.1"/>
<g transform="translate(289.2,377.9)" fill="#0a7cca" filter="url(#sb)"><path d="M27 9h1v1h-1zM29 9h1v1h-1zM31 9h3v1h-3zM21 10h1v1h-1zM32 10h3v1h-3zM36 10h1v1h-1zM39 10h2v1h-2zM25 11h1v1h-1zM24 12h1v1h-1zM18 13h1v1h-1zM36 15h1v1h-1zM18 16h1v1h-1zM24 16h2v1h-2zM32 16h1v1h-1zM35 16h1v1h-1zM30 17h1v1h-1zM34 17h1v1h-1zM31 18h1v1h-1zM35 18h1v1h-1zM26 19h1v1h-1zM27 20h1v1h-1z" fill-opacity="0.6"/><path d="M35 9h1v1h-1zM39 9h1v1h-1zM37 10h1v1h-1zM23 12h1v1h-1zM19 13h2v1h-2zM16 14h1v1h-1zM18 14h2v1h-2zM39 14h1v1h-1zM17 15h1v1h-1zM19 15h1v1h-1zM22 16h2v1h-2zM26 16h1v1h-1zM31 16h1v1h-1z" fill-opacity="0.8"/><path d="M38 10h1v1h-1zM28 11h13v1h-13zM25 12h16v1h-16zM21 13h20v1h-20zM17 14h1v1h-1zM20 14h19v1h-19zM18 15h1v1h-1zM20 15h16v1h-16zM37 15h1v1h-1zM27 16h2v1h-2zM30 16h1v1h-1z"/></g>
<rect x="289.2" y="377.9" width="45.8" height="30.2" fill="none" stroke="#777777" stroke-width="1.1"/>
<g transform="translate(336.45,377.9)" fill="#0a7cca" filter="url(#sb)"><path d="M28 9h2v1h-2zM34 9h1v1h-1zM38 9h1v1h-1zM41 9h1v1h-1zM17 10h1v1h-1zM35 10h1v1h-1zM38 10h1v1h-1zM26 11h1v1h-1zM30 11h2v1h-2zM41 11h1v1h-1zM20 12h1v1h-1zM24 12h1v1h-1zM40 12h1v1h-1zM17 13h3v1h-3zM11 14h1v1h-1zM35 14h2v1h-2zM7 15h1v1h-1zM33 15h1v1h-1zM8 16h1v1h-1zM12 16h1v1h-1zM16 16h1v1h-1zM23 16h2v1h-2zM34 16h1v1h-1zM27 17h1v1h-1zM31 17h1v1h-1zM30 18h1v1h-1zM32 18h1v1h-1zM31 19h1v1h-1zM28 20h1v1h-1z" fill-opacity="0.6"/><path d="M30 9h2v1h-2zM37 10h1v1h-1zM40 10h2v1h-2zM40 11h1v1h-1zM20 13h1v1h-1zM8 15h1v1h-1zM31 15h1v1h-1zM7 16h1v1h-1zM18 16h1v1h-1zM20 16h2v1h-2zM32 16h1v1h-1z" fill-opacity="0.8"/><path d="M39 10h1v1h-1zM32 11h8v1h-8zM27 12h13v1h-13zM21 13h18v1h-18zM13 14h22v1h-22zM10 15h21v1h-21zM11 16h1v1h-1zM15 16h1v1h-1zM22 16h1v1h-1z"/></g>
<rect x="336.45" y="377.9" width="45.8" height="30.2" fill="none" stroke="#777777" stroke-width="1.1"/>
<g transform="translate(52.95,409.7)" fill="#0a7cca" filter="url(#sb)"><path d="M32 4h1v1h-1zM39 4h1v1h-1zM32 5h1v1h-1zM38 5h2v1h-2zM27 6h1v1h-1zM25 7h1v1h-1zM38 7h1v1h-1zM14 10h1v1h-1zM16 10h1v1h-1zM11 11h1v1h-1zM13 11h1v1h-1zM10 12h1v1h-1zM13 12h1v1h-1zM33 12h2v1h-2zM11 13h1v1h-1zM30 13h1v1h-1zM8 14h2v1h-2zM29 14h2v1h-2zM27 15h1v1h-1zM7 16h1v1h-1zM9 17h1v1h-1zM23 17h1v1h-1zM23 18h1v1h-1zM5 19h1v1h-1zM17 19h1v1h-1zM21 19h3v1h-3zM4 20h2v1h-2zM7 20h2v1h-2zM16 20h3v1h-3zM22 20h1v1h-1zM5 21h1v1h-1zM7 21h2v1h-2zM12 21h1v1h-1zM15 21h1v1h-1zM4 22h1v1h-1zM7 22h1v1h-1zM10 22h1v1h-1z" fill-opacity="0.6"/><path d="M36 4h2v1h-2zM34 5h1v1h-1zM28 6h1v1h-1zM39 6h1v1h-1zM37 8h1v1h-1zM17 10h1v1h-1zM36 10h1v1h-1zM29 13h1v1h-1zM10 14h1v1h-1zM28 14h1v1h-1zM10 15h1v1h-1zM26 15h1v1h-1zM25 16h1v1h-1zM8 17h1v1h-1zM24 17h1v1h-1zM9 18h1v1h-1zM9 19h1v1h-1zM18 19h3v1h-3zM6 20h1v1h-1zM14 20h1v1h-1zM6 21h1v1h-1zM13 21h2v1h-2z" fill-opacity="0.8"/><path d="M33 5h1v1h-1zM35 5h3v1h-3zM29 6h10v1h-10zM26 7h12v1h-12zM23 8h14v1h-14zM21 9h16v1h-16zM18 10h18v1h-18zM15 11h19v1h-19zM12 12h1v1h-1zM14 12h18v1h-18zM10 13h1v1h-1zM12 13h17v1h-17zM11 14h17v1h-17zM11 15h15v1h-15zM8 16h1v1h-1zM10 16h15v1h-15zM10 17h13v1h-13zM10 18h13v1h-13zM8 19h1v1h-1zM10 19h7v1h-7zM9 20h5v1h-5zM15 20h1v1h-1zM9 21h3v1h-3z"/></g>
<rect x="52.95" y="409.7" width="45.8" height="30.2" fill="none" stroke="#777777" stroke-width="1.1"/>
<g transform="translate(100.2,409.7)" fill="#0a7cca" filter="url(#sb)"><path d="M35 4h1v1h-1zM39 6h1v1h-1zM28 7h1v1h-1zM38 7h1v1h-1zM36 8h1v1h-1zM34 9h1v1h-1zM19 10h2v1h-2zM17 11h1v1h-1zM10 13h1v1h-1zM27 13h1v1h-1zM8 14h1v1h-1zM24 14h2v1h-2zM7 15h1v1h-1zM6 16h1v1h-1zM5 17h1v1h-1zM6 18h1v1h-1zM13 19h1v1h-1zM15 19h1v1h-1zM18 19h1v1h-1zM9 20h1v1h-1zM11 20h1v1h-1zM16 20h1v1h-1zM7 21h1v1h-1zM10 21h1v1h-1z" fill-opacity="0.6"/><path d="M39 4h1v1h-1zM38 5h2v1h-2zM31 6h1v1h-1zM38 6h1v1h-1zM12 13h1v1h-1zM26 13h1v1h-1zM9 14h1v1h-1zM9 15h1v1h-1zM22 16h1v1h-1zM7 17h1v1h-1zM18 17h1v1h-1zM7 18h1v1h-1zM19 18h2v1h-2zM19 19h1v1h-1zM10 20h1v1h-1zM12 20h1v1h-1zM8 21h1v1h-1z" fill-opacity="0.8"/><path d="M38 4h1v1h-1zM33 5h5v1h-5zM32 6h6v1h-6zM29 7h8v1h-8zM26 8h10v1h-10zM23 9h11v1h-11zM21 10h12v1h-12zM19 11h12v1h-12zM15 12h14v1h-14zM13 13h13v1h-13zM10 14h14v1h-14zM10 15h14v1h-14zM7 16h15v1h-15zM8 17h10v1h-10zM19 17h2v1h-2zM8 18h11v1h-11zM5 19h8v1h-8zM14 19h1v1h-1zM4 20h5v1h-5zM4 21h3v1h-3zM9 21h1v1h-1zM4 22h1v1h-1z"/></g>
<rect x="100.2" y="409.7" width="45.8" height="30.2" fill="none" stroke="#777777" stroke-width="1.1"/>
<g transform="translate(147.45,409.7)" fill="#0a7cca" filter="url(#sb)"><path d="M34 4h1v1h-1zM37 4h1v1h-1zM39 4h1v1h-1zM32 5h2v1h-2zM38 5h1v1h-1zM27 8h1v1h-1zM37 8h1v1h-1zM36 9h1v1h-1zM23 11h1v1h-1zM33 11h1v1h-1zM19 13h1v1h-1zM18 14h1v1h-1zM18 16h1v1h-1zM28 16h1v1h-1zM28 17h1v1h-1zM27 19h1v1h-1zM15 20h1v1h-1zM17 20h1v1h-1zM24 20h1v1h-1zM13 21h2v1h-2zM23 21h1v1h-1zM12 22h1v1h-1zM15 22h2v1h-2z" fill-opacity="0.6"/><path d="M34 5h1v1h-1zM37 5h1v1h-1zM37 7h1v1h-1zM20 12h2v1h-2zM32 12h1v1h-1zM30 14h1v1h-1zM29 15h1v1h-1zM18 17h1v1h-1zM27 17h1v1h-1zM16 18h1v1h-1zM17 19h1v1h-1zM12 20h1v1h-1zM19 20h1v1h-1zM15 21h2v1h-2zM18 21h2v1h-2z" fill-opacity="0.8"/><path d="M38 4h1v1h-1zM35 5h2v1h-2zM31 6h8v1h-8zM29 7h8v1h-8zM28 8h9v1h-9zM26 9h10v1h-10zM25 10h10v1h-10zM24 11h9v1h-9zM22 12h10v1h-10zM20 13h11v1h-11zM19 14h11v1h-11zM19 15h10v1h-10zM19 16h9v1h-9zM19 17h8v1h-8zM18 18h9v1h-9zM18 19h8v1h-8zM16 20h1v1h-1zM20 20h4v1h-4zM25 20h1v1h-1zM20 21h3v1h-3z"/></g>
<rect x="147.45" y="409.7" width="45.8" height="30.2" fill="none" stroke="#777777" stroke-width="1.1"/>
<g transform="translate(194.7,409.7)" fill="#0a7cca" filter="url(#sb)"><path d="M27 4h1v1h-1zM30 4h1v1h-1zM29 5h1v1h-1zM30 6h1v1h-1zM24 7h1v1h-1zM29 7h1v1h-1zM23 8h1v1h-1zM20 9h2v1h-2zM31 9h1v1h-1zM18 10h1v1h-1zM16 11h2v1h-2zM28 11h1v1h-1zM18 12h1v1h-1zM21 12h1v1h-1zM15 13h1v1h-1zM18 13h1v1h-1zM26 13h2v1h-2zM26 15h1v1h-1zM29 15h1v1h-1zM24 17h2v1h-2zM26 19h1v1h-1zM23 21h1v1h-1zM21 22h1v1h-1z" fill-opacity="0.6"/><path d="M23 9h1v1h-1zM20 10h1v1h-1zM22 10h1v1h-1zM28 10h1v1h-1zM31 10h1v1h-1zM31 11h1v1h-1zM30 12h1v1h-1zM21 13h1v1h-1zM25 16h1v1h-1zM20 22h1v1h-1z" fill-opacity="0.8"/><path d="M29 4h1v1h-1zM27 5h2v1h-2zM26 6h4v1h-4zM25 7h4v1h-4zM24 8h5v1h-5zM24 9h5v1h-5zM23 10h5v1h-5zM22 11h6v1h-6zM22 12h5v1h-5zM22 13h4v1h-4zM21 14h5v1h-5zM21 15h5v1h-5zM21 16h4v1h-4zM21 17h3v1h-3zM21 18h3v1h-3zM21 19h3v1h-3zM20 20h4v1h-4zM21 21h2v1h-2z"/></g>
<rect x="194.7" y="409.7" width="45.8" height="30.2" fill="none" stroke="#777777" stroke-width="1.1"/>
<path d="M254.77 439.9V439.75H255.37V439.68H255.97V439.62H256.56V439.56H257.16V439.47H257.76V439.37H258.35V439.26H258.95V439.16H259.55V439.06H260.14V438.96H260.74V438.83H261.34V438.49H261.93V438.09H262.53V437.7H263.13V437.31H263.72V436.91H264.32V436.32H264.91V435.08H265.51V433.77H266.11V432.45H266.7V430.41H267.3V426.61H267.9V422.82H268.49V419.48H269.09V416.19H269.69V413.47H270.28V411.8H270.88V410.3H271.48V411.23H272.07V413.39H272.67V416.17H273.27V420.05H273.86V423.97H274.46V427.81H275.06V431.62H275.65V434.45H276.25V435.94H276.85V437.42H277.44V438.51H278.04V438.96H278.63V439.39H279.23V439.9Z" fill="#000000"/>
<rect x="241.95" y="409.7" width="45.8" height="30.2" fill="none" stroke="#777777" stroke-width="1.1"/>
<g transform="translate(289.2,409.7)" fill="#0a7cca" filter="url(#sb)"><path d="M32 4h1v1h-1zM40 4h1v1h-1zM29 5h1v1h-1zM34 5h1v1h-1zM29 6h1v1h-1zM26 8h1v1h-1zM24 9h1v1h-1zM22 10h1v1h-1zM17 12h3v1h-3zM39 13h1v1h-1zM18 14h2v1h-2zM18 15h1v1h-1zM36 15h3v1h-3zM16 16h2v1h-2zM36 16h2v1h-2zM19 17h2v1h-2zM16 18h3v1h-3zM22 18h1v1h-1zM37 18h1v1h-1zM18 19h3v1h-3zM24 19h1v1h-1zM35 19h1v1h-1zM21 20h1v1h-1zM24 20h1v1h-1zM32 20h1v1h-1zM20 21h2v1h-2zM26 21h1v1h-1zM28 21h1v1h-1zM22 22h1v1h-1zM24 22h1v1h-1zM26 22h1v1h-1z" fill-opacity="0.6"/><path d="M38 4h2v1h-2zM35 5h1v1h-1zM28 7h2v1h-2zM27 8h1v1h-1zM23 9h1v1h-1zM40 10h1v1h-1zM39 12h1v1h-1zM17 13h1v1h-1zM19 13h1v1h-1zM38 14h1v1h-1zM21 16h1v1h-1zM35 16h1v1h-1zM18 17h1v1h-1zM22 17h1v1h-1zM34 17h2v1h-2zM33 18h1v1h-1zM23 19h1v1h-1zM33 19h2v1h-2zM22 20h1v1h-1zM27 20h1v1h-1zM31 20h1v1h-1zM24 21h1v1h-1zM29 21h1v1h-1zM32 21h1v1h-1z" fill-opacity="0.8"/><path d="M36 5h5v1h-5zM31 6h10v1h-10zM30 7h11v1h-11zM25 8h1v1h-1zM28 8h13v1h-13zM25 9h16v1h-16zM23 10h17v1h-17zM21 11h19v1h-19zM20 12h19v1h-19zM20 13h1v1h-1zM22 13h17v1h-17zM20 14h18v1h-18zM20 15h16v1h-16zM20 16h1v1h-1zM22 16h13v1h-13zM21 17h1v1h-1zM23 17h11v1h-11zM23 18h10v1h-10zM34 18h1v1h-1zM25 19h8v1h-8zM23 20h1v1h-1zM25 20h2v1h-2zM28 20h3v1h-3zM22 21h1v1h-1zM25 21h1v1h-1zM27 21h1v1h-1zM30 21h1v1h-1z"/></g>
<rect x="289.2" y="409.7" width="45.8" height="30.2" fill="none" stroke="#777777" stroke-width="1.1"/>
<g transform="translate(336.45,409.7)" fill="#0a7cca" filter="url(#sb)"><path d="M40 4h1v1h-1zM32 6h1v1h-1zM40 6h1v1h-1zM29 7h2v1h-2zM40 7h1v1h-1zM39 9h1v1h-1zM20 10h1v1h-1zM38 10h2v1h-2zM18 11h3v1h-3zM35 12h1v1h-1zM15 13h1v1h-1zM34 13h1v1h-1zM11 14h2v1h-2zM17 14h1v1h-1zM10 15h3v1h-3zM10 16h3v1h-3zM7 17h1v1h-1zM13 17h1v1h-1zM29 17h1v1h-1zM28 18h1v1h-1zM7 19h1v1h-1zM12 19h1v1h-1zM14 19h1v1h-1zM10 20h1v1h-1zM13 20h1v1h-1zM15 20h2v1h-2zM26 20h2v1h-2zM7 21h1v1h-1zM15 21h1v1h-1zM19 21h2v1h-2zM22 21h1v1h-1zM18 22h1v1h-1z" fill-opacity="0.6"/><path d="M41 4h1v1h-1zM36 5h1v1h-1zM40 5h1v1h-1zM41 6h1v1h-1zM26 9h1v1h-1zM37 11h1v1h-1zM16 12h3v1h-3zM14 13h1v1h-1zM16 13h2v1h-2zM14 14h1v1h-1zM17 15h1v1h-1zM13 16h4v1h-4zM31 16h1v1h-1zM10 17h1v1h-1zM12 17h1v1h-1zM14 17h1v1h-1zM10 18h1v1h-1zM14 18h1v1h-1zM27 18h1v1h-1zM29 18h1v1h-1zM17 19h2v1h-2zM21 19h1v1h-1zM24 19h1v1h-1zM28 19h1v1h-1zM12 20h1v1h-1zM20 20h1v1h-1zM25 20h1v1h-1zM10 21h1v1h-1zM12 21h1v1h-1zM16 21h2v1h-2zM21 21h1v1h-1zM25 21h1v1h-1zM15 22h1v1h-1z" fill-opacity="0.8"/><path d="M39 4h1v1h-1zM37 5h3v1h-3zM33 6h7v1h-7zM31 7h9v1h-9zM28 8h12v1h-12zM27 9h12v1h-12zM24 10h14v1h-14zM16 11h1v1h-1zM21 11h16v1h-16zM19 12h16v1h-16zM18 13h16v1h-16zM15 14h2v1h-2zM18 14h15v1h-15zM13 15h4v1h-4zM18 15h13v1h-13zM17 16h14v1h-14zM15 17h14v1h-14zM12 18h2v1h-2zM15 18h12v1h-12zM11 19h1v1h-1zM13 19h1v1h-1zM15 19h2v1h-2zM19 19h2v1h-2zM22 19h2v1h-2zM25 19h1v1h-1zM27 19h1v1h-1zM11 20h1v1h-1zM17 20h3v1h-3zM21 20h3v1h-3zM8 21h1v1h-1zM14 21h1v1h-1z"/></g>
<rect x="336.45" y="409.7" width="45.8" height="30.2" fill="none" stroke="#777777" stroke-width="1.1"/>
<g transform="translate(52.95,441.5)" fill="#0a7cca" filter="url(#sb)"><path d="M19 4h1v1h-1zM21 4h1v1h-1zM38 4h2v1h-2zM13 5h2v1h-2zM11 6h1v1h-1zM13 6h1v1h-1zM38 6h1v1h-1zM39 7h1v1h-1zM5 8h1v1h-1zM9 8h1v1h-1zM11 8h1v1h-1zM6 9h1v1h-1zM37 9h1v1h-1zM7 10h1v1h-1zM36 10h1v1h-1zM4 11h1v1h-1zM6 11h3v1h-3zM35 11h1v1h-1zM8 12h1v1h-1zM32 12h1v1h-1zM6 13h2v1h-2zM30 13h1v1h-1zM32 13h1v1h-1zM8 14h1v1h-1zM12 14h1v1h-1zM28 14h1v1h-1zM30 14h2v1h-2zM4 15h3v1h-3zM9 15h1v1h-1zM11 15h1v1h-1zM13 15h1v1h-1zM25 15h2v1h-2zM5 16h1v1h-1zM7 16h1v1h-1zM11 16h1v1h-1zM14 16h1v1h-1zM17 16h1v1h-1zM20 16h1v1h-1zM24 16h2v1h-2zM8 17h1v1h-1zM11 17h1v1h-1zM13 17h1v1h-1zM22 17h1v1h-1zM26 17h1v1h-1zM10 18h2v1h-2zM14 18h2v1h-2zM18 18h1v1h-1zM22 18h1v1h-1zM19 19h2v1h-2z" fill-opacity="0.6"/><path d="M38 3h1v1h-1zM22 4h1v1h-1zM18 5h1v1h-1zM38 5h2v1h-2zM16 6h1v1h-1zM13 7h1v1h-1zM37 7h1v1h-1zM8 8h1v1h-1zM11 9h1v1h-1zM9 11h1v1h-1zM9 12h1v1h-1zM29 14h1v1h-1zM23 15h1v1h-1zM8 16h1v1h-1zM18 16h1v1h-1zM17 17h1v1h-1zM20 17h1v1h-1zM13 18h1v1h-1zM19 18h1v1h-1z" fill-opacity="0.8"/><path d="M28 3h10v1h-10zM23 4h15v1h-15zM19 5h19v1h-19zM17 6h21v1h-21zM14 7h23v1h-23zM12 8h25v1h-25zM10 9h1v1h-1zM12 9h25v1h-25zM8 10h1v1h-1zM10 10h26v1h-26zM10 11h24v1h-24zM10 12h22v1h-22zM9 13h21v1h-21zM9 14h3v1h-3zM13 14h15v1h-15zM10 15h1v1h-1zM12 15h1v1h-1zM15 15h8v1h-8zM24 15h1v1h-1zM13 16h1v1h-1zM16 16h1v1h-1zM19 16h1v1h-1zM21 16h3v1h-3z"/></g>
<rect x="52.95" y="441.5" width="45.8" height="30.2" fill="none" stroke="#777777" stroke-width="1.1"/>
<g transform="translate(100.2,441.5)" fill="#0a7cca" filter="url(#sb)"><path d="M38 3h2v1h-2zM21 4h1v1h-1zM9 5h2v1h-2zM5 6h1v1h-1zM14 6h1v1h-1zM16 6h2v1h-2zM9 7h1v1h-1zM11 7h1v1h-1zM13 7h1v1h-1zM37 7h2v1h-2zM4 8h2v1h-2zM7 8h1v1h-1zM9 8h1v1h-1zM35 9h1v1h-1zM34 10h2v1h-2zM5 11h1v1h-1zM35 11h1v1h-1zM4 12h1v1h-1zM31 12h1v1h-1zM6 14h1v1h-1zM5 15h1v1h-1zM9 15h2v1h-2zM12 15h3v1h-3zM26 15h1v1h-1zM4 16h1v1h-1zM6 16h2v1h-2zM11 16h2v1h-2zM17 16h2v1h-2zM21 16h1v1h-1zM6 17h2v1h-2zM13 17h1v1h-1zM16 17h1v1h-1zM19 17h1v1h-1zM21 17h1v1h-1zM24 17h1v1h-1zM8 18h3v1h-3zM12 18h1v1h-1zM14 18h1v1h-1zM19 18h1v1h-1zM9 19h1v1h-1zM19 19h1v1h-1z" fill-opacity="0.6"/><path d="M20 4h1v1h-1zM39 4h1v1h-1zM18 5h1v1h-1zM39 5h1v1h-1zM18 6h1v1h-1zM15 7h1v1h-1zM10 8h1v1h-1zM36 8h1v1h-1zM8 9h1v1h-1zM36 9h1v1h-1zM5 10h1v1h-1zM6 11h1v1h-1zM32 11h1v1h-1zM4 13h1v1h-1zM6 13h3v1h-3zM29 13h2v1h-2zM9 14h1v1h-1zM30 14h1v1h-1zM4 15h1v1h-1zM6 15h1v1h-1zM11 15h1v1h-1zM15 15h1v1h-1zM18 15h1v1h-1zM22 15h3v1h-3zM5 16h1v1h-1zM10 16h1v1h-1zM15 16h1v1h-1zM23 16h1v1h-1zM20 17h1v1h-1zM11 18h1v1h-1zM21 18h1v1h-1z" fill-opacity="0.8"/><path d="M27 3h11v1h-11zM22 4h17v1h-17zM19 5h20v1h-20zM15 6h1v1h-1zM19 6h19v1h-19zM10 7h1v1h-1zM12 7h1v1h-1zM14 7h1v1h-1zM16 7h21v1h-21zM8 8h1v1h-1zM11 8h25v1h-25zM6 9h2v1h-2zM9 9h26v1h-26zM6 10h28v1h-28zM4 11h1v1h-1zM7 11h25v1h-25zM6 12h25v1h-25zM5 13h1v1h-1zM9 13h20v1h-20zM5 14h1v1h-1zM7 14h2v1h-2zM12 14h16v1h-16zM8 15h1v1h-1zM16 15h2v1h-2zM19 15h3v1h-3zM14 16h1v1h-1zM19 16h2v1h-2zM22 16h1v1h-1z"/></g>
<rect x="100.2" y="441.5" width="45.8" height="30.2" fill="none" stroke="#777777" stroke-width="1.1"/>
<g transform="translate(147.45,441.5)" fill="#0a7cca" filter="url(#sb)"><path d="M39 4h1v1h-1zM20 5h1v1h-1zM20 6h2v1h-2zM18 8h1v1h-1zM36 8h2v1h-2zM35 9h1v1h-1zM37 9h1v1h-1zM16 10h2v1h-2zM36 10h1v1h-1zM12 11h1v1h-1zM35 11h1v1h-1zM15 12h1v1h-1zM12 13h1v1h-1zM15 13h1v1h-1zM17 13h1v1h-1zM32 13h1v1h-1zM34 13h1v1h-1zM12 14h1v1h-1zM15 14h2v1h-2zM18 14h1v1h-1zM31 14h1v1h-1zM13 15h2v1h-2zM16 15h1v1h-1zM20 15h1v1h-1zM22 15h1v1h-1zM15 16h3v1h-3zM19 16h2v1h-2zM23 17h1v1h-1zM25 17h1v1h-1zM27 17h1v1h-1zM19 18h2v1h-2zM25 18h1v1h-1zM27 18h1v1h-1zM25 19h1v1h-1zM27 19h1v1h-1z" fill-opacity="0.6"/><path d="M37 3h1v1h-1zM23 5h1v1h-1zM22 6h2v1h-2zM38 6h1v1h-1zM19 7h1v1h-1zM16 9h1v1h-1zM18 9h1v1h-1zM36 9h1v1h-1zM16 13h1v1h-1zM31 13h1v1h-1zM28 15h1v1h-1zM21 16h1v1h-1zM25 16h1v1h-1zM29 16h1v1h-1zM20 17h1v1h-1zM26 17h1v1h-1zM28 17h1v1h-1z" fill-opacity="0.8"/><path d="M29 3h8v1h-8zM25 4h14v1h-14zM24 5h15v1h-15zM24 6h14v1h-14zM20 7h18v1h-18zM19 8h17v1h-17zM19 9h16v1h-16zM18 10h18v1h-18zM18 11h17v1h-17zM18 12h16v1h-16zM19 13h12v1h-12zM19 14h12v1h-12zM21 15h1v1h-1zM23 15h5v1h-5zM29 15h1v1h-1zM22 16h3v1h-3zM26 16h3v1h-3zM22 18h1v1h-1zM24 18h1v1h-1z"/></g>
<rect x="147.45" y="441.5" width="45.8" height="30.2" fill="none" stroke="#777777" stroke-width="1.1"/>
<g transform="translate(194.7,441.5)" fill="#0a7cca" filter="url(#sb)"><path d="M20 6h1v1h-1zM30 6h2v1h-2zM17 7h2v1h-2zM30 7h1v1h-1zM20 8h1v1h-1zM29 8h1v1h-1zM18 9h1v1h-1zM20 9h1v1h-1zM18 10h1v1h-1zM20 10h1v1h-1zM31 10h1v1h-1zM28 11h1v1h-1zM15 12h2v1h-2zM20 12h1v1h-1zM27 12h1v1h-1zM31 12h1v1h-1zM20 15h1v1h-1zM29 15h1v1h-1zM22 17h1v1h-1zM24 18h1v1h-1z" fill-opacity="0.6"/><path d="M30 4h1v1h-1zM29 7h1v1h-1zM31 9h1v1h-1zM28 10h1v1h-1zM20 11h1v1h-1zM27 13h1v1h-1zM21 16h1v1h-1zM21 17h1v1h-1zM23 17h1v1h-1zM21 18h2v1h-2zM23 19h1v1h-1z" fill-opacity="0.8"/><path d="M25 3h5v1h-5zM23 4h7v1h-7zM22 5h8v1h-8zM22 6h7v1h-7zM21 7h8v1h-8zM21 8h8v1h-8zM21 9h8v1h-8zM21 10h7v1h-7zM21 11h7v1h-7zM21 12h6v1h-6zM21 13h6v1h-6zM21 14h6v1h-6zM21 15h5v1h-5zM22 16h4v1h-4zM24 17h1v1h-1zM23 18h1v1h-1z"/></g>
<rect x="194.7" y="441.5" width="45.8" height="30.2" fill="none" stroke="#777777" stroke-width="1.1"/>
<g transform="translate(241.95,441.5)" fill="#0a7cca" filter="url(#sb)"><path d="M21 4h1v1h-1zM26 4h1v1h-1zM18 5h1v1h-1zM20 5h2v1h-2zM15 6h1v1h-1zM19 6h3v1h-3zM12 8h1v1h-1zM15 8h1v1h-1zM36 8h1v1h-1zM38 8h1v1h-1zM13 9h1v1h-1zM12 10h1v1h-1zM36 10h1v1h-1zM35 11h1v1h-1zM12 12h1v1h-1zM31 14h1v1h-1zM11 15h1v1h-1zM13 15h1v1h-1zM18 15h1v1h-1zM30 15h1v1h-1zM18 16h2v1h-2zM23 16h1v1h-1zM15 17h1v1h-1zM17 17h1v1h-1zM19 17h1v1h-1zM23 17h1v1h-1zM25 17h3v1h-3zM16 18h2v1h-2zM23 18h1v1h-1zM26 18h1v1h-1zM17 19h1v1h-1zM20 19h1v1h-1z" fill-opacity="0.6"/><path d="M30 3h1v1h-1zM38 3h1v1h-1zM25 4h1v1h-1zM38 4h1v1h-1zM38 5h1v1h-1zM37 6h1v1h-1zM15 7h1v1h-1zM18 7h1v1h-1zM14 9h1v1h-1zM35 10h1v1h-1zM13 12h2v1h-2zM12 13h1v1h-1zM15 13h1v1h-1zM19 14h1v1h-1zM12 15h1v1h-1zM15 15h1v1h-1zM17 15h1v1h-1zM26 15h1v1h-1zM13 16h1v1h-1zM15 16h1v1h-1zM27 16h2v1h-2zM24 17h1v1h-1zM19 18h1v1h-1zM21 18h1v1h-1zM25 18h1v1h-1z" fill-opacity="0.8"/><path d="M29 3h1v1h-1zM31 3h7v1h-7zM27 4h11v1h-11zM23 5h15v1h-15zM22 6h15v1h-15zM17 7h1v1h-1zM19 7h18v1h-18zM16 8h20v1h-20zM15 9h21v1h-21zM13 10h22v1h-22zM13 11h21v1h-21zM15 12h18v1h-18zM13 13h2v1h-2zM16 13h17v1h-17zM13 14h2v1h-2zM16 14h3v1h-3zM20 14h11v1h-11zM19 15h7v1h-7zM27 15h2v1h-2zM20 16h3v1h-3zM24 16h3v1h-3z"/></g>
<rect x="241.95" y="441.5" width="45.8" height="30.2" fill="none" stroke="#777777" stroke-width="1.1"/>
<path d="M311.41 471.7V471.11H312V470.79H312.59V470.45H313.19V470.1H313.78V469.75H314.37V468.92H314.96V467.65H315.55V466.39H316.14V465.12H316.73V463.26H317.32V460.97H317.91V458.68H318.5V456.13H319.1V453.29H319.69V450.47H320.28V448.54H320.87V447.2H321.46V445.89H322.05V445.43H322.64V445.47H323.23V446.87H323.82V449.06H324.41V451.54H325.01V454.69H325.6V457.85H326.19V460.64H326.78V463.23H327.37V465.73H327.96V467.82H328.55V469.8H329.14V470.86H329.73V471.7Z" fill="#1a4a62"/>
<rect x="289.2" y="441.5" width="45.8" height="30.2" fill="none" stroke="#777777" stroke-width="1.1"/>
<g transform="translate(336.45,441.5)" fill="#0a7cca" filter="url(#sb)"><path d="M29 3h3v1h-3zM40 4h2v1h-2zM24 5h1v1h-1zM40 5h2v1h-2zM18 6h2v1h-2zM12 7h2v1h-2zM16 7h1v1h-1zM40 7h1v1h-1zM16 8h2v1h-2zM15 9h1v1h-1zM39 9h1v1h-1zM7 10h1v1h-1zM13 10h1v1h-1zM11 11h1v1h-1zM10 12h3v1h-3zM12 13h1v1h-1zM14 13h1v1h-1zM11 14h1v1h-1zM14 14h2v1h-2zM18 14h1v1h-1zM33 14h1v1h-1zM7 15h1v1h-1zM10 15h2v1h-2zM18 15h2v1h-2zM11 16h1v1h-1zM17 16h1v1h-1zM24 16h2v1h-2zM17 17h2v1h-2zM28 17h2v1h-2zM31 17h1v1h-1zM7 18h1v1h-1zM13 18h1v1h-1zM15 18h1v1h-1zM18 18h1v1h-1zM25 18h1v1h-1zM28 18h1v1h-1zM21 19h1v1h-1zM25 19h1v1h-1z" fill-opacity="0.6"/><path d="M32 3h1v1h-1zM40 3h1v1h-1zM25 4h1v1h-1zM22 6h1v1h-1zM18 7h1v1h-1zM20 7h1v1h-1zM41 7h1v1h-1zM15 8h1v1h-1zM11 10h1v1h-1zM37 10h2v1h-2zM14 11h1v1h-1zM13 12h1v1h-1zM35 12h1v1h-1zM10 13h2v1h-2zM13 14h1v1h-1zM20 14h1v1h-1zM22 14h1v1h-1zM32 14h1v1h-1zM14 15h2v1h-2zM20 15h1v1h-1zM23 15h1v1h-1zM25 15h1v1h-1zM30 15h2v1h-2zM13 16h1v1h-1zM19 16h5v1h-5zM27 16h1v1h-1zM29 16h3v1h-3zM26 17h2v1h-2zM21 18h1v1h-1zM24 18h1v1h-1z" fill-opacity="0.8"/><path d="M33 3h7v1h-7zM27 4h13v1h-13zM23 5h1v1h-1zM25 5h15v1h-15zM23 6h17v1h-17zM19 7h1v1h-1zM21 7h19v1h-19zM14 8h1v1h-1zM18 8h22v1h-22zM13 9h2v1h-2zM16 9h23v1h-23zM8 10h1v1h-1zM10 10h1v1h-1zM12 10h1v1h-1zM14 10h23v1h-23zM12 11h1v1h-1zM15 11h22v1h-22zM15 12h20v1h-20zM36 12h1v1h-1zM13 13h1v1h-1zM15 13h19v1h-19zM12 14h1v1h-1zM16 14h1v1h-1zM19 14h1v1h-1zM21 14h1v1h-1zM23 14h9v1h-9zM17 15h1v1h-1zM21 15h2v1h-2zM24 15h1v1h-1zM26 15h4v1h-4zM26 16h1v1h-1zM28 16h1v1h-1z"/></g>
<rect x="336.45" y="441.5" width="45.8" height="30.2" fill="none" stroke="#777777" stroke-width="1.1"/>
<g transform="translate(52.95,473.3)" fill="#0a7cca" filter="url(#sb)"><path d="M32 3h1v1h-1zM34 3h1v1h-1zM26 4h1v1h-1zM38 5h1v1h-1zM19 6h2v1h-2zM38 6h1v1h-1zM18 7h1v1h-1zM15 8h1v1h-1zM38 8h1v1h-1zM10 9h4v1h-4zM36 9h1v1h-1zM35 11h1v1h-1zM8 12h1v1h-1zM10 12h1v1h-1zM36 12h1v1h-1zM5 13h1v1h-1zM8 13h1v1h-1zM9 14h1v1h-1zM29 14h2v1h-2zM9 15h1v1h-1zM31 15h1v1h-1zM6 16h2v1h-2zM27 16h3v1h-3zM6 17h4v1h-4zM12 17h1v1h-1zM24 17h2v1h-2zM28 17h1v1h-1zM6 18h1v1h-1zM8 18h1v1h-1zM15 18h1v1h-1zM18 18h1v1h-1zM23 18h2v1h-2zM27 18h1v1h-1zM11 19h1v1h-1zM23 19h3v1h-3zM4 20h1v1h-1zM10 20h2v1h-2zM15 20h1v1h-1zM21 20h1v1h-1zM24 20h1v1h-1zM26 20h1v1h-1zM4 21h1v1h-1zM10 21h1v1h-1zM14 21h5v1h-5zM21 21h1v1h-1zM23 21h2v1h-2zM8 22h1v1h-1zM10 22h1v1h-1zM12 22h2v1h-2zM16 22h1v1h-1zM21 22h1v1h-1zM9 23h1v1h-1zM11 23h1v1h-1zM16 23h1v1h-1zM20 23h1v1h-1zM22 23h1v1h-1zM6 24h1v1h-1zM12 24h3v1h-3zM11 25h1v1h-1zM16 25h1v1h-1z" fill-opacity="0.6"/><path d="M31 3h1v1h-1zM36 3h1v1h-1zM39 3h1v1h-1zM25 4h1v1h-1zM39 4h1v1h-1zM24 5h1v1h-1zM11 10h2v1h-2zM8 11h1v1h-1zM34 11h1v1h-1zM11 12h1v1h-1zM32 12h1v1h-1zM31 13h1v1h-1zM8 14h1v1h-1zM7 15h1v1h-1zM8 16h1v1h-1zM5 18h1v1h-1zM10 18h2v1h-2zM22 18h1v1h-1zM25 18h1v1h-1zM22 19h1v1h-1zM26 19h1v1h-1zM12 20h2v1h-2zM20 20h1v1h-1zM9 21h1v1h-1zM19 21h2v1h-2zM15 22h1v1h-1zM18 22h2v1h-2zM12 23h1v1h-1zM15 23h1v1h-1z" fill-opacity="0.8"/><path d="M33 3h1v1h-1zM37 3h1v1h-1zM27 4h12v1h-12zM23 5h1v1h-1zM25 5h13v1h-13zM22 6h16v1h-16zM19 7h19v1h-19zM16 8h21v1h-21zM14 9h22v1h-22zM13 10h22v1h-22zM10 11h24v1h-24zM12 12h20v1h-20zM10 13h21v1h-21zM10 14h18v1h-18zM10 15h18v1h-18zM9 16h18v1h-18zM10 17h2v1h-2zM13 17h11v1h-11zM13 18h2v1h-2zM16 18h2v1h-2zM19 18h3v1h-3zM9 19h2v1h-2zM12 19h10v1h-10zM14 20h1v1h-1zM16 20h2v1h-2zM19 20h1v1h-1zM23 20h1v1h-1zM11 21h1v1h-1zM13 21h1v1h-1zM11 22h1v1h-1z"/></g>
<rect x="52.95" y="473.3" width="45.8" height="30.2" fill="none" stroke="#777777" stroke-width="1.1"/>
<g transform="translate(100.2,473.3)" fill="#0a7cca" filter="url(#sb)"><path d="M34 3h1v1h-1zM36 3h1v1h-1zM38 3h1v1h-1zM23 4h4v1h-4zM39 4h1v1h-1zM24 5h1v1h-1zM39 5h1v1h-1zM38 6h1v1h-1zM14 8h2v1h-2zM36 8h1v1h-1zM38 8h1v1h-1zM10 9h1v1h-1zM13 9h1v1h-1zM10 10h1v1h-1zM34 10h1v1h-1zM6 11h1v1h-1zM32 11h2v1h-2zM5 13h2v1h-2zM6 14h1v1h-1zM29 14h1v1h-1zM27 15h2v1h-2zM24 16h1v1h-1zM27 16h1v1h-1zM4 17h1v1h-1zM6 17h1v1h-1zM12 17h1v1h-1zM17 17h1v1h-1zM25 17h1v1h-1zM5 18h1v1h-1zM7 18h1v1h-1zM9 18h1v1h-1zM12 18h1v1h-1zM15 18h1v1h-1zM4 19h2v1h-2zM21 19h1v1h-1zM24 19h4v1h-4zM4 20h1v1h-1zM6 20h1v1h-1zM9 20h1v1h-1zM13 20h2v1h-2zM17 20h1v1h-1zM22 20h1v1h-1zM25 20h1v1h-1zM4 21h1v1h-1zM7 21h2v1h-2zM13 21h1v1h-1zM19 21h1v1h-1zM21 21h1v1h-1zM6 22h1v1h-1zM11 22h1v1h-1zM15 22h1v1h-1zM20 22h1v1h-1zM8 23h1v1h-1zM12 23h1v1h-1zM14 23h1v1h-1zM16 23h4v1h-4zM5 24h1v1h-1zM10 24h1v1h-1zM12 25h1v1h-1zM14 25h1v1h-1z" fill-opacity="0.6"/><path d="M31 3h1v1h-1zM37 3h1v1h-1zM28 4h1v1h-1zM22 5h1v1h-1zM38 5h1v1h-1zM21 6h1v1h-1zM37 7h1v1h-1zM17 8h1v1h-1zM37 8h1v1h-1zM9 10h1v1h-1zM11 10h1v1h-1zM34 11h1v1h-1zM8 12h1v1h-1zM31 12h1v1h-1zM4 13h1v1h-1zM30 13h1v1h-1zM27 14h2v1h-2zM6 15h1v1h-1zM4 16h2v1h-2zM23 16h1v1h-1zM5 17h1v1h-1zM11 17h1v1h-1zM24 17h1v1h-1zM4 18h1v1h-1zM8 18h1v1h-1zM11 18h1v1h-1zM17 18h1v1h-1zM6 19h1v1h-1zM8 19h2v1h-2zM14 19h2v1h-2zM17 19h1v1h-1zM12 20h1v1h-1zM19 20h3v1h-3zM6 21h1v1h-1zM9 21h1v1h-1zM11 21h1v1h-1zM15 21h1v1h-1zM17 21h2v1h-2zM20 21h1v1h-1zM7 22h1v1h-1zM9 22h1v1h-1zM12 22h1v1h-1zM14 22h1v1h-1zM6 23h1v1h-1zM9 24h1v1h-1z" fill-opacity="0.8"/><path d="M32 3h1v1h-1zM35 3h1v1h-1zM39 3h1v1h-1zM27 4h1v1h-1zM29 4h10v1h-10zM23 5h1v1h-1zM25 5h13v1h-13zM22 6h16v1h-16zM19 7h18v1h-18zM18 8h18v1h-18zM11 9h2v1h-2zM14 9h22v1h-22zM12 10h22v1h-22zM5 11h1v1h-1zM7 11h25v1h-25zM7 12h1v1h-1zM9 12h22v1h-22zM7 13h22v1h-22zM7 14h20v1h-20zM5 15h1v1h-1zM7 15h20v1h-20zM6 16h2v1h-2zM9 16h14v1h-14zM25 16h2v1h-2zM8 17h3v1h-3zM13 17h4v1h-4zM18 17h6v1h-6zM6 18h1v1h-1zM13 18h1v1h-1zM16 18h1v1h-1zM18 18h4v1h-4zM24 18h1v1h-1zM10 19h4v1h-4zM16 19h1v1h-1zM18 19h3v1h-3zM22 19h1v1h-1zM8 20h1v1h-1zM15 20h2v1h-2zM18 20h1v1h-1zM12 21h1v1h-1zM19 22h1v1h-1z"/></g>
<rect x="100.2" y="473.3" width="45.8" height="30.2" fill="none" stroke="#777777" stroke-width="1.1"/>
<g transform="translate(147.45,473.3)" fill="#0a7cca" filter="url(#sb)"><path d="M36 3h1v1h-1zM38 3h2v1h-2zM26 5h1v1h-1zM24 7h1v1h-1zM23 8h1v1h-1zM37 8h1v1h-1zM20 9h1v1h-1zM18 10h1v1h-1zM20 10h1v1h-1zM16 12h1v1h-1zM18 12h1v1h-1zM16 13h1v1h-1zM18 13h1v1h-1zM32 13h1v1h-1zM18 14h1v1h-1zM17 15h1v1h-1zM12 16h1v1h-1zM16 16h2v1h-2zM15 17h2v1h-2zM13 18h1v1h-1zM15 18h1v1h-1zM17 18h3v1h-3zM27 18h1v1h-1zM15 19h1v1h-1zM18 19h1v1h-1zM28 19h1v1h-1zM15 20h2v1h-2zM18 20h3v1h-3zM27 20h1v1h-1zM16 21h1v1h-1zM20 21h1v1h-1zM26 22h1v1h-1zM21 23h1v1h-1zM24 23h1v1h-1zM14 24h1v1h-1zM22 24h1v1h-1zM19 25h1v1h-1zM23 25h1v1h-1z" fill-opacity="0.6"/><path d="M34 3h1v1h-1zM28 4h1v1h-1zM27 5h1v1h-1zM37 6h1v1h-1zM22 9h1v1h-1zM35 10h1v1h-1zM19 11h1v1h-1zM32 12h1v1h-1zM31 13h1v1h-1zM30 14h1v1h-1zM19 15h1v1h-1zM29 15h1v1h-1zM12 17h1v1h-1zM19 17h1v1h-1zM16 18h1v1h-1zM19 19h2v1h-2zM21 20h1v1h-1zM25 20h1v1h-1zM22 21h1v1h-1zM26 21h1v1h-1zM20 22h1v1h-1zM22 22h2v1h-2zM19 23h2v1h-2zM20 24h1v1h-1z" fill-opacity="0.8"/><path d="M33 3h1v1h-1zM35 3h1v1h-1zM37 3h1v1h-1zM30 4h9v1h-9zM28 5h11v1h-11zM27 6h10v1h-10zM25 7h12v1h-12zM24 8h13v1h-13zM23 9h13v1h-13zM21 10h14v1h-14zM20 11h14v1h-14zM20 12h12v1h-12zM19 13h12v1h-12zM19 14h11v1h-11zM18 15h1v1h-1zM20 15h9v1h-9zM19 16h11v1h-11zM18 17h1v1h-1zM20 17h8v1h-8zM20 18h7v1h-7zM21 19h7v1h-7zM22 20h3v1h-3zM26 20h1v1h-1zM19 21h1v1h-1zM21 21h1v1h-1zM23 21h2v1h-2zM21 22h1v1h-1zM25 22h1v1h-1zM22 23h1v1h-1z"/></g>
<rect x="147.45" y="473.3" width="45.8" height="30.2" fill="none" stroke="#777777" stroke-width="1.1"/>
<g transform="translate(194.7,473.3)" fill="#0a7cca" filter="url(#sb)"><path d="M30 3h1v1h-1zM30 4h1v1h-1zM24 5h1v1h-1zM23 6h1v1h-1zM29 6h1v1h-1zM20 7h2v1h-2zM31 7h1v1h-1zM17 8h1v1h-1zM16 9h1v1h-1zM18 9h1v1h-1zM18 10h1v1h-1zM21 10h1v1h-1zM31 10h1v1h-1zM15 11h1v1h-1zM18 11h1v1h-1zM31 11h1v1h-1zM27 12h1v1h-1zM26 14h1v1h-1zM20 16h1v1h-1zM26 16h1v1h-1zM29 18h1v1h-1zM20 19h1v1h-1zM20 20h1v1h-1zM24 20h1v1h-1zM20 21h1v1h-1zM20 22h1v1h-1zM23 22h1v1h-1zM22 24h1v1h-1zM21 25h2v1h-2z" fill-opacity="0.6"/><path d="M25 4h1v1h-1zM20 8h1v1h-1zM28 9h1v1h-1zM31 9h1v1h-1zM30 10h1v1h-1zM21 12h1v1h-1zM25 15h1v1h-1zM25 16h1v1h-1zM21 22h1v1h-1z" fill-opacity="0.8"/><path d="M27 3h3v1h-3zM26 4h4v1h-4zM25 5h5v1h-5zM24 6h5v1h-5zM23 7h6v1h-6zM23 8h6v1h-6zM22 9h6v1h-6zM22 10h6v1h-6zM21 11h6v1h-6zM22 12h5v1h-5zM21 13h5v1h-5zM21 14h5v1h-5zM21 15h4v1h-4zM21 16h4v1h-4zM21 17h4v1h-4zM21 18h4v1h-4zM21 19h4v1h-4zM21 20h3v1h-3zM21 21h3v1h-3zM22 22h1v1h-1zM21 23h2v1h-2zM21 24h1v1h-1z"/></g>
<rect x="194.7" y="473.3" width="45.8" height="30.2" fill="none" stroke="#777777" stroke-width="1.1"/>
<g transform="translate(241.95,473.3)" fill="#0a7cca" filter="url(#sb)"><path d="M34 3h1v1h-1zM29 4h2v1h-2zM28 5h1v1h-1zM27 6h1v1h-1zM22 9h1v1h-1zM35 9h1v1h-1zM19 10h1v1h-1zM33 11h2v1h-2zM14 13h1v1h-1zM17 13h1v1h-1zM29 14h2v1h-2zM13 15h1v1h-1zM12 17h2v1h-2zM27 17h1v1h-1zM12 18h2v1h-2zM16 18h1v1h-1zM27 18h1v1h-1zM12 19h1v1h-1zM26 19h1v1h-1zM11 20h1v1h-1zM14 20h1v1h-1zM18 20h1v1h-1zM20 20h1v1h-1zM13 21h1v1h-1zM15 21h1v1h-1zM22 21h2v1h-2zM13 22h1v1h-1zM17 22h2v1h-2zM21 22h2v1h-2zM24 22h1v1h-1zM14 23h1v1h-1zM17 23h2v1h-2zM20 23h1v1h-1zM22 23h1v1h-1zM16 25h1v1h-1zM19 25h1v1h-1z" fill-opacity="0.6"/><path d="M25 7h1v1h-1zM23 8h1v1h-1zM20 9h2v1h-2zM18 10h1v1h-1zM16 11h2v1h-2zM16 12h1v1h-1zM12 13h1v1h-1zM14 14h1v1h-1zM14 15h1v1h-1zM14 16h1v1h-1zM28 16h2v1h-2zM15 17h1v1h-1zM26 17h1v1h-1zM28 17h1v1h-1zM25 18h1v1h-1zM13 19h1v1h-1zM27 19h2v1h-2zM16 20h1v1h-1zM25 20h1v1h-1zM14 21h1v1h-1zM18 21h1v1h-1zM14 22h2v1h-2zM19 22h1v1h-1zM13 23h1v1h-1zM19 23h1v1h-1zM12 24h2v1h-2z" fill-opacity="0.8"/><path d="M35 3h4v1h-4zM31 4h8v1h-8zM29 5h9v1h-9zM28 6h9v1h-9zM26 7h11v1h-11zM24 8h12v1h-12zM23 9h12v1h-12zM20 10h14v1h-14zM15 11h1v1h-1zM18 11h15v1h-15zM17 12h14v1h-14zM15 13h2v1h-2zM18 13h12v1h-12zM15 14h14v1h-14zM15 15h14v1h-14zM13 16h1v1h-1zM15 16h13v1h-13zM14 17h1v1h-1zM16 17h10v1h-10zM14 18h2v1h-2zM17 18h8v1h-8zM26 18h1v1h-1zM15 19h10v1h-10zM13 20h1v1h-1zM17 20h1v1h-1zM19 20h1v1h-1zM21 20h3v1h-3zM16 21h2v1h-2zM20 21h2v1h-2zM16 22h1v1h-1z"/></g>
<rect x="241.95" y="473.3" width="45.8" height="30.2" fill="none" stroke="#777777" stroke-width="1.1"/>
<g transform="translate(289.2,473.3)" fill="#0a7cca" filter="url(#sb)"><path d="M33 3h1v1h-1zM36 3h1v1h-1zM29 4h2v1h-2zM27 5h1v1h-1zM29 5h1v1h-1zM25 7h1v1h-1zM18 9h1v1h-1zM20 9h2v1h-2zM40 9h1v1h-1zM19 10h1v1h-1zM40 10h1v1h-1zM17 11h1v1h-1zM18 12h1v1h-1zM16 13h1v1h-1zM18 14h1v1h-1zM21 14h2v1h-2zM36 15h1v1h-1zM16 16h3v1h-3zM35 16h1v1h-1zM19 17h1v1h-1zM22 17h1v1h-1zM35 17h2v1h-2zM17 18h1v1h-1zM19 18h1v1h-1zM23 18h1v1h-1zM34 18h1v1h-1zM18 19h1v1h-1zM32 19h1v1h-1zM35 19h1v1h-1zM21 20h1v1h-1zM23 20h2v1h-2zM27 20h2v1h-2zM31 20h1v1h-1zM33 20h1v1h-1zM18 21h1v1h-1zM26 21h1v1h-1zM29 21h1v1h-1zM21 22h2v1h-2zM26 22h1v1h-1zM22 23h1v1h-1zM27 23h1v1h-1zM22 24h1v1h-1zM30 24h1v1h-1zM18 25h1v1h-1zM30 25h1v1h-1z" fill-opacity="0.6"/><path d="M26 6h1v1h-1zM23 8h2v1h-2zM22 9h1v1h-1zM20 10h2v1h-2zM37 12h1v1h-1zM17 13h1v1h-1zM22 13h1v1h-1zM38 13h1v1h-1zM20 14h1v1h-1zM37 14h1v1h-1zM34 16h1v1h-1zM20 17h1v1h-1zM23 17h1v1h-1zM34 17h1v1h-1zM21 18h1v1h-1zM31 18h2v1h-2zM23 19h1v1h-1zM31 19h1v1h-1zM33 19h1v1h-1zM26 20h1v1h-1zM21 21h1v1h-1zM24 21h2v1h-2zM27 21h1v1h-1zM30 21h2v1h-2zM34 21h1v1h-1zM23 22h1v1h-1zM29 22h2v1h-2zM25 23h1v1h-1zM29 23h1v1h-1zM29 24h1v1h-1z" fill-opacity="0.8"/><path d="M34 3h1v1h-1zM38 3h3v1h-3zM31 4h10v1h-10zM30 5h11v1h-11zM27 6h14v1h-14zM26 7h15v1h-15zM25 8h16v1h-16zM23 9h17v1h-17zM22 10h18v1h-18zM19 11h21v1h-21zM20 12h17v1h-17zM38 12h1v1h-1zM20 13h2v1h-2zM23 13h15v1h-15zM23 14h14v1h-14zM21 15h15v1h-15zM20 16h1v1h-1zM22 16h12v1h-12zM24 17h10v1h-10zM22 18h1v1h-1zM24 18h7v1h-7zM33 18h1v1h-1zM24 19h7v1h-7zM22 20h1v1h-1zM25 20h1v1h-1zM29 20h2v1h-2zM32 20h1v1h-1zM23 21h1v1h-1zM28 21h1v1h-1zM25 22h1v1h-1zM28 22h1v1h-1zM30 23h1v1h-1z"/></g>
<rect x="289.2" y="473.3" width="45.8" height="30.2" fill="none" stroke="#777777" stroke-width="1.1"/>
<path d="M353.4 503.5V503.02H353.99V502.9H354.59V502.76H355.18V502.61H355.78V502.47H356.37V502.32H356.97V502.17H357.56V502.02H358.16V501.65H358.75V501.1H359.35V500.54H359.95V499.99H360.54V499.43H361.14V498.47H361.73V497.2H362.33V495.92H362.92V494.57H363.52V491.92H364.11V488.67H364.71V485.43H365.3V482.3H365.9V479.21H366.49V476.19H367.09V474.32H367.69V473.3H368.28V474.8H368.88V477.13H369.47V480.85H370.07V485.08H370.66V488.99H371.26V492.22H371.85V495.39H372.45V497.39H373.04V498.49H373.64V499.6H374.24V500.67H374.83V501.55H375.43V502.39H376.02V503.11H376.62V503.33H377.21V503.5Z" fill="#000000"/>
<path d="M367.98 503.5V474.8" stroke="#2a7fa8" stroke-width="0.9"/>
<rect x="336.45" y="473.3" width="45.8" height="30.2" fill="none" stroke="#777777" stroke-width="1.1"/>
<text transform="translate(200.00,12.90)" font-size="7.8" text-anchor="middle" font-weight="bold" textLength="250" lengthAdjust="spacingAndGlyphs" fill="#000">Pairwise correlation of Simulated returns Gaussian-copula</text>
<text transform="translate(217.20,278.80)" font-size="7.4" text-anchor="middle" font-weight="bold" textLength="191" lengthAdjust="spacingAndGlyphs" fill="#000">Pairwise correlation of Simulated returns Gaussian-copula</text>
<text transform="translate(31.70,235.90) scale(1.16,1)" font-size="5.6" text-anchor="middle" class="t" fill="#262626">-0.6</text>
<text transform="translate(44.10,235.90) scale(1.16,1)" font-size="5.6" text-anchor="middle" class="t" fill="#262626">-0.4</text>
<text transform="translate(56.60,235.90) scale(1.16,1)" font-size="5.6" text-anchor="middle" class="t" fill="#262626">-0.2</text>
<text transform="translate(69.00,235.90) scale(1.16,1)" font-size="5.6" text-anchor="middle" class="t" fill="#262626">0</text>
<text transform="translate(81.40,235.90) scale(1.16,1)" font-size="5.6" text-anchor="middle" class="t" fill="#262626">0.2</text>
<text transform="translate(99.00,235.90) scale(1.16,1)" font-size="5.6" text-anchor="middle" class="t" fill="#262626">-0.5</text>
<text transform="translate(118.10,235.90) scale(1.16,1)" font-size="5.6" text-anchor="middle" class="t" fill="#262626">0</text>
<text transform="translate(137.30,235.90) scale(1.16,1)" font-size="5.6" text-anchor="middle" class="t" fill="#262626">0.5</text>
<text transform="translate(156.40,235.90) scale(1.16,1)" font-size="5.6" text-anchor="middle" class="t" fill="#262626">1</text>
<text transform="translate(169.10,235.90) scale(1.16,1)" font-size="5.6" text-anchor="middle" class="t" fill="#262626">-0.5</text>
<text transform="translate(188.30,235.90) scale(1.16,1)" font-size="5.6" text-anchor="middle" class="t" fill="#262626">0</text>
<text transform="translate(207.50,235.90) scale(1.16,1)" font-size="5.6" text-anchor="middle" class="t" fill="#262626">0.5</text>
<text transform="translate(226.70,235.90) scale(1.16,1)" font-size="5.6" text-anchor="middle" class="t" fill="#262626">1</text>
<text transform="translate(253.60,235.90) scale(1.16,1)" font-size="5.6" text-anchor="middle" class="t" fill="#262626">-0.2</text>
<text transform="translate(270.80,235.90) scale(1.16,1)" font-size="5.6" text-anchor="middle" class="t" fill="#262626">0</text>
<text transform="translate(288.40,235.90) scale(1.16,1)" font-size="5.6" text-anchor="middle" class="t" fill="#262626">0.2</text>
<text transform="translate(313.90,235.90) scale(1.16,1)" font-size="5.6" text-anchor="middle" class="t" fill="#262626">-1</text>
<text transform="translate(331.60,235.90) scale(1.16,1)" font-size="5.6" text-anchor="middle" class="t" fill="#262626">-0.5</text>
<text transform="translate(349.30,235.90) scale(1.16,1)" font-size="5.6" text-anchor="middle" class="t" fill="#262626">0</text>
<text transform="translate(367.00,235.90) scale(1.16,1)" font-size="5.6" text-anchor="middle" class="t" fill="#262626">0.5</text>
<text transform="translate(61.45,242.10) scale(1.2,1)" font-size="5.4" text-anchor="middle" class="t" fill="#262626">Brazil</text>
<text transform="translate(131.05,242.10) scale(1.2,1)" font-size="5.4" text-anchor="middle" class="t" fill="#262626">Russia</text>
<text transform="translate(200.65,242.10) scale(1.2,1)" font-size="5.4" text-anchor="middle" class="t" fill="#262626">India</text>
<text transform="translate(270.25,242.10) scale(1.2,1)" font-size="5.4" text-anchor="middle" class="t" fill="#262626">China</text>
<text transform="translate(339.85,242.10) scale(1.2,1)" font-size="5.4" text-anchor="middle" class="t" fill="#262626">South Africa</text>
<text transform="translate(25.90,25.50) scale(1.19,1)" font-size="5.5" text-anchor="end" class="t" fill="#262626">0.2</text>
<text transform="translate(25.90,33.80) scale(1.19,1)" font-size="5.5" text-anchor="end" class="t" fill="#262626">0</text>
<text transform="translate(25.90,42.80) scale(1.19,1)" font-size="5.5" text-anchor="end" class="t" fill="#262626">-0.2</text>
<text transform="translate(25.90,51.10) scale(1.19,1)" font-size="5.5" text-anchor="end" class="t" fill="#262626">-0.4</text>
<text transform="translate(25.90,58.30) scale(1.19,1)" font-size="5.5" text-anchor="end" class="t" fill="#262626">-0.6</text>
<text transform="translate(25.90,65.20) scale(1.19,1)" font-size="5.5" text-anchor="end" class="t" fill="#262626">1</text>
<text transform="translate(25.90,77.30) scale(1.19,1)" font-size="5.5" text-anchor="end" class="t" fill="#262626">0.5</text>
<text transform="translate(25.90,89.40) scale(1.19,1)" font-size="5.5" text-anchor="end" class="t" fill="#262626">0</text>
<text transform="translate(25.90,101.50) scale(1.19,1)" font-size="5.5" text-anchor="end" class="t" fill="#262626">-0.5</text>
<text transform="translate(25.90,107.90) scale(1.19,1)" font-size="5.5" text-anchor="end" class="t" fill="#262626">1</text>
<text transform="translate(25.90,119.70) scale(1.19,1)" font-size="5.5" text-anchor="end" class="t" fill="#262626">0.5</text>
<text transform="translate(25.90,131.70) scale(1.19,1)" font-size="5.5" text-anchor="end" class="t" fill="#262626">0</text>
<text transform="translate(25.90,143.30) scale(1.19,1)" font-size="5.5" text-anchor="end" class="t" fill="#262626">-0.5</text>
<text transform="translate(25.90,156.40) scale(1.19,1)" font-size="5.5" text-anchor="end" class="t" fill="#262626">0.2</text>
<text transform="translate(25.90,167.30) scale(1.19,1)" font-size="5.5" text-anchor="end" class="t" fill="#262626">0</text>
<text transform="translate(25.90,178.00) scale(1.19,1)" font-size="5.5" text-anchor="end" class="t" fill="#262626">-0.2</text>
<text transform="translate(25.90,192.70) scale(1.19,1)" font-size="5.5" text-anchor="end" class="t" fill="#262626">0.5</text>
<text transform="translate(25.90,203.50) scale(1.19,1)" font-size="5.5" text-anchor="end" class="t" fill="#262626">0</text>
<text transform="translate(25.90,215.10) scale(1.19,1)" font-size="5.5" text-anchor="end" class="t" fill="#262626">-0.5</text>
<text transform="translate(25.90,226.70) scale(1.19,1)" font-size="5.5" text-anchor="end" class="t" fill="#262626">-1</text>
<text transform="translate(11.80,37.00) rotate(-90) scale(1,1.3)" font-size="5.1" text-anchor="middle" class="t" fill="#262626">Brazil</text>
<text transform="translate(11.80,79.77) rotate(-90) scale(1,1.3)" font-size="5.1" text-anchor="middle" class="t" fill="#262626">Russia</text>
<text transform="translate(11.80,122.54) rotate(-90) scale(1,1.3)" font-size="5.1" text-anchor="middle" class="t" fill="#262626">India</text>
<text transform="translate(11.80,165.31) rotate(-90) scale(1,1.3)" font-size="5.1" text-anchor="middle" class="t" fill="#262626">China</text>
<text transform="translate(11.80,208.08) rotate(-90) scale(1,1.3)" font-size="5.1" text-anchor="middle" class="t" fill="#262626">South Africa</text>
<text transform="translate(66.20,509.80) scale(0.97,1)" font-size="4.9" text-anchor="middle" class="t" fill="#262626">-0.2</text>
<text transform="translate(79.20,509.80) scale(0.97,1)" font-size="4.9" text-anchor="middle" class="t" fill="#262626">0</text>
<text transform="translate(92.20,509.80) scale(0.97,1)" font-size="4.9" text-anchor="middle" class="t" fill="#262626">0.2</text>
<text transform="translate(110.60,509.80) scale(0.97,1)" font-size="4.9" text-anchor="middle" class="t" fill="#262626">-0.2</text>
<text transform="translate(123.60,509.80) scale(0.97,1)" font-size="4.9" text-anchor="middle" class="t" fill="#262626">0</text>
<text transform="translate(136.60,509.80) scale(0.97,1)" font-size="4.9" text-anchor="middle" class="t" fill="#262626">0.2</text>
<text transform="translate(153.00,509.80) scale(0.97,1)" font-size="4.9" text-anchor="middle" class="t" fill="#262626">-0.4</text>
<text transform="translate(164.80,509.80) scale(0.97,1)" font-size="4.9" text-anchor="middle" class="t" fill="#262626">-0.2</text>
<text transform="translate(176.60,509.80) scale(0.97,1)" font-size="4.9" text-anchor="middle" class="t" fill="#262626">0</text>
<text transform="translate(188.40,509.80) scale(0.97,1)" font-size="4.9" text-anchor="middle" class="t" fill="#262626">0.2</text>
<text transform="translate(202.60,509.80) scale(0.97,1)" font-size="4.9" text-anchor="middle" class="t" fill="#262626">-1</text>
<text transform="translate(219.40,509.80) scale(0.97,1)" font-size="4.9" text-anchor="middle" class="t" fill="#262626">0</text>
<text transform="translate(236.10,509.80) scale(0.97,1)" font-size="4.9" text-anchor="middle" class="t" fill="#262626">1</text>
<text transform="translate(241.60,509.80) scale(0.97,1)" font-size="4.9" text-anchor="middle" class="t" fill="#262626">-0.6</text>
<text transform="translate(251.20,509.80) scale(0.97,1)" font-size="4.9" text-anchor="middle" class="t" fill="#262626">-0.4</text>
<text transform="translate(260.80,509.80) scale(0.97,1)" font-size="4.9" text-anchor="middle" class="t" fill="#262626">-0.2</text>
<text transform="translate(270.40,509.80) scale(0.97,1)" font-size="4.9" text-anchor="middle" class="t" fill="#262626">0</text>
<text transform="translate(280.00,509.80) scale(0.97,1)" font-size="4.9" text-anchor="middle" class="t" fill="#262626">0.2</text>
<text transform="translate(293.30,509.80) scale(0.97,1)" font-size="4.9" text-anchor="middle" class="t" fill="#262626">-0.4</text>
<text transform="translate(307.60,509.80) scale(0.97,1)" font-size="4.9" text-anchor="middle" class="t" fill="#262626">-0.2</text>
<text transform="translate(322.00,509.80) scale(0.97,1)" font-size="4.9" text-anchor="middle" class="t" fill="#262626">0</text>
<text transform="translate(338.40,509.80) scale(0.97,1)" font-size="4.9" text-anchor="middle" class="t" fill="#262626">-0.3</text>
<text transform="translate(348.20,509.80) scale(0.97,1)" font-size="4.9" text-anchor="middle" class="t" fill="#262626">-0.2</text>
<text transform="translate(358.00,509.80) scale(0.97,1)" font-size="4.9" text-anchor="middle" class="t" fill="#262626">-0.1</text>
<text transform="translate(367.80,509.80) scale(0.97,1)" font-size="4.9" text-anchor="middle" class="t" fill="#262626">0</text>
<text transform="translate(377.60,509.80) scale(0.97,1)" font-size="4.9" text-anchor="middle" class="t" fill="#262626">0.1</text>
<text transform="translate(75.85,516.30) scale(1.07,1)" font-size="4.5" text-anchor="middle" class="t" fill="#262626">Italy</text>
<text transform="translate(123.10,516.30) scale(1.07,1)" font-size="4.5" text-anchor="middle" class="t" fill="#262626">France</text>
<text transform="translate(170.35,516.30) scale(1.07,1)" font-size="4.5" text-anchor="middle" class="t" fill="#262626">UK</text>
<text transform="translate(217.60,516.30) scale(1.07,1)" font-size="4.5" text-anchor="middle" class="t" fill="#262626">Canada</text>
<text transform="translate(264.85,516.30) scale(1.07,1)" font-size="4.5" text-anchor="middle" class="t" fill="#262626">Germany</text>
<text transform="translate(312.10,516.30) scale(1.07,1)" font-size="4.5" text-anchor="middle" class="t" fill="#262626">Japan</text>
<text transform="translate(359.35,516.30) scale(1.07,1)" font-size="4.5" text-anchor="middle" class="t" fill="#262626">US</text>
<text transform="translate(51.30,288.75) scale(0.95,1)" font-size="5.0" text-anchor="end" class="t" fill="#262626">0.2</text>
<text transform="translate(51.30,297.25) scale(0.95,1)" font-size="5.0" text-anchor="end" class="t" fill="#262626">0</text>
<text transform="translate(51.30,306.55) scale(0.95,1)" font-size="5.0" text-anchor="end" class="t" fill="#262626">-0.2</text>
<text transform="translate(51.30,320.55) scale(0.95,1)" font-size="5.0" text-anchor="end" class="t" fill="#262626">0.2</text>
<text transform="translate(51.30,330.35) scale(0.95,1)" font-size="5.0" text-anchor="end" class="t" fill="#262626">0</text>
<text transform="translate(51.30,340.55) scale(0.95,1)" font-size="5.0" text-anchor="end" class="t" fill="#262626">-0.2</text>
<text transform="translate(51.30,351.55) scale(0.95,1)" font-size="5.0" text-anchor="end" class="t" fill="#262626">0.2</text>
<text transform="translate(51.30,359.05) scale(0.95,1)" font-size="5.0" text-anchor="end" class="t" fill="#262626">0</text>
<text transform="translate(51.30,367.15) scale(0.95,1)" font-size="5.0" text-anchor="end" class="t" fill="#262626">-0.2</text>
<text transform="translate(51.30,375.35) scale(0.95,1)" font-size="5.0" text-anchor="end" class="t" fill="#262626">-0.4</text>
<text transform="translate(51.30,381.75) scale(0.95,1)" font-size="5.0" text-anchor="end" class="t" fill="#262626">1</text>
<text transform="translate(51.30,393.85) scale(0.95,1)" font-size="5.0" text-anchor="end" class="t" fill="#262626">0</text>
<text transform="translate(51.30,404.65) scale(0.95,1)" font-size="5.0" text-anchor="end" class="t" fill="#262626">-1</text>
<text transform="translate(51.30,416.95) scale(0.95,1)" font-size="5.0" text-anchor="end" class="t" fill="#262626">0.2</text>
<text transform="translate(51.30,423.05) scale(0.95,1)" font-size="5.0" text-anchor="end" class="t" fill="#262626">0</text>
<text transform="translate(51.30,429.65) scale(0.95,1)" font-size="5.0" text-anchor="end" class="t" fill="#262626">-0.2</text>
<text transform="translate(51.30,435.75) scale(0.95,1)" font-size="5.0" text-anchor="end" class="t" fill="#262626">-0.4</text>
<text transform="translate(51.30,442.15) scale(0.95,1)" font-size="5.0" text-anchor="end" class="t" fill="#262626">-0.6</text>
<text transform="translate(51.30,451.95) scale(0.95,1)" font-size="5.0" text-anchor="end" class="t" fill="#262626">0</text>
<text transform="translate(51.30,461.75) scale(0.95,1)" font-size="5.0" text-anchor="end" class="t" fill="#262626">-0.2</text>
<text transform="translate(51.30,470.15) scale(0.95,1)" font-size="5.0" text-anchor="end" class="t" fill="#262626">-0.4</text>
<text transform="translate(51.30,478.55) scale(0.95,1)" font-size="5.0" text-anchor="end" class="t" fill="#262626">0.1</text>
<text transform="translate(51.30,484.75) scale(0.95,1)" font-size="5.0" text-anchor="end" class="t" fill="#262626">0</text>
<text transform="translate(51.30,491.85) scale(0.95,1)" font-size="5.0" text-anchor="end" class="t" fill="#262626">-0.1</text>
<text transform="translate(51.30,498.15) scale(0.95,1)" font-size="5.0" text-anchor="end" class="t" fill="#262626">-0.2</text>
<text transform="translate(51.30,504.75) scale(0.95,1)" font-size="5.0" text-anchor="end" class="t" fill="#262626">-0.3</text>
<text transform="translate(40.80,297.60) rotate(-90)" font-size="5.0" text-anchor="middle" class="t" fill="#262626">Italy</text>
<text transform="translate(40.80,329.40) rotate(-90)" font-size="5.0" text-anchor="middle" class="t" fill="#262626">France</text>
<text transform="translate(40.80,361.20) rotate(-90)" font-size="5.0" text-anchor="middle" class="t" fill="#262626">UK</text>
<text transform="translate(45.00,393.00) rotate(-90)" font-size="5.0" text-anchor="middle" class="t" fill="#262626">Canada</text>
<text transform="translate(40.80,424.80) rotate(-90)" font-size="5.0" text-anchor="middle" class="t" fill="#262626">Germany</text>
<text transform="translate(40.80,456.60) rotate(-90)" font-size="5.0" text-anchor="middle" class="t" fill="#262626">Japan</text>
<text transform="translate(40.80,488.40) rotate(-90)" font-size="5.0" text-anchor="middle" class="t" fill="#262626">US</text>
<text x="138" y="260.9" font-size="9.2" textLength="104.8" lengthAdjust="spacingAndGlyphs" class="serif" fill="#000">(<tspan font-weight="bold">b</tspan>) Plots of BRICS markets</text>
<text x="146.2" y="544.5" font-size="9.2" textLength="89" lengthAdjust="spacingAndGlyphs" class="serif" fill="#000">(<tspan font-weight="bold">c</tspan>) Plots of G7 markets</text>
</svg>
</body></html>
